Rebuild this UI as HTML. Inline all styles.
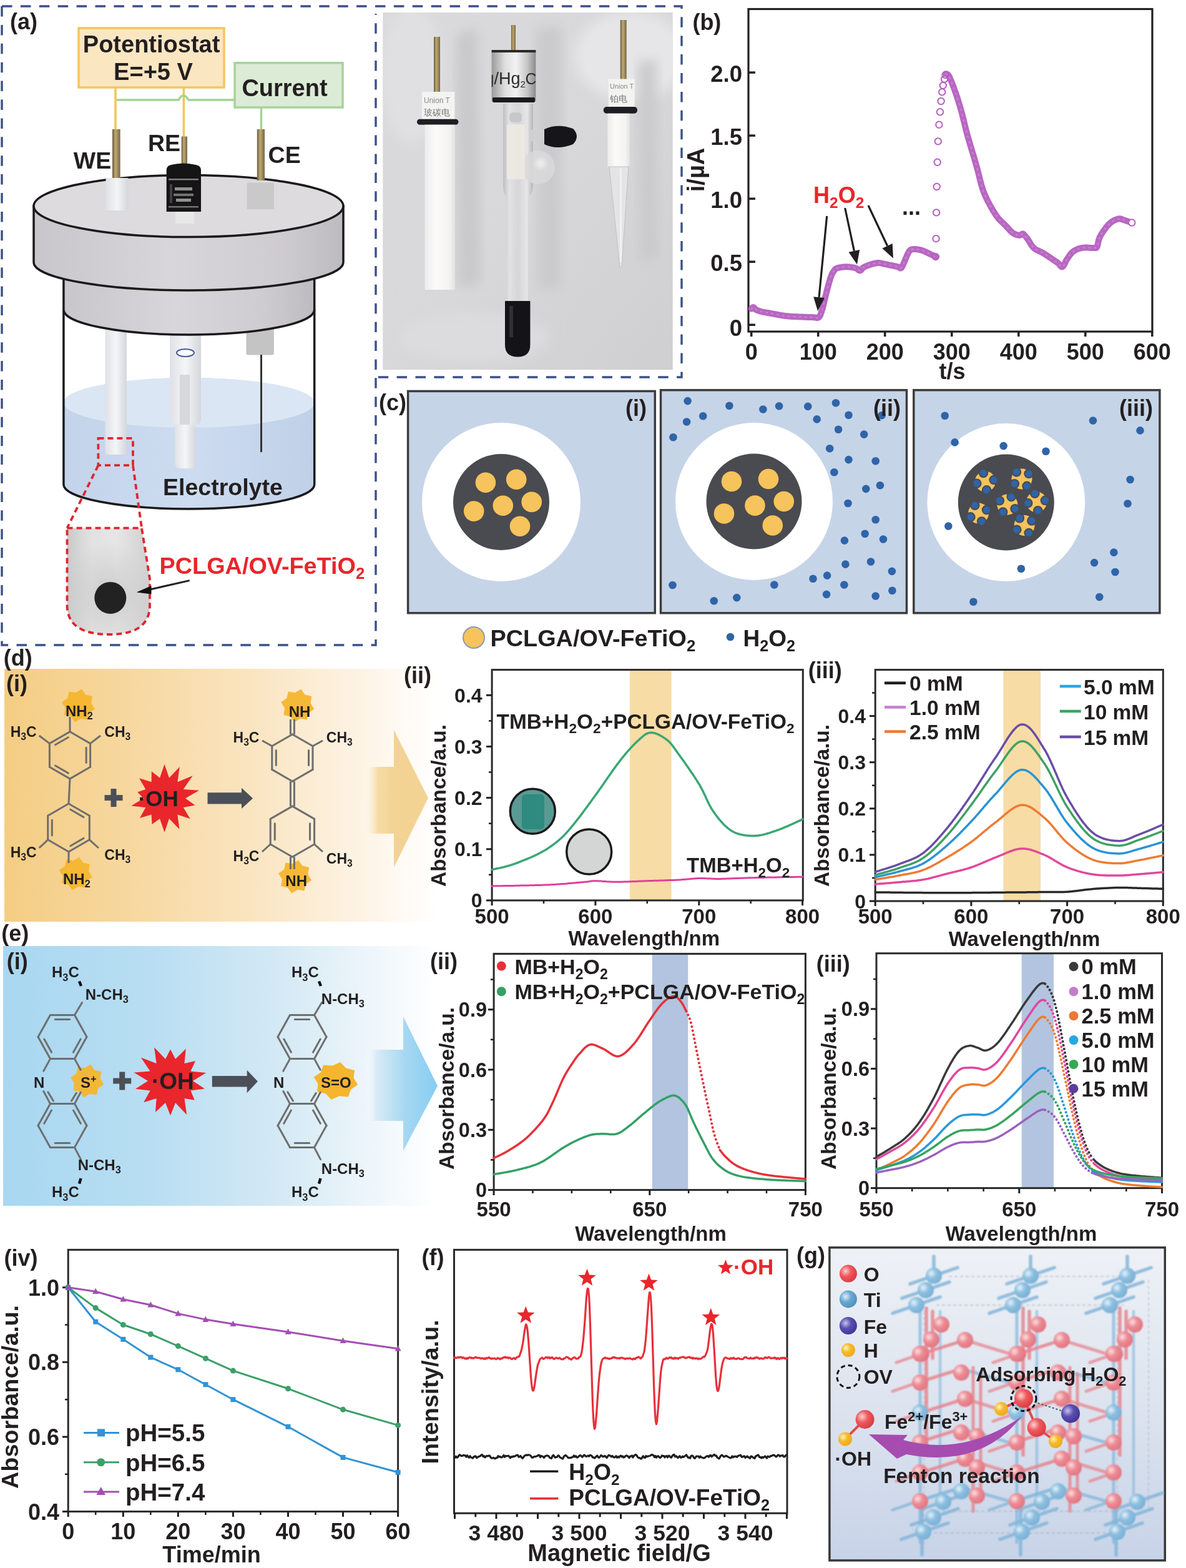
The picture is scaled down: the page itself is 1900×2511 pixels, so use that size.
<!DOCTYPE html>
<html><head><meta charset="utf-8"><title>Figure</title>
<style>html,body{margin:0;padding:0;background:#fff;} svg{display:block;} text{font-family:"Liberation Sans", Arial, sans-serif;}</style>
</head><body>
<svg width="1900" height="2511" viewBox="0 0 1900 2511">
<rect width="1900" height="2511" fill="#ffffff"/>
<path d="M3,10 H1092 V604 H602" stroke="#3b4f8a" stroke-width="3.4" stroke-dasharray="16.5 13.4" fill="none"/>
<path d="M3,10 V1033 H602 V22" stroke="#3b4f8a" stroke-width="3.4" stroke-dasharray="16.5 13.4" fill="none"/>
<rect x="126.0" y="45.0" width="233.0" height="95.0" fill="#fbe6c2" stroke="#f4c560" stroke-width="3.5" />
<text x="242.6" y="84.4" font-size="38" text-anchor="middle" fill="#231f20" font-weight="bold" >Potentiostat</text>
<text x="245.5" y="127.8" font-size="38" text-anchor="middle" fill="#231f20" font-weight="bold" >E=+5 V</text>
<rect x="376.0" y="100.7" width="173.0" height="71.3" fill="#dbebd5" stroke="#a6d399" stroke-width="3.5" />
<text x="456.0" y="153.7" font-size="38" text-anchor="middle" fill="#231f20" font-weight="bold" >Current</text>
<line x1="185.0" y1="140.0" x2="185.0" y2="210.0" stroke="#f2c653" stroke-width="3.5" />
<line x1="294.4" y1="140.0" x2="294.4" y2="220.0" stroke="#f2c653" stroke-width="3.5" />
<path d="M187,160 H286 Q294,146 302,160 H376" stroke="#a3d394" stroke-width="3.5" fill="none"/>
<line x1="418.5" y1="172.0" x2="418.5" y2="210.0" stroke="#a3d394" stroke-width="3.5" />
<defs>
<linearGradient id="gLid" x1="0" x2="1" y1="0" y2="0"><stop offset="0" stop-color="#c9c6cb"/><stop offset="0.45" stop-color="#d8d6da"/><stop offset="0.8" stop-color="#cfccd1"/><stop offset="1" stop-color="#bdbac0"/></linearGradient>
<linearGradient id="gLiq" x1="0" x2="1" y1="0" y2="0"><stop offset="0" stop-color="#c3d3ea"/><stop offset="0.5" stop-color="#cddcf0"/><stop offset="1" stop-color="#c0d0e8"/></linearGradient>
<linearGradient id="gRod" x1="0" x2="1"><stop offset="0" stop-color="#675a40"/><stop offset="0.4" stop-color="#c2aa6e"/><stop offset="1" stop-color="#756648"/></linearGradient>
<linearGradient id="gTube" x1="0" x2="1"><stop offset="0" stop-color="#dfe1e6"/><stop offset="0.5" stop-color="#f4f5f7"/><stop offset="1" stop-color="#d4d6dc"/></linearGradient>
<radialGradient id="gTip" cx="0.5" cy="0.45" r="0.6"><stop offset="0" stop-color="#c9c9c9"/><stop offset="0.6" stop-color="#dadada"/><stop offset="1" stop-color="#f0f0f0"/></radialGradient>
</defs>
<path d="M101.9,496 V776 A200.9,39 0 0 0 503.7,776 V496 Z" fill="#ffffff" stroke="none"/>
<path d="M101.9,645 V776 A200.9,39 0 0 0 503.7,776 V645 A200.9,40 0 0 0 101.9,645 Z" fill="url(#gLiq)"/>
<ellipse cx="302.8" cy="645" rx="200.9" ry="40" fill="#dbe6f4"/>
<rect x="168.5" y="480.0" width="34.5" height="248.0" fill="url(#gTube)" stroke="none" stroke-width="0" rx="3"/>
<rect x="272.0" y="480.0" width="50.0" height="200.0" fill="url(#gTube)" stroke="none" stroke-width="0" rx="8"/>
<rect x="280.0" y="680.0" width="34.0" height="70.0" fill="url(#gTube)" stroke="none" stroke-width="0" rx="8"/>
<ellipse cx="297" cy="565" rx="14" ry="6" fill="#ffffff" stroke="#4a5c9a" stroke-width="2"/>
<rect x="288.0" y="600.0" width="16.0" height="80.0" fill="#d0d2d6" stroke="none" stroke-width="0" opacity="0.8"/>
<rect x="394.4" y="520.0" width="44.5" height="48.5" fill="#c4c4c4" stroke="none" stroke-width="0" rx="3"/>
<line x1="418.5" y1="568.0" x2="418.5" y2="724.0" stroke="#333" stroke-width="3" />
<path d="M101.9,496 V776 A200.9,39 0 0 0 503.7,776 V496" fill="none" stroke="#1a1a1a" stroke-width="3.5"/>
<path d="M101.9,440 V496 A200.9,40 0 0 0 503.7,496 V440 Z" fill="url(#gLid)" stroke="#1a1a1a" stroke-width="3.5"/>
<path d="M54,330 V420 A248,45 0 0 0 550,420 V330 Z" fill="url(#gLid)" stroke="#1a1a1a" stroke-width="3.5"/>
<ellipse cx="302" cy="330" rx="248" ry="49.6" fill="#dddbde" stroke="#1a1a1a" stroke-width="3.5"/>
<rect x="169.6" y="285.0" width="36.0" height="52.0" fill="url(#gTube)" stroke="none" stroke-width="0" />
<rect x="180.0" y="207.0" width="12.6" height="78.0" fill="url(#gRod)" stroke="none" stroke-width="0" />
<rect x="290.7" y="218.5" width="9.3" height="48.0" fill="url(#gRod)" stroke="none" stroke-width="0" />
<rect x="281.0" y="336.0" width="30.0" height="22.0" fill="#e8e8e8" stroke="none" stroke-width="0" />
<path d="M266.7,339 V272 Q266.7,266 274,264 Q294,259 314,264 Q322,266 322,272 V339 Z" fill="#151515"/>
<rect x="270.0" y="286.0" width="48.0" height="2.5" fill="#9a9a9a" stroke="none" stroke-width="0" opacity="0.8"/>
<rect x="270.0" y="330.0" width="48.0" height="2.5" fill="#8a8a8a" stroke="none" stroke-width="0" opacity="0.8"/>
<rect x="280.0" y="300.0" width="28.0" height="5.0" fill="#bbbbbb" stroke="none" stroke-width="0" opacity="0.75"/>
<rect x="278.0" y="310.0" width="32.0" height="4.0" fill="#9a9a9a" stroke="none" stroke-width="0" opacity="0.7"/>
<rect x="282.0" y="318.0" width="24.0" height="5.0" fill="#bbbbbb" stroke="none" stroke-width="0" opacity="0.75"/>
<rect x="272.0" y="295.0" width="4.0" height="30.0" fill="#555" stroke="none" stroke-width="0" opacity="0.7"/>
<rect x="395.5" y="292.6" width="43.4" height="42.4" fill="#c9c9c9" stroke="none" stroke-width="0" />
<rect x="411.8" y="207.0" width="12.2" height="82.0" fill="url(#gRod)" stroke="none" stroke-width="0" />
<text x="117.8" y="269.6" font-size="37.5" text-anchor="start" fill="#231f20" font-weight="bold" >WE</text>
<text x="237.0" y="241.5" font-size="37.5" text-anchor="start" fill="#231f20" font-weight="bold" >RE</text>
<text x="429.6" y="261.0" font-size="37.5" text-anchor="start" fill="#231f20" font-weight="bold" >CE</text>
<text x="261.0" y="792.6" font-size="37.5" text-anchor="start" fill="#231f20" font-weight="bold" >Electrolyte</text>
<defs><linearGradient id="gCall" x1="0" x2="1"><stop offset="0" stop-color="#c9cacb"/><stop offset="0.3" stop-color="#e2e2e2"/><stop offset="0.6" stop-color="#e6e6e6"/><stop offset="1" stop-color="#cfcfd0"/></linearGradient><radialGradient id="gCall2" cx="0.5" cy="0.62" r="0.5"><stop offset="0" stop-color="#bdbdbd" stop-opacity="0.6"/><stop offset="1" stop-color="#bdbdbd" stop-opacity="0"/></radialGradient></defs>
<path d="M107.5,845.7 H227 L240,927 V969 Q240,1016 175.6,1016 Q107.5,1016 107.5,969 Z" fill="url(#gCall)"/>
<path d="M107.5,845.7 H227 L240,927 V969 Q240,1016 175.6,1016 Q107.5,1016 107.5,969 Z" fill="url(#gCall2)"/>
<circle cx="176.8" cy="957.4" r="25.5" fill="#222222" stroke="none" stroke-width="0" />
<path d="M107.5,845.7 H227 L240,927 V969 Q240,1016 175.6,1016 Q107.5,1016 107.5,969 Z" stroke="#e0262e" stroke-width="3.8" stroke-dasharray="9 6" fill="none"/>
<path d="M157.4,701.8 H213 V745.2 H157.4 Z" stroke="#e0262e" stroke-width="3.8" stroke-dasharray="9 6" fill="none"/>
<path d="M157.4,745.2 L107.5,845.7 M213,745.2 L227,845.7" stroke="#e0262e" stroke-width="3.8" stroke-dasharray="9 6" fill="none"/>
<line x1="303.7" y1="929.6" x2="238.0" y2="944.5" stroke="#231f20" stroke-width="3" />
<polygon points="218.6,948.4 242.5,938.0 242.5,951.4" fill="#111" stroke="none" stroke-width="0" />
<text x="255.6" y="918.5" font-size="37.8" text-anchor="start" fill="#e8262b" font-weight="bold" >PCLGA/OV-FeTiO<tspan dy="8.3" font-size="25.7">2</tspan></text>
<text x="16.0" y="47.0" font-size="36" text-anchor="start" fill="#231f20" font-weight="bold" >(a)</text>
<defs>
<linearGradient id="gPh" x1="0" x2="1" y1="0" y2="1"><stop offset="0" stop-color="#dadadc"/><stop offset="0.5" stop-color="#d8d8da"/><stop offset="1" stop-color="#cfcfd1"/></linearGradient>
<linearGradient id="gWhite" x1="0" x2="1"><stop offset="0" stop-color="#ececec"/><stop offset="0.35" stop-color="#fbfaf9"/><stop offset="0.8" stop-color="#f4f3f2"/><stop offset="1" stop-color="#e2e2e2"/></linearGradient>
<linearGradient id="gMetal" x1="0" x2="1"><stop offset="0" stop-color="#9a9a9a"/><stop offset="0.3" stop-color="#dedede"/><stop offset="0.55" stop-color="#f2f2f2"/><stop offset="0.8" stop-color="#c8c8c8"/><stop offset="1" stop-color="#8a8a8a"/></linearGradient>
<linearGradient id="gGlass" x1="0" x2="1"><stop offset="0" stop-color="#b9b9bb"/><stop offset="0.2" stop-color="#e4e4e6"/><stop offset="0.5" stop-color="#d6d6d8"/><stop offset="0.8" stop-color="#e8e8ea"/><stop offset="1" stop-color="#b0b0b3"/></linearGradient>
<filter id="fBl" x="-20%" y="-20%" width="140%" height="140%"><feGaussianBlur stdDeviation="9"/></filter>
<filter id="fBl2" x="-20%" y="-20%" width="140%" height="140%"><feGaussianBlur stdDeviation="3"/></filter>
<clipPath id="cPh"><rect x="613.3" y="20" width="464.4" height="572"/></clipPath>
<clipPath id="cCap"><rect x="787.6" y="81.7" width="70.8" height="80.6"/></clipPath>
</defs>
<rect x="613.3" y="20.0" width="464.4" height="572.0" fill="url(#gPh)" stroke="none" stroke-width="0" />
<g clip-path="url(#cPh)">
<ellipse cx="1010" cy="90" rx="90" ry="70" fill="#e6e6e8" filter="url(#fBl)"/>
<ellipse cx="660" cy="120" rx="50" ry="110" fill="#e0e0e2" filter="url(#fBl)"/>
<ellipse cx="760" cy="540" rx="120" ry="40" fill="#dcdcde" filter="url(#fBl)"/>
<path d="M732,55 L765,45 L770,455 L734,460 Z" fill="#c9c9cc" filter="url(#fBl)"/>
<path d="M858,45 L900,40 L900,460 L862,465 Z" fill="#cbcbce" filter="url(#fBl)"/>
<path d="M1022,100 L1052,95 L1055,415 L1024,420 Z" fill="#cbcbce" filter="url(#fBl)"/>
</g>
<rect x="695.0" y="59.0" width="10.0" height="90.0" fill="url(#gRod)" stroke="none" stroke-width="0" />
<rect x="676.0" y="147.0" width="52.4" height="44.0" fill="#f3f3f1" stroke="none" stroke-width="0" />
<text x="679.0" y="165.0" font-size="12" text-anchor="start" fill="#8a8a8a" font-weight="normal" >Union T</text>
<text x="679.0" y="185.0" font-size="14" text-anchor="start" fill="#777" font-weight="normal" >玻碳电</text>
<rect x="668" y="190.7" width="66.4" height="9" rx="4.5" fill="#1e1e22"/>
<rect x="680.6" y="199.7" width="48.4" height="264.3" fill="url(#gWhite)" stroke="none" stroke-width="0" />
<rect x="819.0" y="40.0" width="7.0" height="42.0" fill="url(#gRod)" stroke="none" stroke-width="0" />
<rect x="787.6" y="81.7" width="70.8" height="80.6" fill="url(#gMetal)" stroke="none" stroke-width="0" />
<rect x="787.6" y="80.0" width="70.8" height="4.0" fill="#2a2a2a" stroke="none" stroke-width="0" />
<rect x="789.0" y="156.0" width="68.0" height="8.0" fill="#1a1a1a" stroke="none" stroke-width="0" rx="2"/>
<g clip-path="url(#cCap)"><text x="776.5" y="135.0" font-size="27" text-anchor="start" fill="#2a2a2a" font-weight="normal" >g/Hg</text><text x="841.5" y="135.0" font-size="25" text-anchor="start" fill="#2a2a2a" font-weight="normal" >Cl</text><text x="833.5" y="140.0" font-size="15" text-anchor="start" fill="#2a2a2a" font-weight="normal" >2</text></g>
<path d="M806,166 H854 V292 Q854,312 846,316 V482 H812 V316 Q806,312 806,292 Z" fill="url(#gGlass)" opacity="0.85"/>
<circle cx="862" cy="268" r="27" fill="#d9d9db" opacity="0.85"/>
<circle cx="866" cy="262" r="8" fill="#f2f2f2" opacity="0.8" filter="url(#fBl2)"/>
<rect x="812.0" y="199.0" width="29.0" height="88.0" fill="#ece8e2" stroke="none" stroke-width="0" opacity="0.95"/>
<rect x="816.0" y="180.0" width="20.0" height="16.0" fill="#c8c8c8" stroke="none" stroke-width="0" rx="6"/>
<rect x="850.0" y="208.0" width="24.0" height="18.0" fill="#d0d0d2" stroke="none" stroke-width="0" />
<path d="M872,207 Q893,197 918,206 Q930,218 918,231 Q893,241 872,231 Z" fill="#16161a"/>
<path d="M809,482 H849.4 V552 Q849.4,571.5 829.2,571.5 Q809,571.5 809,552 Z" fill="#141418"/>
<rect x="816.0" y="490.0" width="6.0" height="50.0" fill="#3a3a40" stroke="none" stroke-width="0" opacity="0.7"/>
<rect x="993.7" y="32.0" width="10.0" height="95.0" fill="url(#gRod)" stroke="none" stroke-width="0" />
<rect x="974.8" y="126.5" width="41.9" height="46.3" fill="#f3f3f1" stroke="none" stroke-width="0" />
<text x="977.0" y="142.0" font-size="11" text-anchor="start" fill="#8a8a8a" font-weight="normal" >Union T</text>
<text x="977.0" y="163.0" font-size="14" text-anchor="start" fill="#777" font-weight="normal" >铂电</text>
<rect x="966.8" y="171" width="54.2" height="10.7" rx="5" fill="#1e1e22"/>
<rect x="973.4" y="181.7" width="35.6" height="85.2" fill="url(#gWhite)" stroke="none" stroke-width="0" />
<path d="M976,267 H1007 L996,428 H993 Z" fill="#e4e4e6" stroke="#c4c4c6" stroke-width="1.2"/>
<line x1="994.5" y1="270.0" x2="994.5" y2="420.0" stroke="#f6f6f6" stroke-width="2" />
<rect x="1199.0" y="14.5" width="647.0" height="516.5" fill="none" stroke="#231f20" stroke-width="3.2" />
<line x1="1199.0" y1="520.2" x2="1210.0" y2="520.2" stroke="#231f20" stroke-width="3.5" />
<line x1="1199.0" y1="419.2" x2="1210.0" y2="419.2" stroke="#231f20" stroke-width="3.5" />
<line x1="1199.0" y1="318.2" x2="1210.0" y2="318.2" stroke="#231f20" stroke-width="3.5" />
<line x1="1199.0" y1="217.1" x2="1210.0" y2="217.1" stroke="#231f20" stroke-width="3.5" />
<line x1="1199.0" y1="116.1" x2="1210.0" y2="116.1" stroke="#231f20" stroke-width="3.5" />
<text x="1189.0" y="538.2" font-size="36.5" text-anchor="end" fill="#231f20" font-weight="bold" >0</text>
<text x="1189.0" y="434.2" font-size="36.5" text-anchor="end" fill="#231f20" font-weight="bold" >0.5</text>
<text x="1189.0" y="333.2" font-size="36.5" text-anchor="end" fill="#231f20" font-weight="bold" >1.0</text>
<text x="1189.0" y="232.1" font-size="36.5" text-anchor="end" fill="#231f20" font-weight="bold" >1.5</text>
<text x="1189.0" y="131.1" font-size="36.5" text-anchor="end" fill="#231f20" font-weight="bold" >2.0</text>
<line x1="1203.7" y1="531.0" x2="1203.7" y2="539.0" stroke="#231f20" stroke-width="3.5" />
<text x="1203.7" y="575.8" font-size="36" text-anchor="middle" fill="#231f20" font-weight="bold" >0</text>
<line x1="1310.7" y1="531.0" x2="1310.7" y2="539.0" stroke="#231f20" stroke-width="3.5" />
<text x="1310.7" y="575.8" font-size="36" text-anchor="middle" fill="#231f20" font-weight="bold" >100</text>
<line x1="1417.7" y1="531.0" x2="1417.7" y2="539.0" stroke="#231f20" stroke-width="3.5" />
<text x="1417.7" y="575.8" font-size="36" text-anchor="middle" fill="#231f20" font-weight="bold" >200</text>
<line x1="1524.8" y1="531.0" x2="1524.8" y2="539.0" stroke="#231f20" stroke-width="3.5" />
<text x="1524.8" y="575.8" font-size="36" text-anchor="middle" fill="#231f20" font-weight="bold" >300</text>
<line x1="1631.8" y1="531.0" x2="1631.8" y2="539.0" stroke="#231f20" stroke-width="3.5" />
<text x="1631.8" y="575.8" font-size="36" text-anchor="middle" fill="#231f20" font-weight="bold" >400</text>
<line x1="1738.8" y1="531.0" x2="1738.8" y2="539.0" stroke="#231f20" stroke-width="3.5" />
<text x="1738.8" y="575.8" font-size="36" text-anchor="middle" fill="#231f20" font-weight="bold" >500</text>
<line x1="1845.8" y1="531.0" x2="1845.8" y2="539.0" stroke="#231f20" stroke-width="3.5" />
<text x="1845.8" y="575.8" font-size="36" text-anchor="middle" fill="#231f20" font-weight="bold" >600</text>
<text x="1525.5" y="607.0" font-size="36" text-anchor="middle" fill="#231f20" font-weight="bold" >t/s</text>
<text x="0" y="0" font-size="38" text-anchor="middle" fill="#231f20" font-weight="bold" transform="translate(1128.2,272.0) rotate(-90)" >i/µA</text>
<text x="1109.4" y="47.5" font-size="36" text-anchor="start" fill="#231f20" font-weight="bold" >(b)</text>
<polyline points="1203.7,494.5 1203.9,494.4 1204.1,494.1 1204.4,493.7 1204.7,493.4 1205.0,493.0 1205.4,492.6 1205.8,492.3 1206.1,492.1 1206.5,491.9 1206.9,491.9 1207.3,492.1 1207.6,492.3 1208.0,492.7 1208.3,493.1 1208.7,493.6 1209.1,494.1 1209.6,494.6 1210.0,495.1 1210.6,495.6 1211.2,496.0 1211.8,496.3 1212.5,496.6 1213.2,496.9 1213.9,497.2 1214.7,497.5 1215.6,497.8 1216.5,498.1 1217.5,498.4 1218.6,498.7 1219.8,499.0 1221.0,499.3 1222.4,499.6 1223.8,499.9 1225.3,500.1 1226.8,500.4 1228.5,500.7 1230.2,501.0 1232.0,501.3 1233.9,501.7 1235.8,502.0 1237.9,502.4 1240.0,502.8 1242.3,503.2 1244.6,503.7 1247.0,504.1 1249.5,504.6 1252.0,505.0 1254.5,505.4 1256.9,505.8 1259.3,506.1 1261.8,506.3 1264.3,506.5 1266.9,506.7 1269.4,506.9 1272.0,507.0 1274.5,507.1 1277.0,507.2 1279.4,507.3 1281.8,507.4 1284.0,507.5 1286.1,507.6 1288.1,507.7 1290.2,507.7 1292.1,507.8 1294.0,507.9 1295.8,507.9 1297.5,508.0 1299.2,508.0 1300.7,508.0 1302.2,508.1 1303.5,508.2 1304.7,508.3 1305.8,508.5 1306.8,508.7 1307.8,508.9 1308.7,509.0 1309.5,509.0 1310.3,508.9 1311.0,508.6 1311.8,508.1 1312.5,507.4 1313.1,506.6 1313.7,505.6 1314.3,504.5 1314.7,503.3 1315.2,502.0 1315.7,500.6 1316.2,499.1 1316.6,497.5 1317.1,496.0 1317.7,494.3 1318.2,492.4 1318.7,490.4 1319.2,488.4 1319.7,486.2 1320.2,484.1 1320.7,481.9 1321.2,479.8 1321.7,477.7 1322.2,475.7 1322.6,473.8 1323.1,472.0 1323.6,470.1 1324.0,468.2 1324.5,466.4 1324.9,464.6 1325.4,462.8 1325.8,461.0 1326.3,459.3 1326.8,457.6 1327.3,455.8 1327.8,454.1 1328.3,452.3 1328.8,450.6 1329.3,448.9 1329.8,447.2 1330.3,445.6 1330.8,444.1 1331.3,442.7 1331.8,441.4 1332.3,440.2 1332.7,439.2 1333.2,438.3 1333.6,437.4 1334.1,436.6 1334.5,435.9 1335.0,435.2 1335.5,434.5 1335.9,433.9 1336.4,433.3 1336.9,432.7 1337.2,432.2 1337.6,431.7 1338.0,431.3 1338.4,430.9 1338.8,430.6 1339.3,430.2 1339.9,429.9 1340.7,429.6 1341.5,429.3 1342.6,429.0 1343.8,428.7 1345.1,428.4 1346.5,428.1 1348.0,427.9 1349.5,427.7 1351.1,427.5 1352.6,427.4 1354.2,427.3 1355.7,427.3 1357.2,427.3 1358.7,427.4 1360.3,427.5 1362.0,427.7 1363.6,427.9 1365.2,428.1 1366.7,428.4 1368.1,428.7 1369.5,429.0 1370.6,429.3 1371.7,429.6 1372.6,430.1 1373.4,430.7 1374.1,431.2 1374.7,431.8 1375.3,432.3 1375.9,432.8 1376.5,433.1 1377.1,433.3 1377.8,433.3 1378.5,433.1 1379.1,432.8 1379.6,432.2 1380.1,431.6 1380.7,430.9 1381.3,430.2 1382.0,429.4 1382.9,428.6 1383.9,427.9 1385.1,427.3 1386.6,426.6 1388.3,425.9 1390.2,425.2 1392.2,424.4 1394.3,423.7 1396.5,423.0 1398.6,422.4 1400.7,421.9 1402.7,421.5 1404.5,421.2 1406.1,421.1 1407.6,421.1 1409.0,421.1 1410.3,421.3 1411.6,421.6 1413.0,421.9 1414.3,422.2 1415.7,422.6 1417.2,422.9 1418.8,423.2 1420.6,423.5 1422.6,423.9 1424.7,424.3 1426.8,424.8 1429.0,425.2 1431.1,425.7 1433.2,426.1 1435.0,426.5 1436.7,426.9 1438.1,427.3 1439.2,427.6 1440.0,428.0 1440.7,428.3 1441.2,428.7 1441.7,429.0 1442.0,429.3 1442.3,429.5 1442.6,429.6 1443.0,429.5 1443.4,429.3 1443.9,428.9 1444.4,428.4 1444.8,427.7 1445.3,427.0 1445.7,426.1 1446.2,425.2 1446.6,424.2 1447.1,423.2 1447.5,422.2 1448.0,421.2 1448.5,420.1 1449.0,419.0 1449.5,417.7 1450.0,416.4 1450.5,415.1 1451.0,413.8 1451.6,412.5 1452.1,411.3 1452.6,410.1 1453.0,409.1 1453.5,408.1 1454.0,407.1 1454.4,406.2 1454.8,405.3 1455.3,404.4 1455.7,403.6 1456.2,402.8 1456.7,402.2 1457.2,401.5 1457.8,401.0 1458.3,400.5 1458.9,400.1 1459.5,399.8 1460.2,399.6 1460.8,399.3 1461.5,399.2 1462.2,399.1 1463.0,399.0 1463.9,399.0 1464.8,399.0 1465.8,399.0 1467.0,399.1 1468.2,399.2 1469.4,399.3 1470.7,399.5 1472.0,399.8 1473.3,400.0 1474.7,400.3 1475.9,400.6 1477.1,401.0 1478.3,401.4 1479.5,401.8 1480.6,402.3 1481.7,402.8 1482.9,403.3 1484.0,403.9 1485.1,404.4 1486.2,405.0 1487.3,405.5 1488.4,406.0 1489.5,406.6 1490.7,407.1 1491.9,407.7 1493.1,408.3 1494.3,408.9 1495.4,409.4 1496.5,409.9 1497.4,410.4 1498.2,410.8 1498.9,411.1" fill="none" stroke="#b45fbf" stroke-width="10" stroke-linejoin="round" stroke-linecap="round" opacity="0.95"/>
<polyline points="1203.7,494.5 1203.9,494.4 1204.1,494.1 1204.4,493.7 1204.7,493.4 1205.0,493.0 1205.4,492.6 1205.8,492.3 1206.1,492.1 1206.5,491.9 1206.9,491.9 1207.3,492.1 1207.6,492.3 1208.0,492.7 1208.3,493.1 1208.7,493.6 1209.1,494.1 1209.6,494.6 1210.0,495.1 1210.6,495.6 1211.2,496.0 1211.8,496.3 1212.5,496.6 1213.2,496.9 1213.9,497.2 1214.7,497.5 1215.6,497.8 1216.5,498.1 1217.5,498.4 1218.6,498.7 1219.8,499.0 1221.0,499.3 1222.4,499.6 1223.8,499.9 1225.3,500.1 1226.8,500.4 1228.5,500.7 1230.2,501.0 1232.0,501.3 1233.9,501.7 1235.8,502.0 1237.9,502.4 1240.0,502.8 1242.3,503.2 1244.6,503.7 1247.0,504.1 1249.5,504.6 1252.0,505.0 1254.5,505.4 1256.9,505.8 1259.3,506.1 1261.8,506.3 1264.3,506.5 1266.9,506.7 1269.4,506.9 1272.0,507.0 1274.5,507.1 1277.0,507.2 1279.4,507.3 1281.8,507.4 1284.0,507.5 1286.1,507.6 1288.1,507.7 1290.2,507.7 1292.1,507.8 1294.0,507.9 1295.8,507.9 1297.5,508.0 1299.2,508.0 1300.7,508.0 1302.2,508.1 1303.5,508.2 1304.7,508.3 1305.8,508.5 1306.8,508.7 1307.8,508.9 1308.7,509.0 1309.5,509.0 1310.3,508.9 1311.0,508.6 1311.8,508.1 1312.5,507.4 1313.1,506.6 1313.7,505.6 1314.3,504.5 1314.7,503.3 1315.2,502.0 1315.7,500.6 1316.2,499.1 1316.6,497.5 1317.1,496.0 1317.7,494.3 1318.2,492.4 1318.7,490.4 1319.2,488.4 1319.7,486.2 1320.2,484.1 1320.7,481.9 1321.2,479.8 1321.7,477.7 1322.2,475.7 1322.6,473.8 1323.1,472.0 1323.6,470.1 1324.0,468.2 1324.5,466.4 1324.9,464.6 1325.4,462.8 1325.8,461.0 1326.3,459.3 1326.8,457.6 1327.3,455.8 1327.8,454.1 1328.3,452.3 1328.8,450.6 1329.3,448.9 1329.8,447.2 1330.3,445.6 1330.8,444.1 1331.3,442.7 1331.8,441.4 1332.3,440.2 1332.7,439.2 1333.2,438.3 1333.6,437.4 1334.1,436.6 1334.5,435.9 1335.0,435.2 1335.5,434.5 1335.9,433.9 1336.4,433.3 1336.9,432.7 1337.2,432.2 1337.6,431.7 1338.0,431.3 1338.4,430.9 1338.8,430.6 1339.3,430.2 1339.9,429.9 1340.7,429.6 1341.5,429.3 1342.6,429.0 1343.8,428.7 1345.1,428.4 1346.5,428.1 1348.0,427.9 1349.5,427.7 1351.1,427.5 1352.6,427.4 1354.2,427.3 1355.7,427.3 1357.2,427.3 1358.7,427.4 1360.3,427.5 1362.0,427.7 1363.6,427.9 1365.2,428.1 1366.7,428.4 1368.1,428.7 1369.5,429.0 1370.6,429.3 1371.7,429.6 1372.6,430.1 1373.4,430.7 1374.1,431.2 1374.7,431.8 1375.3,432.3 1375.9,432.8 1376.5,433.1 1377.1,433.3 1377.8,433.3 1378.5,433.1 1379.1,432.8 1379.6,432.2 1380.1,431.6 1380.7,430.9 1381.3,430.2 1382.0,429.4 1382.9,428.6 1383.9,427.9 1385.1,427.3 1386.6,426.6 1388.3,425.9 1390.2,425.2 1392.2,424.4 1394.3,423.7 1396.5,423.0 1398.6,422.4 1400.7,421.9 1402.7,421.5 1404.5,421.2 1406.1,421.1 1407.6,421.1 1409.0,421.1 1410.3,421.3 1411.6,421.6 1413.0,421.9 1414.3,422.2 1415.7,422.6 1417.2,422.9 1418.8,423.2 1420.6,423.5 1422.6,423.9 1424.7,424.3 1426.8,424.8 1429.0,425.2 1431.1,425.7 1433.2,426.1 1435.0,426.5 1436.7,426.9 1438.1,427.3 1439.2,427.6 1440.0,428.0 1440.7,428.3 1441.2,428.7 1441.7,429.0 1442.0,429.3 1442.3,429.5 1442.6,429.6 1443.0,429.5 1443.4,429.3 1443.9,428.9 1444.4,428.4 1444.8,427.7 1445.3,427.0 1445.7,426.1 1446.2,425.2 1446.6,424.2 1447.1,423.2 1447.5,422.2 1448.0,421.2 1448.5,420.1 1449.0,419.0 1449.5,417.7 1450.0,416.4 1450.5,415.1 1451.0,413.8 1451.6,412.5 1452.1,411.3 1452.6,410.1 1453.0,409.1 1453.5,408.1 1454.0,407.1 1454.4,406.2 1454.8,405.3 1455.3,404.4 1455.7,403.6 1456.2,402.8 1456.7,402.2 1457.2,401.5 1457.8,401.0 1458.3,400.5 1458.9,400.1 1459.5,399.8 1460.2,399.6 1460.8,399.3 1461.5,399.2 1462.2,399.1 1463.0,399.0 1463.9,399.0 1464.8,399.0 1465.8,399.0 1467.0,399.1 1468.2,399.2 1469.4,399.3 1470.7,399.5 1472.0,399.8 1473.3,400.0 1474.7,400.3 1475.9,400.6 1477.1,401.0 1478.3,401.4 1479.5,401.8 1480.6,402.3 1481.7,402.8 1482.9,403.3 1484.0,403.9 1485.1,404.4 1486.2,405.0 1487.3,405.5 1488.4,406.0 1489.5,406.6 1490.7,407.1 1491.9,407.7 1493.1,408.3 1494.3,408.9 1495.4,409.4 1496.5,409.9 1497.4,410.4 1498.2,410.8 1498.9,411.1" fill="none" stroke="#c98ad2" stroke-width="2.2" stroke-linejoin="round" stroke-linecap="round" stroke-dasharray="2 7" opacity="0.9"/>
<polyline points="1515.1,118.1 1515.4,118.3 1515.8,118.3 1516.2,118.4 1516.7,118.5 1517.2,118.6 1517.8,118.9 1518.4,119.3 1519.0,120.0 1519.7,120.9 1520.5,122.2 1521.3,123.7 1522.1,125.6 1523.0,127.8 1524.0,130.1 1525.0,132.6 1526.0,135.3 1527.1,138.1 1528.1,140.8 1529.1,143.6 1530.1,146.4 1531.1,149.1 1532.0,151.9 1533.0,154.7 1533.9,157.6 1534.9,160.6 1535.8,163.6 1536.8,166.7 1537.8,169.9 1538.7,173.2 1539.7,176.7 1540.7,180.3 1541.7,184.0 1542.6,187.8 1543.6,191.8 1544.6,195.8 1545.6,199.9 1546.6,204.1 1547.7,208.4 1548.8,212.7 1550.0,217.1 1551.3,221.7 1552.7,226.5 1554.2,231.5 1555.7,236.5 1557.2,241.6 1558.8,246.7 1560.3,251.7 1561.7,256.6 1563.1,261.2 1564.3,265.6 1565.5,269.8 1566.6,273.9 1567.5,277.8 1568.5,281.6 1569.4,285.3 1570.3,288.9 1571.2,292.3 1572.1,295.7 1573.0,298.9 1574.0,302.0 1575.0,304.9 1576.0,307.6 1577.0,310.2 1578.0,312.7 1579.1,315.0 1580.1,317.3 1581.2,319.5 1582.3,321.7 1583.5,324.0 1584.7,326.2 1585.9,328.6 1587.2,330.9 1588.6,333.2 1589.9,335.6 1591.3,337.9 1592.7,340.1 1594.1,342.3 1595.5,344.3 1596.9,346.3 1598.2,348.1 1599.4,349.7 1600.7,351.2 1601.9,352.5 1603.2,353.8 1604.4,354.9 1605.6,356.0 1606.8,357.1 1608.0,358.2 1609.2,359.4 1610.4,360.6 1611.6,361.8 1612.8,363.2 1614.0,364.5 1615.2,365.8 1616.4,367.2 1617.6,368.5 1618.8,369.7 1619.9,370.8 1621.0,371.8 1622.1,372.7 1623.2,373.5 1624.3,374.1 1625.4,374.7 1626.4,375.1 1627.4,375.5 1628.4,375.9 1629.3,376.2 1630.2,376.4 1631.0,376.6 1631.8,376.7 1632.4,376.8 1633.0,376.9 1633.5,376.8 1633.9,376.7 1634.3,376.6 1634.7,376.4 1635.0,376.2 1635.3,376.0 1635.7,375.9 1636.0,375.7 1636.4,375.6 1636.7,375.4 1637.0,375.1 1637.2,374.9 1637.5,374.7 1637.7,374.5 1638.0,374.4 1638.4,374.3 1638.8,374.5 1639.3,374.7 1639.8,375.1 1640.4,375.7 1641.0,376.3 1641.7,377.0 1642.4,377.8 1643.1,378.7 1643.9,379.6 1644.7,380.7 1645.5,381.7 1646.3,382.8 1647.2,384.0 1648.0,385.3 1648.9,386.8 1649.8,388.3 1650.7,389.9 1651.7,391.4 1652.7,393.0 1653.8,394.4 1654.9,395.8 1656.1,396.9 1657.3,398.0 1658.7,399.0 1660.1,399.8 1661.6,400.6 1663.2,401.4 1664.7,402.1 1666.2,402.8 1667.8,403.5 1669.2,404.3 1670.6,405.0 1672.0,405.8 1673.3,406.6 1674.5,407.5 1675.8,408.3 1677.1,409.1 1678.3,409.9 1679.5,410.7 1680.7,411.5 1681.9,412.3 1683.1,413.1 1684.4,413.9 1685.6,414.8 1686.8,415.6 1688.1,416.4 1689.3,417.3 1690.5,418.1 1691.6,418.9 1692.8,419.7 1693.8,420.5 1694.8,421.2 1695.7,422.0 1696.5,422.8 1697.3,423.7 1698.0,424.6 1698.7,425.5 1699.4,426.2 1700.0,426.8 1700.7,427.2 1701.4,427.4 1702.1,427.3 1702.8,426.8 1703.5,426.0 1704.2,425.0 1704.9,423.7 1705.6,422.3 1706.3,420.9 1707.0,419.3 1707.7,417.8 1708.5,416.4 1709.4,415.1 1710.2,413.9 1711.1,412.6 1711.9,411.3 1712.8,410.0 1713.7,408.7 1714.7,407.4 1715.7,406.2 1716.7,405.0 1717.8,404.0 1719.0,403.0 1720.2,402.1 1721.5,401.3 1722.8,400.6 1724.2,399.9 1725.6,399.2 1727.1,398.6 1728.6,398.1 1730.2,397.7 1731.8,397.3 1733.4,396.9 1735.2,396.7 1737.2,396.6 1739.3,396.6 1741.5,396.6 1743.7,396.7 1745.8,396.8 1747.8,396.9 1749.7,397.0 1751.3,397.0 1752.7,396.9 1753.8,396.9 1754.6,396.9 1755.2,396.9 1755.7,397.0 1756.1,396.9 1756.4,396.9 1756.6,396.6 1756.9,396.3 1757.2,395.7 1757.6,394.9 1758.1,393.9 1758.4,392.7 1758.7,391.2 1759.0,389.7 1759.4,388.0 1759.7,386.2 1760.2,384.4 1760.8,382.5 1761.5,380.6 1762.3,378.8 1763.4,376.9 1764.6,374.8 1766.0,372.6 1767.5,370.4 1769.0,368.2 1770.7,366.0 1772.3,363.9 1773.9,361.9 1775.5,360.1 1777.0,358.6 1778.5,357.2 1780.0,356.0 1781.5,354.9 1783.0,354.0 1784.5,353.1 1786.0,352.4 1787.5,351.8 1788.9,351.3 1790.2,350.8 1791.4,350.5 1792.6,350.3 1793.6,350.2 1794.5,350.3 1795.4,350.5 1796.3,350.7 1797.1,351.1 1798.0,351.4 1798.9,351.8 1799.8,352.2 1800.9,352.5 1802.0,352.8 1803.3,353.2 1804.7,353.7 1806.2,354.2 1807.6,354.6 1809.0,355.1 1810.3,355.6 1811.4,356.0 1812.4,356.3 1813.2,356.5" fill="none" stroke="#b45fbf" stroke-width="10" stroke-linejoin="round" stroke-linecap="round" opacity="0.95"/>
<polyline points="1515.1,118.1 1515.4,118.3 1515.8,118.3 1516.2,118.4 1516.7,118.5 1517.2,118.6 1517.8,118.9 1518.4,119.3 1519.0,120.0 1519.7,120.9 1520.5,122.2 1521.3,123.7 1522.1,125.6 1523.0,127.8 1524.0,130.1 1525.0,132.6 1526.0,135.3 1527.1,138.1 1528.1,140.8 1529.1,143.6 1530.1,146.4 1531.1,149.1 1532.0,151.9 1533.0,154.7 1533.9,157.6 1534.9,160.6 1535.8,163.6 1536.8,166.7 1537.8,169.9 1538.7,173.2 1539.7,176.7 1540.7,180.3 1541.7,184.0 1542.6,187.8 1543.6,191.8 1544.6,195.8 1545.6,199.9 1546.6,204.1 1547.7,208.4 1548.8,212.7 1550.0,217.1 1551.3,221.7 1552.7,226.5 1554.2,231.5 1555.7,236.5 1557.2,241.6 1558.8,246.7 1560.3,251.7 1561.7,256.6 1563.1,261.2 1564.3,265.6 1565.5,269.8 1566.6,273.9 1567.5,277.8 1568.5,281.6 1569.4,285.3 1570.3,288.9 1571.2,292.3 1572.1,295.7 1573.0,298.9 1574.0,302.0 1575.0,304.9 1576.0,307.6 1577.0,310.2 1578.0,312.7 1579.1,315.0 1580.1,317.3 1581.2,319.5 1582.3,321.7 1583.5,324.0 1584.7,326.2 1585.9,328.6 1587.2,330.9 1588.6,333.2 1589.9,335.6 1591.3,337.9 1592.7,340.1 1594.1,342.3 1595.5,344.3 1596.9,346.3 1598.2,348.1 1599.4,349.7 1600.7,351.2 1601.9,352.5 1603.2,353.8 1604.4,354.9 1605.6,356.0 1606.8,357.1 1608.0,358.2 1609.2,359.4 1610.4,360.6 1611.6,361.8 1612.8,363.2 1614.0,364.5 1615.2,365.8 1616.4,367.2 1617.6,368.5 1618.8,369.7 1619.9,370.8 1621.0,371.8 1622.1,372.7 1623.2,373.5 1624.3,374.1 1625.4,374.7 1626.4,375.1 1627.4,375.5 1628.4,375.9 1629.3,376.2 1630.2,376.4 1631.0,376.6 1631.8,376.7 1632.4,376.8 1633.0,376.9 1633.5,376.8 1633.9,376.7 1634.3,376.6 1634.7,376.4 1635.0,376.2 1635.3,376.0 1635.7,375.9 1636.0,375.7 1636.4,375.6 1636.7,375.4 1637.0,375.1 1637.2,374.9 1637.5,374.7 1637.7,374.5 1638.0,374.4 1638.4,374.3 1638.8,374.5 1639.3,374.7 1639.8,375.1 1640.4,375.7 1641.0,376.3 1641.7,377.0 1642.4,377.8 1643.1,378.7 1643.9,379.6 1644.7,380.7 1645.5,381.7 1646.3,382.8 1647.2,384.0 1648.0,385.3 1648.9,386.8 1649.8,388.3 1650.7,389.9 1651.7,391.4 1652.7,393.0 1653.8,394.4 1654.9,395.8 1656.1,396.9 1657.3,398.0 1658.7,399.0 1660.1,399.8 1661.6,400.6 1663.2,401.4 1664.7,402.1 1666.2,402.8 1667.8,403.5 1669.2,404.3 1670.6,405.0 1672.0,405.8 1673.3,406.6 1674.5,407.5 1675.8,408.3 1677.1,409.1 1678.3,409.9 1679.5,410.7 1680.7,411.5 1681.9,412.3 1683.1,413.1 1684.4,413.9 1685.6,414.8 1686.8,415.6 1688.1,416.4 1689.3,417.3 1690.5,418.1 1691.6,418.9 1692.8,419.7 1693.8,420.5 1694.8,421.2 1695.7,422.0 1696.5,422.8 1697.3,423.7 1698.0,424.6 1698.7,425.5 1699.4,426.2 1700.0,426.8 1700.7,427.2 1701.4,427.4 1702.1,427.3 1702.8,426.8 1703.5,426.0 1704.2,425.0 1704.9,423.7 1705.6,422.3 1706.3,420.9 1707.0,419.3 1707.7,417.8 1708.5,416.4 1709.4,415.1 1710.2,413.9 1711.1,412.6 1711.9,411.3 1712.8,410.0 1713.7,408.7 1714.7,407.4 1715.7,406.2 1716.7,405.0 1717.8,404.0 1719.0,403.0 1720.2,402.1 1721.5,401.3 1722.8,400.6 1724.2,399.9 1725.6,399.2 1727.1,398.6 1728.6,398.1 1730.2,397.7 1731.8,397.3 1733.4,396.9 1735.2,396.7 1737.2,396.6 1739.3,396.6 1741.5,396.6 1743.7,396.7 1745.8,396.8 1747.8,396.9 1749.7,397.0 1751.3,397.0 1752.7,396.9 1753.8,396.9 1754.6,396.9 1755.2,396.9 1755.7,397.0 1756.1,396.9 1756.4,396.9 1756.6,396.6 1756.9,396.3 1757.2,395.7 1757.6,394.9 1758.1,393.9 1758.4,392.7 1758.7,391.2 1759.0,389.7 1759.4,388.0 1759.7,386.2 1760.2,384.4 1760.8,382.5 1761.5,380.6 1762.3,378.8 1763.4,376.9 1764.6,374.8 1766.0,372.6 1767.5,370.4 1769.0,368.2 1770.7,366.0 1772.3,363.9 1773.9,361.9 1775.5,360.1 1777.0,358.6 1778.5,357.2 1780.0,356.0 1781.5,354.9 1783.0,354.0 1784.5,353.1 1786.0,352.4 1787.5,351.8 1788.9,351.3 1790.2,350.8 1791.4,350.5 1792.6,350.3 1793.6,350.2 1794.5,350.3 1795.4,350.5 1796.3,350.7 1797.1,351.1 1798.0,351.4 1798.9,351.8 1799.8,352.2 1800.9,352.5 1802.0,352.8 1803.3,353.2 1804.7,353.7 1806.2,354.2 1807.6,354.6 1809.0,355.1 1810.3,355.6 1811.4,356.0 1812.4,356.3 1813.2,356.5" fill="none" stroke="#c98ad2" stroke-width="2.2" stroke-linejoin="round" stroke-linecap="round" stroke-dasharray="2 7" opacity="0.9"/>
<circle cx="1498.9" cy="411.1" r="5.2" fill="none" stroke="#b45fbf" stroke-width="2" />
<circle cx="1499.6" cy="382.2" r="5.2" fill="none" stroke="#b45fbf" stroke-width="2" />
<circle cx="1500.1" cy="340.4" r="5.2" fill="none" stroke="#b45fbf" stroke-width="2" />
<circle cx="1500.7" cy="299.0" r="5.2" fill="none" stroke="#b45fbf" stroke-width="2" />
<circle cx="1501.7" cy="259.8" r="5.2" fill="none" stroke="#b45fbf" stroke-width="2" />
<circle cx="1502.8" cy="226.4" r="5.2" fill="none" stroke="#b45fbf" stroke-width="2" />
<circle cx="1504.4" cy="199.7" r="5.2" fill="none" stroke="#b45fbf" stroke-width="2" />
<circle cx="1506.0" cy="179.3" r="5.2" fill="none" stroke="#b45fbf" stroke-width="2" />
<circle cx="1507.6" cy="162.0" r="5.2" fill="none" stroke="#b45fbf" stroke-width="2" />
<circle cx="1509.2" cy="147.4" r="5.2" fill="none" stroke="#b45fbf" stroke-width="2" />
<circle cx="1510.8" cy="136.9" r="5.2" fill="none" stroke="#b45fbf" stroke-width="2" />
<circle cx="1513.0" cy="126.6" r="5.2" fill="none" stroke="#b45fbf" stroke-width="2" />
<circle cx="1514.6" cy="120.1" r="5.2" fill="none" stroke="#b45fbf" stroke-width="2" />
<circle cx="1813.2" cy="356.5" r="5.2" fill="#fff" stroke="#b45fbf" stroke-width="2" />
<text x="1303.0" y="325.0" font-size="36" text-anchor="start" fill="#e8262b" font-weight="bold" >H<tspan dy="7.9" font-size="24.5">2</tspan><tspan dy="-7.9">O</tspan><tspan dy="7.9" font-size="24.5">2</tspan></text>
<text x="1445.0" y="344.0" font-size="36" text-anchor="start" fill="#231f20" font-weight="bold" >...</text>
<line x1="1324.7" y1="346.0" x2="1312.1" y2="476.1" stroke="#231f20" stroke-width="3.2" /><polygon points="1310.0,498.0 1303.2,475.2 1321.1,477.0" fill="#231f20" stroke="none" stroke-width="0" />
<line x1="1353.7" y1="333.0" x2="1368.4" y2="401.9" stroke="#231f20" stroke-width="3.2" /><polygon points="1373.0,423.4 1359.6,403.8 1377.2,400.0" fill="#231f20" stroke="none" stroke-width="0" />
<line x1="1391.0" y1="329.0" x2="1421.6" y2="393.8" stroke="#231f20" stroke-width="3.2" /><polygon points="1431.0,413.7 1413.5,397.7 1429.7,390.0" fill="#231f20" stroke="none" stroke-width="0" />
<rect x="653.6" y="626.4" width="395.7" height="355.3" fill="#c6d4e8" stroke="#3c3c3c" stroke-width="3.5" />
<rect x="1058.5" y="624.7" width="394.0" height="357.0" fill="#c6d4e8" stroke="#3c3c3c" stroke-width="3.5" />
<rect x="1463.8" y="624.7" width="394.1" height="357.0" fill="#c6d4e8" stroke="#3c3c3c" stroke-width="3.5" />
<circle cx="803.0" cy="804.0" r="127.0" fill="#ffffff" stroke="none" stroke-width="0" />
<circle cx="803.0" cy="804.0" r="77.0" fill="#4a4b50" stroke="none" stroke-width="0" />
<circle cx="777.9" cy="772.8" r="16.3" fill="#f6c35c" stroke="none" stroke-width="0" />
<circle cx="827.2" cy="767.8" r="16.3" fill="#f6c35c" stroke="none" stroke-width="0" />
<circle cx="759.2" cy="818.6" r="16.3" fill="#f6c35c" stroke="none" stroke-width="0" />
<circle cx="805.8" cy="809.7" r="16.3" fill="#f6c35c" stroke="none" stroke-width="0" />
<circle cx="851.7" cy="803.9" r="16.3" fill="#f6c35c" stroke="none" stroke-width="0" />
<circle cx="833.0" cy="842.7" r="16.3" fill="#f6c35c" stroke="none" stroke-width="0" />
<text x="1036.0" y="666.0" font-size="36" text-anchor="end" fill="#231f20" font-weight="bold" >(i)</text>
<circle cx="1208.0" cy="803.0" r="126.0" fill="#ffffff" stroke="none" stroke-width="0" />
<circle cx="1208.0" cy="803.0" r="76.5" fill="#4a4b50" stroke="none" stroke-width="0" />
<circle cx="1172.0" cy="771.0" r="16.3" fill="#f6c35c" stroke="none" stroke-width="0" />
<circle cx="1231.0" cy="767.0" r="16.3" fill="#f6c35c" stroke="none" stroke-width="0" />
<circle cx="1160.0" cy="822.5" r="16.3" fill="#f6c35c" stroke="none" stroke-width="0" />
<circle cx="1209.5" cy="809.6" r="16.3" fill="#f6c35c" stroke="none" stroke-width="0" />
<circle cx="1255.8" cy="803.0" r="16.3" fill="#f6c35c" stroke="none" stroke-width="0" />
<circle cx="1237.8" cy="841.5" r="16.3" fill="#f6c35c" stroke="none" stroke-width="0" />
<circle cx="1101.6" cy="642.1" r="6.3" fill="#2f64a8" stroke="none" stroke-width="0" />
<circle cx="1168.4" cy="649.8" r="6.3" fill="#2f64a8" stroke="none" stroke-width="0" />
<circle cx="1222.4" cy="655.5" r="6.3" fill="#2f64a8" stroke="none" stroke-width="0" />
<circle cx="1248.1" cy="650.3" r="6.3" fill="#2f64a8" stroke="none" stroke-width="0" />
<circle cx="1294.3" cy="650.9" r="6.3" fill="#2f64a8" stroke="none" stroke-width="0" />
<circle cx="1339.0" cy="645.2" r="6.3" fill="#2f64a8" stroke="none" stroke-width="0" />
<circle cx="1100.1" cy="675.5" r="6.3" fill="#2f64a8" stroke="none" stroke-width="0" />
<circle cx="1126.3" cy="666.3" r="6.3" fill="#2f64a8" stroke="none" stroke-width="0" />
<circle cx="1308.7" cy="671.4" r="6.3" fill="#2f64a8" stroke="none" stroke-width="0" />
<circle cx="1359.5" cy="664.7" r="6.3" fill="#2f64a8" stroke="none" stroke-width="0" />
<circle cx="1412.5" cy="665.2" r="6.3" fill="#2f64a8" stroke="none" stroke-width="0" />
<circle cx="1078.5" cy="700.2" r="6.3" fill="#2f64a8" stroke="none" stroke-width="0" />
<circle cx="1343.1" cy="687.8" r="6.3" fill="#2f64a8" stroke="none" stroke-width="0" />
<circle cx="1384.2" cy="695.6" r="6.3" fill="#2f64a8" stroke="none" stroke-width="0" />
<circle cx="1329.2" cy="718.2" r="6.3" fill="#2f64a8" stroke="none" stroke-width="0" />
<circle cx="1359.5" cy="736.1" r="6.3" fill="#2f64a8" stroke="none" stroke-width="0" />
<circle cx="1402.7" cy="738.2" r="6.3" fill="#2f64a8" stroke="none" stroke-width="0" />
<circle cx="1336.4" cy="756.2" r="6.3" fill="#2f64a8" stroke="none" stroke-width="0" />
<circle cx="1387.3" cy="782.9" r="6.3" fill="#2f64a8" stroke="none" stroke-width="0" />
<circle cx="1409.9" cy="777.2" r="6.3" fill="#2f64a8" stroke="none" stroke-width="0" />
<circle cx="1358.5" cy="806.0" r="6.3" fill="#2f64a8" stroke="none" stroke-width="0" />
<circle cx="1402.7" cy="832.2" r="6.3" fill="#2f64a8" stroke="none" stroke-width="0" />
<circle cx="1385.7" cy="854.8" r="6.3" fill="#2f64a8" stroke="none" stroke-width="0" />
<circle cx="1415.0" cy="863.5" r="6.3" fill="#2f64a8" stroke="none" stroke-width="0" />
<circle cx="1352.9" cy="865.6" r="6.3" fill="#2f64a8" stroke="none" stroke-width="0" />
<circle cx="1354.4" cy="903.6" r="6.3" fill="#2f64a8" stroke="none" stroke-width="0" />
<circle cx="1395.0" cy="899.5" r="6.3" fill="#2f64a8" stroke="none" stroke-width="0" />
<circle cx="1428.9" cy="914.9" r="6.3" fill="#2f64a8" stroke="none" stroke-width="0" />
<circle cx="1302.5" cy="926.7" r="6.3" fill="#2f64a8" stroke="none" stroke-width="0" />
<circle cx="1325.1" cy="921.6" r="6.3" fill="#2f64a8" stroke="none" stroke-width="0" />
<circle cx="1352.4" cy="936.5" r="6.3" fill="#2f64a8" stroke="none" stroke-width="0" />
<circle cx="1077.5" cy="937.0" r="6.3" fill="#2f64a8" stroke="none" stroke-width="0" />
<circle cx="1240.4" cy="936.5" r="6.3" fill="#2f64a8" stroke="none" stroke-width="0" />
<circle cx="1143.8" cy="962.2" r="6.3" fill="#2f64a8" stroke="none" stroke-width="0" />
<circle cx="1180.3" cy="957.1" r="6.3" fill="#2f64a8" stroke="none" stroke-width="0" />
<circle cx="1324.1" cy="951.9" r="6.3" fill="#2f64a8" stroke="none" stroke-width="0" />
<circle cx="1402.7" cy="954.5" r="6.3" fill="#2f64a8" stroke="none" stroke-width="0" />
<circle cx="1429.4" cy="945.7" r="6.3" fill="#2f64a8" stroke="none" stroke-width="0" />
<text x="1443.0" y="666.0" font-size="36" text-anchor="end" fill="#231f20" font-weight="bold" >(ii)</text>
<circle cx="1611.8" cy="804.5" r="126.4" fill="#ffffff" stroke="none" stroke-width="0" />
<circle cx="1611.8" cy="804.5" r="77.0" fill="#4a4b50" stroke="none" stroke-width="0" />
<circle cx="1578.4" cy="771.1" r="16.5" fill="#f6c35c" stroke="none" stroke-width="0" />
<circle cx="1575.4" cy="757.4" r="7.8" fill="#4a4b50" stroke="none" stroke-width="0" />
<circle cx="1592.2" cy="768.5" r="7.8" fill="#4a4b50" stroke="none" stroke-width="0" />
<circle cx="1580.6" cy="784.9" r="7.8" fill="#4a4b50" stroke="none" stroke-width="0" />
<circle cx="1564.8" cy="774.2" r="7.8" fill="#4a4b50" stroke="none" stroke-width="0" />
<circle cx="1575.4" cy="757.4" r="5.6" fill="#2f64a8" stroke="none" stroke-width="0" />
<circle cx="1592.2" cy="768.5" r="5.6" fill="#2f64a8" stroke="none" stroke-width="0" />
<circle cx="1580.6" cy="784.9" r="5.6" fill="#2f64a8" stroke="none" stroke-width="0" />
<circle cx="1564.8" cy="774.2" r="5.6" fill="#2f64a8" stroke="none" stroke-width="0" />
<circle cx="1637.0" cy="767.0" r="16.5" fill="#f6c35c" stroke="none" stroke-width="0" />
<circle cx="1648.1" cy="758.5" r="7.8" fill="#4a4b50" stroke="none" stroke-width="0" />
<circle cx="1645.1" cy="778.4" r="7.8" fill="#4a4b50" stroke="none" stroke-width="0" />
<circle cx="1625.3" cy="774.7" r="7.8" fill="#4a4b50" stroke="none" stroke-width="0" />
<circle cx="1628.4" cy="755.9" r="7.8" fill="#4a4b50" stroke="none" stroke-width="0" />
<circle cx="1648.1" cy="758.5" r="5.6" fill="#2f64a8" stroke="none" stroke-width="0" />
<circle cx="1645.1" cy="778.4" r="5.6" fill="#2f64a8" stroke="none" stroke-width="0" />
<circle cx="1625.3" cy="774.7" r="5.6" fill="#2f64a8" stroke="none" stroke-width="0" />
<circle cx="1628.4" cy="755.9" r="5.6" fill="#2f64a8" stroke="none" stroke-width="0" />
<circle cx="1567.6" cy="821.9" r="16.5" fill="#f6c35c" stroke="none" stroke-width="0" />
<circle cx="1561.8" cy="809.2" r="7.8" fill="#4a4b50" stroke="none" stroke-width="0" />
<circle cx="1580.5" cy="816.5" r="7.8" fill="#4a4b50" stroke="none" stroke-width="0" />
<circle cx="1572.6" cy="835.0" r="7.8" fill="#4a4b50" stroke="none" stroke-width="0" />
<circle cx="1554.9" cy="827.9" r="7.8" fill="#4a4b50" stroke="none" stroke-width="0" />
<circle cx="1561.8" cy="809.2" r="5.6" fill="#2f64a8" stroke="none" stroke-width="0" />
<circle cx="1580.5" cy="816.5" r="5.6" fill="#2f64a8" stroke="none" stroke-width="0" />
<circle cx="1572.6" cy="835.0" r="5.6" fill="#2f64a8" stroke="none" stroke-width="0" />
<circle cx="1554.9" cy="827.9" r="5.6" fill="#2f64a8" stroke="none" stroke-width="0" />
<circle cx="1613.9" cy="808.1" r="16.5" fill="#f6c35c" stroke="none" stroke-width="0" />
<circle cx="1620.2" cy="795.6" r="7.8" fill="#4a4b50" stroke="none" stroke-width="0" />
<circle cx="1626.1" cy="814.8" r="7.8" fill="#4a4b50" stroke="none" stroke-width="0" />
<circle cx="1606.7" cy="820.1" r="7.8" fill="#4a4b50" stroke="none" stroke-width="0" />
<circle cx="1601.3" cy="801.8" r="7.8" fill="#4a4b50" stroke="none" stroke-width="0" />
<circle cx="1620.2" cy="795.6" r="5.6" fill="#2f64a8" stroke="none" stroke-width="0" />
<circle cx="1626.1" cy="814.8" r="5.6" fill="#2f64a8" stroke="none" stroke-width="0" />
<circle cx="1606.7" cy="820.1" r="5.6" fill="#2f64a8" stroke="none" stroke-width="0" />
<circle cx="1601.3" cy="801.8" r="5.6" fill="#2f64a8" stroke="none" stroke-width="0" />
<circle cx="1660.6" cy="804.0" r="16.5" fill="#f6c35c" stroke="none" stroke-width="0" />
<circle cx="1674.4" cy="801.4" r="7.8" fill="#4a4b50" stroke="none" stroke-width="0" />
<circle cx="1662.8" cy="817.8" r="7.8" fill="#4a4b50" stroke="none" stroke-width="0" />
<circle cx="1646.7" cy="805.7" r="7.8" fill="#4a4b50" stroke="none" stroke-width="0" />
<circle cx="1657.8" cy="790.2" r="7.8" fill="#4a4b50" stroke="none" stroke-width="0" />
<circle cx="1674.4" cy="801.4" r="5.6" fill="#2f64a8" stroke="none" stroke-width="0" />
<circle cx="1662.8" cy="817.8" r="5.6" fill="#2f64a8" stroke="none" stroke-width="0" />
<circle cx="1646.7" cy="805.7" r="5.6" fill="#2f64a8" stroke="none" stroke-width="0" />
<circle cx="1657.8" cy="790.2" r="5.6" fill="#2f64a8" stroke="none" stroke-width="0" />
<circle cx="1641.1" cy="841.5" r="16.5" fill="#f6c35c" stroke="none" stroke-width="0" />
<circle cx="1652.9" cy="833.9" r="7.8" fill="#4a4b50" stroke="none" stroke-width="0" />
<circle cx="1648.2" cy="853.5" r="7.8" fill="#4a4b50" stroke="none" stroke-width="0" />
<circle cx="1628.8" cy="848.3" r="7.8" fill="#4a4b50" stroke="none" stroke-width="0" />
<circle cx="1633.4" cy="829.7" r="7.8" fill="#4a4b50" stroke="none" stroke-width="0" />
<circle cx="1652.9" cy="833.9" r="5.6" fill="#2f64a8" stroke="none" stroke-width="0" />
<circle cx="1648.2" cy="853.5" r="5.6" fill="#2f64a8" stroke="none" stroke-width="0" />
<circle cx="1628.8" cy="848.3" r="5.6" fill="#2f64a8" stroke="none" stroke-width="0" />
<circle cx="1633.4" cy="829.7" r="5.6" fill="#2f64a8" stroke="none" stroke-width="0" />
<circle cx="1513.7" cy="665.8" r="6.3" fill="#2f64a8" stroke="none" stroke-width="0" />
<circle cx="1751.0" cy="673.5" r="6.3" fill="#2f64a8" stroke="none" stroke-width="0" />
<circle cx="1826.5" cy="689.4" r="6.3" fill="#2f64a8" stroke="none" stroke-width="0" />
<circle cx="1529.6" cy="708.4" r="6.3" fill="#2f64a8" stroke="none" stroke-width="0" />
<circle cx="1607.7" cy="714.1" r="6.3" fill="#2f64a8" stroke="none" stroke-width="0" />
<circle cx="1675.5" cy="722.8" r="6.3" fill="#2f64a8" stroke="none" stroke-width="0" />
<circle cx="1810.6" cy="768.0" r="6.3" fill="#2f64a8" stroke="none" stroke-width="0" />
<circle cx="1806.5" cy="806.5" r="6.3" fill="#2f64a8" stroke="none" stroke-width="0" />
<circle cx="1519.3" cy="842.5" r="6.3" fill="#2f64a8" stroke="none" stroke-width="0" />
<circle cx="1635.9" cy="910.8" r="6.3" fill="#2f64a8" stroke="none" stroke-width="0" />
<circle cx="1753.1" cy="901.1" r="6.3" fill="#2f64a8" stroke="none" stroke-width="0" />
<circle cx="1784.4" cy="884.6" r="6.3" fill="#2f64a8" stroke="none" stroke-width="0" />
<circle cx="1786.5" cy="916.0" r="6.3" fill="#2f64a8" stroke="none" stroke-width="0" />
<circle cx="1761.3" cy="956.0" r="6.3" fill="#2f64a8" stroke="none" stroke-width="0" />
<circle cx="1559.4" cy="963.7" r="6.3" fill="#2f64a8" stroke="none" stroke-width="0" />
<text x="1847.0" y="666.0" font-size="36" text-anchor="end" fill="#231f20" font-weight="bold" >(iii)</text>
<text x="607.0" y="657.0" font-size="36" text-anchor="start" fill="#231f20" font-weight="bold" >(c)</text>
<circle cx="759.0" cy="1021.0" r="17.0" fill="#f6c35c" stroke="#8a9bb8" stroke-width="2" />
<text x="785.6" y="1035.0" font-size="37.8" text-anchor="start" fill="#231f20" font-weight="bold" >PCLGA/OV-FeTiO<tspan dy="8.3" font-size="25.7">2</tspan></text>
<circle cx="1170.0" cy="1020.0" r="6.3" fill="#2f64a8" stroke="none" stroke-width="0" />
<text x="1190.5" y="1035.0" font-size="37" text-anchor="start" fill="#231f20" font-weight="bold" >H<tspan dy="8.1" font-size="25.2">2</tspan><tspan dy="-8.1">O</tspan><tspan dy="8.1" font-size="25.2">2</tspan></text>
<defs>
<linearGradient id="gD" x1="0" x2="1"><stop offset="0" stop-color="#f4cd83"/><stop offset="0.3" stop-color="#f7d8a0"/><stop offset="0.6" stop-color="#fae6c4"/><stop offset="0.82" stop-color="#fdf3e4"/><stop offset="1" stop-color="#ffffff"/></linearGradient>
<linearGradient id="gDA" x1="0" x2="1"><stop offset="0" stop-color="#ffffff" stop-opacity="0"/><stop offset="0.5" stop-color="#f6dca4"/><stop offset="1" stop-color="#f3d394"/></linearGradient>
<linearGradient id="gE" x1="0" x2="1"><stop offset="0" stop-color="#a8d7f1"/><stop offset="0.35" stop-color="#b9def2"/><stop offset="0.65" stop-color="#d5eaf5"/><stop offset="0.85" stop-color="#eef6fb"/><stop offset="1" stop-color="#ffffff"/></linearGradient>
<linearGradient id="gEA" x1="0" x2="1"><stop offset="0" stop-color="#ffffff" stop-opacity="0"/><stop offset="0.3" stop-color="#d8ebf6"/><stop offset="1" stop-color="#a9d9f2"/></linearGradient>
<linearGradient id="gEA2" x1="0" x2="1"><stop offset="0" stop-color="#a8d8f2"/><stop offset="1" stop-color="#86cdf3"/></linearGradient>
</defs>
<rect x="7.0" y="1071.0" width="693.0" height="405.0" fill="url(#gD)" stroke="none" stroke-width="0" />
<rect x="580.0" y="1228.0" width="51.0" height="107.0" fill="url(#gDA)" stroke="none" stroke-width="0" />
<polygon points="631.0,1169.0 686.0,1278.0 631.0,1389.0" fill="#f3d394" stroke="none" stroke-width="0" />
<polygon points="130.9,1103.5 137.3,1112.5 148.0,1115.1 146.2,1126.0 152.0,1135.4 143.0,1141.8 140.4,1152.5 129.5,1150.7 120.1,1156.5 113.7,1147.5 103.0,1144.9 104.8,1134.0 99.0,1124.6 108.0,1118.2 110.6,1107.5 121.5,1109.3" fill="#f5b52e" stroke="none" stroke-width="0" stroke-linejoin="round" opacity="0.95"/>
<polygon points="126.7,1372.5 133.1,1381.5 143.8,1384.1 142.0,1395.0 147.8,1404.4 138.8,1410.8 136.2,1421.5 125.3,1419.7 115.9,1425.5 109.5,1416.5 98.8,1413.9 100.6,1403.0 94.8,1393.6 103.8,1387.2 106.4,1376.5 117.3,1378.3" fill="#f5b52e" stroke="none" stroke-width="0" stroke-linejoin="round" opacity="0.95"/>
<line x1="112.0" y1="1171.7" x2="144.6" y2="1190.6" stroke="#6e6e6e" stroke-width="3" stroke-linecap="round"/><line x1="144.6" y1="1190.6" x2="144.6" y2="1228.2" stroke="#6e6e6e" stroke-width="3" stroke-linecap="round"/><line x1="138.1" y1="1197.3" x2="138.1" y2="1221.5" stroke="#6e6e6e" stroke-width="3" stroke-linecap="round"/><line x1="144.6" y1="1228.2" x2="112.0" y2="1247.1" stroke="#6e6e6e" stroke-width="3" stroke-linecap="round"/><line x1="112.0" y1="1247.1" x2="79.4" y2="1228.2" stroke="#6e6e6e" stroke-width="3" stroke-linecap="round"/><line x1="109.4" y1="1238.1" x2="88.5" y2="1226.0" stroke="#6e6e6e" stroke-width="3" stroke-linecap="round"/><line x1="79.4" y1="1228.2" x2="79.4" y2="1190.6" stroke="#6e6e6e" stroke-width="3" stroke-linecap="round"/><line x1="79.4" y1="1190.6" x2="112.0" y2="1171.7" stroke="#6e6e6e" stroke-width="3" stroke-linecap="round"/><line x1="88.5" y1="1192.8" x2="109.4" y2="1180.7" stroke="#6e6e6e" stroke-width="3" stroke-linecap="round"/>
<line x1="110.0" y1="1287.0" x2="143.3" y2="1306.2" stroke="#6e6e6e" stroke-width="3" stroke-linecap="round"/><line x1="112.7" y1="1296.2" x2="134.0" y2="1308.6" stroke="#6e6e6e" stroke-width="3" stroke-linecap="round"/><line x1="143.3" y1="1306.2" x2="143.3" y2="1344.8" stroke="#6e6e6e" stroke-width="3" stroke-linecap="round"/><line x1="143.3" y1="1344.8" x2="110.0" y2="1364.0" stroke="#6e6e6e" stroke-width="3" stroke-linecap="round"/><line x1="134.0" y1="1342.4" x2="112.7" y2="1354.8" stroke="#6e6e6e" stroke-width="3" stroke-linecap="round"/><line x1="110.0" y1="1364.0" x2="76.7" y2="1344.8" stroke="#6e6e6e" stroke-width="3" stroke-linecap="round"/><line x1="76.7" y1="1344.8" x2="76.7" y2="1306.2" stroke="#6e6e6e" stroke-width="3" stroke-linecap="round"/><line x1="83.3" y1="1337.8" x2="83.3" y2="1313.2" stroke="#6e6e6e" stroke-width="3" stroke-linecap="round"/><line x1="76.7" y1="1306.2" x2="110.0" y2="1287.0" stroke="#6e6e6e" stroke-width="3" stroke-linecap="round"/>
<line x1="112.0" y1="1247.1" x2="110.0" y2="1287.0" stroke="#6e6e6e" stroke-width="3" />
<line x1="112.0" y1="1171.7" x2="112.0" y2="1148.0" stroke="#6e6e6e" stroke-width="3" />
<line x1="110.0" y1="1364.0" x2="110.0" y2="1382.0" stroke="#6e6e6e" stroke-width="3" />
<line x1="79.4" y1="1190.6" x2="62.7" y2="1178.0" stroke="#6e6e6e" stroke-width="3" />
<line x1="144.6" y1="1190.6" x2="161.0" y2="1178.0" stroke="#6e6e6e" stroke-width="3" />
<line x1="76.7" y1="1344.8" x2="62.7" y2="1358.0" stroke="#6e6e6e" stroke-width="3" />
<line x1="143.3" y1="1344.8" x2="158.0" y2="1358.0" stroke="#6e6e6e" stroke-width="3" />
<text x="105.0" y="1147.0" font-size="24" text-anchor="start" fill="#231f20" font-weight="bold" >NH<tspan dy="5.3" font-size="16.3">2</tspan></text>
<text x="16.7" y="1180.0" font-size="23" text-anchor="start" fill="#231f20" font-weight="bold" >H<tspan dy="5.1" font-size="15.6">3</tspan><tspan dy="-5.1">C</tspan></text>
<text x="167.3" y="1180.0" font-size="23" text-anchor="start" fill="#231f20" font-weight="bold" >CH<tspan dy="5.1" font-size="15.6">3</tspan></text>
<text x="16.7" y="1372.5" font-size="23" text-anchor="start" fill="#231f20" font-weight="bold" >H<tspan dy="5.1" font-size="15.6">3</tspan><tspan dy="-5.1">C</tspan></text>
<text x="167.3" y="1376.7" font-size="23" text-anchor="start" fill="#231f20" font-weight="bold" >CH<tspan dy="5.1" font-size="15.6">3</tspan></text>
<text x="101.0" y="1416.0" font-size="24" text-anchor="start" fill="#231f20" font-weight="bold" >NH<tspan dy="5.3" font-size="16.3">2</tspan></text>
<rect x="167.5" y="1273.1" width="29.0" height="9.0" fill="#4b5058" stroke="none" stroke-width="0" /><rect x="177.5" y="1263.1" width="9.0" height="29.0" fill="#4b5058" stroke="none" stroke-width="0" />
<polygon points="263.5,1223.7 271.0,1245.8 287.8,1228.0 284.4,1252.2 308.7,1242.3 293.7,1263.9 319.0,1265.7 297.0,1278.4 312.5,1289.6 293.7,1292.9 304.7,1311.3 284.4,1304.6 287.4,1328.1 271.0,1311.0 263.5,1332.9 256.0,1311.0 243.5,1320.0 242.6,1304.6 224.0,1309.9 233.3,1292.9 210.2,1290.6 230.0,1278.4 220.3,1268.5 233.3,1263.9 223.1,1246.2 242.6,1252.2 242.8,1235.3 256.0,1245.8" fill="#e8262b" stroke="none" stroke-width="0" />
<text x="221.7" y="1291.0" font-size="35" text-anchor="start" fill="#231f20" font-weight="bold" >·OH</text>
<polygon points="332.5,1269.2 387.0,1269.2 387.0,1261.7 405.0,1278.4 387.0,1295.0 387.0,1287.6 332.5,1287.6" fill="#4b5058" stroke="none" stroke-width="0" />
<polygon points="482.2,1103.5 488.6,1112.5 499.3,1115.1 497.5,1126.0 503.3,1135.4 494.3,1141.8 491.7,1152.5 480.8,1150.7 471.4,1156.5 465.0,1147.5 454.3,1144.9 456.1,1134.0 450.3,1124.6 459.3,1118.2 461.9,1107.5 472.8,1109.3" fill="#f5b52e" stroke="none" stroke-width="0" stroke-linejoin="round" opacity="0.95"/>
<polygon points="478.0,1377.5 484.4,1386.5 495.1,1389.1 493.3,1400.0 499.1,1409.4 490.1,1415.8 487.5,1426.5 476.6,1424.7 467.2,1430.5 460.8,1421.5 450.1,1418.9 451.9,1408.0 446.1,1398.6 455.1,1392.2 457.7,1381.5 468.6,1383.3" fill="#f5b52e" stroke="none" stroke-width="0" stroke-linejoin="round" opacity="0.95"/>
<line x1="468.4" y1="1176.0" x2="501.0" y2="1194.8" stroke="#6e6e6e" stroke-width="3" stroke-linecap="round"/><line x1="501.0" y1="1194.8" x2="501.0" y2="1232.4" stroke="#6e6e6e" stroke-width="3" stroke-linecap="round"/><line x1="494.5" y1="1201.6" x2="494.5" y2="1225.6" stroke="#6e6e6e" stroke-width="3" stroke-linecap="round"/><line x1="501.0" y1="1232.4" x2="468.4" y2="1251.2" stroke="#6e6e6e" stroke-width="3" stroke-linecap="round"/><line x1="468.4" y1="1251.2" x2="435.8" y2="1232.4" stroke="#6e6e6e" stroke-width="3" stroke-linecap="round"/><line x1="435.8" y1="1232.4" x2="435.8" y2="1194.8" stroke="#6e6e6e" stroke-width="3" stroke-linecap="round"/><line x1="442.3" y1="1225.6" x2="442.3" y2="1201.6" stroke="#6e6e6e" stroke-width="3" stroke-linecap="round"/><line x1="435.8" y1="1194.8" x2="468.4" y2="1176.0" stroke="#6e6e6e" stroke-width="3" stroke-linecap="round"/>
<line x1="468.4" y1="1291.1" x2="503.6" y2="1311.4" stroke="#6e6e6e" stroke-width="3" stroke-linecap="round"/><line x1="503.6" y1="1311.4" x2="503.6" y2="1352.0" stroke="#6e6e6e" stroke-width="3" stroke-linecap="round"/><line x1="496.5" y1="1318.7" x2="496.5" y2="1344.7" stroke="#6e6e6e" stroke-width="3" stroke-linecap="round"/><line x1="503.6" y1="1352.0" x2="468.4" y2="1372.3" stroke="#6e6e6e" stroke-width="3" stroke-linecap="round"/><line x1="468.4" y1="1372.3" x2="433.2" y2="1352.0" stroke="#6e6e6e" stroke-width="3" stroke-linecap="round"/><line x1="433.2" y1="1352.0" x2="433.2" y2="1311.4" stroke="#6e6e6e" stroke-width="3" stroke-linecap="round"/><line x1="440.3" y1="1344.7" x2="440.3" y2="1318.7" stroke="#6e6e6e" stroke-width="3" stroke-linecap="round"/><line x1="433.2" y1="1311.4" x2="468.4" y2="1291.1" stroke="#6e6e6e" stroke-width="3" stroke-linecap="round"/>
<line x1="465.4" y1="1251.2" x2="465.4" y2="1291.1" stroke="#6e6e6e" stroke-width="3" />
<line x1="471.4" y1="1251.2" x2="471.4" y2="1291.1" stroke="#6e6e6e" stroke-width="3" />
<line x1="465.4" y1="1176.0" x2="465.4" y2="1152.0" stroke="#6e6e6e" stroke-width="3" />
<line x1="471.4" y1="1176.0" x2="471.4" y2="1152.0" stroke="#6e6e6e" stroke-width="3" />
<line x1="465.4" y1="1372.3" x2="465.4" y2="1392.0" stroke="#6e6e6e" stroke-width="3" />
<line x1="471.4" y1="1372.3" x2="471.4" y2="1392.0" stroke="#6e6e6e" stroke-width="3" />
<line x1="435.8" y1="1194.8" x2="420.0" y2="1186.0" stroke="#6e6e6e" stroke-width="3" />
<line x1="501.0" y1="1194.8" x2="517.0" y2="1186.0" stroke="#6e6e6e" stroke-width="3" />
<line x1="433.2" y1="1352.0" x2="420.0" y2="1364.0" stroke="#6e6e6e" stroke-width="3" />
<line x1="503.6" y1="1352.0" x2="517.0" y2="1364.0" stroke="#6e6e6e" stroke-width="3" />
<text x="480.0" y="1148.0" font-size="24" text-anchor="middle" fill="#231f20" font-weight="bold" >NH</text>
<text x="373.5" y="1188.5" font-size="23" text-anchor="start" fill="#231f20" font-weight="bold" >H<tspan dy="5.1" font-size="15.6">3</tspan><tspan dy="-5.1">C</tspan></text>
<text x="522.8" y="1188.5" font-size="23" text-anchor="start" fill="#231f20" font-weight="bold" >CH<tspan dy="5.1" font-size="15.6">3</tspan></text>
<text x="373.5" y="1378.8" font-size="23" text-anchor="start" fill="#231f20" font-weight="bold" >H<tspan dy="5.1" font-size="15.6">3</tspan><tspan dy="-5.1">C</tspan></text>
<text x="522.8" y="1383.0" font-size="23" text-anchor="start" fill="#231f20" font-weight="bold" >CH<tspan dy="5.1" font-size="15.6">3</tspan></text>
<text x="474.7" y="1418.5" font-size="24" text-anchor="middle" fill="#231f20" font-weight="bold" >NH</text>
<text x="5.7" y="1066.0" font-size="36" text-anchor="start" fill="#231f20" font-weight="bold" >(d)</text>
<text x="10.0" y="1107.0" font-size="36" text-anchor="start" fill="#231f20" font-weight="bold" >(i)</text>
<rect x="1008.9" y="1072.6" width="66.7" height="369.3" fill="#f7dca5" stroke="none" stroke-width="0" />
<rect x="788.1" y="1072.6" width="498.2" height="369.3" fill="none" stroke="#2a2a2a" stroke-width="3" />
<line x1="779.0" y1="1441.9" x2="788.0" y2="1441.9" stroke="#231f20" stroke-width="3" />
<text x="772.6" y="1453.4" font-size="32" text-anchor="end" fill="#231f20" font-weight="bold" >0</text>
<line x1="779.0" y1="1359.8" x2="788.0" y2="1359.8" stroke="#231f20" stroke-width="3" />
<text x="772.6" y="1371.2" font-size="32" text-anchor="end" fill="#231f20" font-weight="bold" >0.1</text>
<line x1="779.0" y1="1277.6" x2="788.0" y2="1277.6" stroke="#231f20" stroke-width="3" />
<text x="772.6" y="1289.1" font-size="32" text-anchor="end" fill="#231f20" font-weight="bold" >0.2</text>
<line x1="779.0" y1="1195.5" x2="788.0" y2="1195.5" stroke="#231f20" stroke-width="3" />
<text x="772.6" y="1207.0" font-size="32" text-anchor="end" fill="#231f20" font-weight="bold" >0.3</text>
<line x1="779.0" y1="1113.3" x2="788.0" y2="1113.3" stroke="#231f20" stroke-width="3" />
<text x="772.6" y="1124.8" font-size="32" text-anchor="end" fill="#231f20" font-weight="bold" >0.4</text>
<line x1="783.0" y1="1400.8" x2="788.0" y2="1400.8" stroke="#231f20" stroke-width="2.5" />
<line x1="783.0" y1="1318.7" x2="788.0" y2="1318.7" stroke="#231f20" stroke-width="2.5" />
<line x1="783.0" y1="1236.5" x2="788.0" y2="1236.5" stroke="#231f20" stroke-width="2.5" />
<line x1="783.0" y1="1154.4" x2="788.0" y2="1154.4" stroke="#231f20" stroke-width="2.5" />
<line x1="788.1" y1="1441.9" x2="788.1" y2="1450.0" stroke="#231f20" stroke-width="3" />
<text x="788.1" y="1479.0" font-size="33" text-anchor="middle" fill="#231f20" font-weight="bold" >500</text>
<line x1="953.9" y1="1441.9" x2="953.9" y2="1450.0" stroke="#231f20" stroke-width="3" />
<text x="953.9" y="1479.0" font-size="33" text-anchor="middle" fill="#231f20" font-weight="bold" >600</text>
<line x1="1119.8" y1="1441.9" x2="1119.8" y2="1450.0" stroke="#231f20" stroke-width="3" />
<text x="1119.8" y="1479.0" font-size="33" text-anchor="middle" fill="#231f20" font-weight="bold" >700</text>
<line x1="1285.6" y1="1441.9" x2="1285.6" y2="1450.0" stroke="#231f20" stroke-width="3" />
<text x="1285.6" y="1479.0" font-size="33" text-anchor="middle" fill="#231f20" font-weight="bold" >800</text>
<line x1="871.0" y1="1441.9" x2="871.0" y2="1447.0" stroke="#231f20" stroke-width="2.5" />
<line x1="1036.8" y1="1441.9" x2="1036.8" y2="1447.0" stroke="#231f20" stroke-width="2.5" />
<line x1="1202.7" y1="1441.9" x2="1202.7" y2="1447.0" stroke="#231f20" stroke-width="2.5" />
<polyline points="788.1,1392.6 789.1,1392.4 790.3,1392.1 791.6,1391.8 793.0,1391.5 794.6,1391.2 796.3,1390.8 798.1,1390.5 800.0,1390.1 802.0,1389.6 804.0,1389.2 806.1,1388.7 808.2,1388.2 810.4,1387.6 812.6,1387.0 814.8,1386.4 817.0,1385.8 819.1,1385.1 821.3,1384.4 823.4,1383.6 825.7,1382.8 828.0,1382.0 830.4,1381.1 832.8,1380.2 835.3,1379.2 837.8,1378.2 840.4,1377.2 842.9,1376.2 845.5,1375.1 848.0,1374.0 850.5,1373.0 853.0,1371.9 855.4,1370.7 857.8,1369.6 860.0,1368.5 862.3,1367.4 864.4,1366.3 866.4,1365.2 868.4,1364.1 870.4,1363.0 872.3,1361.9 874.2,1360.8 876.0,1359.7 877.8,1358.5 879.5,1357.4 881.3,1356.2 883.0,1355.0 884.7,1353.8 886.3,1352.6 887.9,1351.4 889.6,1350.2 891.2,1348.9 892.7,1347.6 894.3,1346.3 895.9,1345.0 897.4,1343.6 898.9,1342.3 900.3,1341.0 901.7,1339.7 903.1,1338.3 904.4,1337.0 905.7,1335.6 906.9,1334.3 908.2,1332.8 909.5,1331.4 910.8,1329.9 912.1,1328.4 913.4,1326.8 914.8,1325.1 916.2,1323.4 917.7,1321.7 919.2,1319.8 920.8,1317.9 922.4,1315.8 924.1,1313.7 925.7,1311.6 927.5,1309.4 929.2,1307.1 931.0,1304.8 932.8,1302.4 934.6,1300.0 936.4,1297.5 938.3,1294.9 940.2,1292.4 942.1,1289.8 944.0,1287.1 946.0,1284.5 947.9,1281.8 949.9,1279.0 951.9,1276.3 953.9,1273.5 956.0,1270.6 958.1,1267.7 960.3,1264.6 962.5,1261.4 964.8,1258.2 967.1,1254.9 969.4,1251.5 971.7,1248.2 974.0,1244.8 976.4,1241.5 978.7,1238.2 981.0,1235.0 983.2,1231.8 985.4,1228.7 987.6,1225.7 989.7,1222.9 991.8,1220.2 993.7,1217.6 995.7,1215.2 997.5,1212.9 999.4,1210.6 1001.2,1208.4 1003.0,1206.2 1004.8,1204.2 1006.5,1202.2 1008.2,1200.3 1009.9,1198.4 1011.5,1196.6 1013.2,1194.9 1014.7,1193.3 1016.3,1191.7 1017.8,1190.2 1019.3,1188.7 1020.8,1187.4 1022.2,1186.0 1023.6,1184.8 1024.9,1183.6 1026.2,1182.4 1027.4,1181.4 1028.6,1180.3 1029.7,1179.4 1030.8,1178.5 1031.8,1177.7 1032.8,1176.9 1033.8,1176.2 1034.8,1175.6 1035.8,1175.1 1036.8,1174.6 1037.9,1174.2 1038.9,1173.9 1040.0,1173.6 1041.1,1173.4 1042.3,1173.3 1043.5,1173.3 1044.8,1173.3 1046.1,1173.5 1047.4,1173.7 1048.8,1174.1 1050.2,1174.5 1051.7,1175.0 1053.1,1175.6 1054.6,1176.2 1056.0,1176.9 1057.5,1177.7 1058.9,1178.5 1060.4,1179.3 1061.8,1180.2 1063.2,1181.1 1064.5,1182.0 1065.9,1182.9 1067.1,1183.8 1068.4,1184.8 1069.5,1185.7 1070.6,1186.6 1071.6,1187.5 1072.6,1188.5 1073.5,1189.4 1074.4,1190.4 1075.2,1191.4 1076.1,1192.5 1077.0,1193.6 1077.8,1194.7 1078.7,1195.9 1079.7,1197.2 1080.6,1198.6 1081.7,1200.0 1082.8,1201.6 1084.0,1203.3 1085.2,1205.1 1086.6,1207.0 1088.1,1209.0 1089.7,1211.2 1091.4,1213.6 1093.2,1216.0 1095.0,1218.6 1096.9,1221.3 1098.9,1224.1 1100.9,1226.9 1102.9,1229.8 1104.9,1232.7 1106.9,1235.7 1108.9,1238.6 1110.9,1241.5 1112.8,1244.4 1114.6,1247.3 1116.4,1250.1 1118.1,1252.8 1119.8,1255.4 1121.3,1258.0 1122.7,1260.6 1124.1,1263.2 1125.5,1265.8 1126.8,1268.4 1128.0,1271.0 1129.2,1273.6 1130.4,1276.1 1131.6,1278.7 1132.8,1281.2 1133.9,1283.7 1135.1,1286.1 1136.3,1288.5 1137.6,1290.9 1138.8,1293.2 1140.2,1295.5 1141.5,1297.6 1143.0,1299.8 1144.5,1301.9 1146.0,1304.0 1147.5,1306.0 1149.0,1308.1 1150.6,1310.1 1152.2,1312.0 1153.8,1314.0 1155.4,1315.9 1157.1,1317.7 1158.7,1319.5 1160.4,1321.2 1162.1,1322.8 1163.9,1324.4 1165.6,1325.9 1167.4,1327.3 1169.2,1328.6 1171.0,1329.9 1172.8,1331.0 1174.7,1332.0 1176.6,1333.0 1178.5,1333.8 1180.5,1334.6 1182.5,1335.2 1184.5,1335.8 1186.5,1336.4 1188.6,1336.8 1190.7,1337.2 1192.7,1337.5 1194.8,1337.8 1196.9,1338.0 1199.0,1338.2 1201.1,1338.3 1203.2,1338.4 1205.2,1338.4 1207.3,1338.4 1209.3,1338.4 1211.3,1338.3 1213.4,1338.2 1215.4,1337.9 1217.4,1337.6 1219.4,1337.3 1221.4,1336.9 1223.4,1336.4 1225.3,1336.0 1227.4,1335.4 1229.4,1334.8 1231.4,1334.2 1233.4,1333.6 1235.4,1332.9 1237.5,1332.2 1239.5,1331.5 1241.6,1330.8 1243.7,1330.1 1245.8,1329.4 1248.0,1328.6 1250.3,1327.7 1252.7,1326.8 1255.2,1325.7 1257.7,1324.7 1260.3,1323.6 1262.9,1322.4 1265.4,1321.3 1268.0,1320.2 1270.5,1319.0 1272.9,1317.9 1275.2,1316.9 1277.3,1315.9 1279.4,1314.9 1281.2,1314.1 1282.9,1313.3 1284.4,1312.6 1285.6,1312.1" fill="none" stroke="#3aa774" stroke-width="3.5" stroke-linejoin="round" stroke-linecap="round" />
<polyline points="788.1,1418.9 789.6,1418.9 791.4,1418.8 793.5,1418.8 795.8,1418.8 798.3,1418.8 801.0,1418.7 803.8,1418.7 806.8,1418.6 809.9,1418.6 813.0,1418.5 816.2,1418.5 819.4,1418.4 822.6,1418.4 825.8,1418.3 829.0,1418.3 832.0,1418.2 835.0,1418.1 837.9,1418.1 840.6,1418.0 843.4,1417.9 846.1,1417.9 848.9,1417.8 851.7,1417.7 854.4,1417.7 857.2,1417.6 860.0,1417.5 862.7,1417.5 865.5,1417.4 868.3,1417.3 871.0,1417.2 873.8,1417.1 876.5,1417.0 879.3,1416.9 882.1,1416.7 884.8,1416.6 887.6,1416.4 890.4,1416.3 893.3,1416.1 896.3,1415.9 899.3,1415.6 902.3,1415.4 905.4,1415.2 908.5,1414.9 911.5,1414.6 914.5,1414.4 917.5,1414.1 920.4,1413.9 923.2,1413.6 925.9,1413.4 928.5,1413.1 931.0,1412.9 933.3,1412.7 935.4,1412.5 937.4,1412.3 939.1,1412.2 940.6,1412.0 941.8,1411.9 942.9,1411.7 943.9,1411.6 944.7,1411.5 945.4,1411.4 946.1,1411.2 946.7,1411.1 947.2,1411.1 947.8,1411.0 948.4,1410.9 949.0,1410.8 949.8,1410.8 950.6,1410.7 951.5,1410.7 952.6,1410.7 953.9,1410.7 955.3,1410.7 956.8,1410.7 958.3,1410.8 959.9,1410.9 961.5,1411.0 963.1,1411.1 964.9,1411.2 966.6,1411.4 968.4,1411.5 970.3,1411.6 972.2,1411.8 974.2,1411.9 976.2,1412.0 978.3,1412.1 980.4,1412.2 982.6,1412.3 984.8,1412.3 987.1,1412.3 989.5,1412.3 991.9,1412.3 994.4,1412.2 997.0,1412.2 999.7,1412.1 1002.5,1412.0 1005.2,1411.9 1008.1,1411.8 1010.9,1411.7 1013.8,1411.6 1016.7,1411.5 1019.7,1411.4 1022.6,1411.2 1025.5,1411.1 1028.4,1411.0 1031.2,1410.9 1034.1,1410.8 1036.8,1410.7 1039.6,1410.6 1042.5,1410.5 1045.3,1410.4 1048.2,1410.3 1051.1,1410.2 1054.0,1410.2 1057.0,1410.1 1059.9,1410.0 1062.8,1409.9 1065.6,1409.8 1068.5,1409.7 1071.2,1409.6 1074.0,1409.6 1076.7,1409.5 1079.3,1409.4 1081.8,1409.3 1084.2,1409.2 1086.6,1409.0 1088.9,1408.9 1091.0,1408.8 1093.1,1408.6 1095.1,1408.5 1097.0,1408.3 1098.9,1408.2 1100.7,1408.0 1102.5,1407.8 1104.2,1407.7 1105.9,1407.5 1107.6,1407.3 1109.3,1407.2 1111.0,1407.0 1112.7,1406.9 1114.4,1406.8 1116.2,1406.7 1117.9,1406.6 1119.8,1406.6 1121.6,1406.5 1123.4,1406.5 1125.1,1406.6 1126.8,1406.6 1128.5,1406.6 1130.2,1406.7 1131.9,1406.8 1133.6,1406.9 1135.3,1406.9 1137.1,1407.0 1138.8,1407.1 1140.6,1407.2 1142.5,1407.3 1144.4,1407.3 1146.4,1407.4 1148.5,1407.4 1150.7,1407.4 1152.9,1407.4 1155.2,1407.4 1157.6,1407.3 1159.9,1407.3 1162.2,1407.2 1164.6,1407.1 1167.1,1407.0 1169.5,1406.9 1172.1,1406.8 1174.7,1406.7 1177.4,1406.6 1180.2,1406.5 1183.0,1406.4 1186.0,1406.3 1189.1,1406.2 1192.3,1406.1 1195.6,1406.0 1199.1,1405.8 1202.7,1405.8 1206.6,1405.7 1210.9,1405.6 1215.5,1405.5 1220.5,1405.4 1225.6,1405.3 1230.9,1405.1 1236.4,1405.0 1241.8,1404.9 1247.3,1404.8 1252.6,1404.7 1257.8,1404.6 1262.9,1404.5 1267.7,1404.4 1272.1,1404.4 1276.2,1404.3 1279.8,1404.2 1283.0,1404.2 1285.6,1404.1" fill="none" stroke="#e0409a" stroke-width="3" stroke-linejoin="round" stroke-linecap="round" />
<circle cx="853.3" cy="1299.3" r="36.0" fill="#5a9a94" stroke="#1a1a1a" stroke-width="3.5" />
<rect x="836.0" y="1272.0" width="36.0" height="56.0" fill="#2f8a80" stroke="none" stroke-width="0" rx="6"/>
<circle cx="943.7" cy="1364.0" r="36.0" fill="#d4d6d6" stroke="#1a1a1a" stroke-width="3.5" />
<text x="795.5" y="1167.0" font-size="33" text-anchor="start" fill="#231f20" font-weight="bold" textLength="477" lengthAdjust="spacingAndGlyphs">TMB+H<tspan dy="7.3" font-size="22.4">2</tspan><tspan dy="-7.3">O</tspan><tspan dy="7.3" font-size="22.4">2</tspan><tspan dy="-7.3">+PCLGA/OV-FeTiO</tspan><tspan dy="7.3" font-size="22.4">2</tspan></text>
<text x="1100.0" y="1397.4" font-size="33" text-anchor="start" fill="#231f20" font-weight="bold" >TMB+H<tspan dy="7.3" font-size="22.4">2</tspan><tspan dy="-7.3">O</tspan><tspan dy="7.3" font-size="22.4">2</tspan></text>
<text x="0" y="0" font-size="33" text-anchor="middle" fill="#231f20" font-weight="bold" transform="translate(713.9,1290.0) rotate(-90)" textLength="260" lengthAdjust="spacingAndGlyphs">Absorbance/a.u.</text>
<text x="1031.8" y="1514.0" font-size="33" text-anchor="middle" fill="#231f20" font-weight="bold" >Wavelength/nm</text>
<text x="647.0" y="1094.0" font-size="36" text-anchor="start" fill="#231f20" font-weight="bold" >(ii)</text>
<rect x="1607.4" y="1072.6" width="59.6" height="370.4" fill="#f7dca5" stroke="none" stroke-width="0" />
<rect x="1402.2" y="1072.6" width="461.1" height="370.4" fill="none" stroke="#2a2a2a" stroke-width="3" />
<line x1="1393.0" y1="1443.0" x2="1402.0" y2="1443.0" stroke="#231f20" stroke-width="3" />
<text x="1387.0" y="1454.5" font-size="32" text-anchor="end" fill="#231f20" font-weight="bold" >0</text>
<line x1="1393.0" y1="1368.9" x2="1402.0" y2="1368.9" stroke="#231f20" stroke-width="3" />
<text x="1387.0" y="1380.4" font-size="32" text-anchor="end" fill="#231f20" font-weight="bold" >0.1</text>
<line x1="1393.0" y1="1294.8" x2="1402.0" y2="1294.8" stroke="#231f20" stroke-width="3" />
<text x="1387.0" y="1306.3" font-size="32" text-anchor="end" fill="#231f20" font-weight="bold" >0.2</text>
<line x1="1393.0" y1="1220.7" x2="1402.0" y2="1220.7" stroke="#231f20" stroke-width="3" />
<text x="1387.0" y="1232.2" font-size="32" text-anchor="end" fill="#231f20" font-weight="bold" >0.3</text>
<line x1="1393.0" y1="1146.6" x2="1402.0" y2="1146.6" stroke="#231f20" stroke-width="3" />
<text x="1387.0" y="1158.1" font-size="32" text-anchor="end" fill="#231f20" font-weight="bold" >0.4</text>
<line x1="1397.0" y1="1406.0" x2="1402.0" y2="1406.0" stroke="#231f20" stroke-width="2.5" />
<line x1="1397.0" y1="1331.8" x2="1402.0" y2="1331.8" stroke="#231f20" stroke-width="2.5" />
<line x1="1397.0" y1="1257.8" x2="1402.0" y2="1257.8" stroke="#231f20" stroke-width="2.5" />
<line x1="1397.0" y1="1183.7" x2="1402.0" y2="1183.7" stroke="#231f20" stroke-width="2.5" />
<line x1="1397.0" y1="1109.5" x2="1402.0" y2="1109.5" stroke="#231f20" stroke-width="2.5" />
<line x1="1402.2" y1="1443.0" x2="1402.2" y2="1451.0" stroke="#231f20" stroke-width="3" />
<text x="1402.2" y="1479.0" font-size="33" text-anchor="middle" fill="#231f20" font-weight="bold" >500</text>
<line x1="1555.9" y1="1443.0" x2="1555.9" y2="1451.0" stroke="#231f20" stroke-width="3" />
<text x="1555.9" y="1479.0" font-size="33" text-anchor="middle" fill="#231f20" font-weight="bold" >600</text>
<line x1="1709.6" y1="1443.0" x2="1709.6" y2="1451.0" stroke="#231f20" stroke-width="3" />
<text x="1709.6" y="1479.0" font-size="33" text-anchor="middle" fill="#231f20" font-weight="bold" >700</text>
<line x1="1863.3" y1="1443.0" x2="1863.3" y2="1451.0" stroke="#231f20" stroke-width="3" />
<text x="1863.3" y="1479.0" font-size="33" text-anchor="middle" fill="#231f20" font-weight="bold" >800</text>
<line x1="1479.0" y1="1443.0" x2="1479.0" y2="1448.0" stroke="#231f20" stroke-width="2.5" />
<line x1="1632.8" y1="1443.0" x2="1632.8" y2="1448.0" stroke="#231f20" stroke-width="2.5" />
<line x1="1786.5" y1="1443.0" x2="1786.5" y2="1448.0" stroke="#231f20" stroke-width="2.5" />
<polyline points="1402.2,1396.3 1403.0,1396.0 1404.0,1395.8 1405.0,1395.4 1406.2,1395.1 1407.4,1394.7 1408.8,1394.3 1410.2,1393.9 1411.7,1393.4 1413.2,1392.9 1414.8,1392.4 1416.5,1391.9 1418.2,1391.4 1419.9,1390.9 1421.6,1390.3 1423.4,1389.7 1425.2,1389.2 1427.0,1388.6 1428.8,1388.0 1430.6,1387.4 1432.3,1386.8 1434.1,1386.2 1435.8,1385.6 1437.4,1384.9 1439.1,1384.3 1440.6,1383.7 1442.2,1383.1 1443.7,1382.5 1445.2,1382.0 1446.8,1381.4 1448.3,1380.9 1449.8,1380.3 1451.4,1379.7 1452.9,1379.2 1454.5,1378.6 1456.0,1378.0 1457.5,1377.5 1459.1,1376.9 1460.6,1376.2 1462.1,1375.6 1463.7,1374.9 1465.2,1374.2 1466.8,1373.5 1468.3,1372.7 1469.8,1371.9 1471.4,1371.0 1472.9,1370.1 1474.4,1369.1 1476.0,1368.1 1477.5,1367.1 1479.0,1365.9 1480.6,1364.8 1482.1,1363.5 1483.7,1362.2 1485.2,1360.9 1486.7,1359.6 1488.3,1358.1 1489.8,1356.7 1491.3,1355.2 1492.9,1353.7 1494.4,1352.1 1496.0,1350.5 1497.5,1348.9 1499.0,1347.3 1500.6,1345.6 1502.1,1343.9 1503.6,1342.2 1505.2,1340.4 1506.7,1338.7 1508.3,1336.9 1509.8,1335.1 1511.3,1333.3 1512.9,1331.4 1514.4,1329.6 1515.9,1327.8 1517.5,1325.9 1519.0,1324.1 1520.5,1322.2 1522.1,1320.2 1523.6,1318.3 1525.2,1316.3 1526.7,1314.3 1528.2,1312.3 1529.8,1310.3 1531.3,1308.2 1532.8,1306.1 1534.4,1304.0 1535.9,1301.9 1537.5,1299.8 1539.0,1297.6 1540.5,1295.4 1542.1,1293.3 1543.6,1291.1 1545.1,1288.9 1546.7,1286.7 1548.2,1284.5 1549.8,1282.2 1551.3,1280.0 1552.8,1277.8 1554.4,1275.5 1555.9,1273.3 1557.4,1271.1 1559.0,1268.8 1560.5,1266.5 1562.0,1264.1 1563.5,1261.8 1565.1,1259.4 1566.6,1257.0 1568.1,1254.6 1569.6,1252.2 1571.1,1249.8 1572.6,1247.4 1574.2,1245.0 1575.7,1242.5 1577.2,1240.1 1578.7,1237.7 1580.3,1235.2 1581.8,1232.8 1583.3,1230.4 1584.9,1228.0 1586.4,1225.6 1588.0,1223.3 1589.6,1220.9 1591.1,1218.6 1592.7,1216.3 1594.3,1214.0 1595.9,1211.7 1597.6,1209.3 1599.2,1206.7 1600.8,1204.1 1602.5,1201.4 1604.2,1198.7 1605.9,1196.0 1607.5,1193.2 1609.2,1190.4 1610.9,1187.7 1612.6,1185.0 1614.3,1182.3 1616.0,1179.8 1617.7,1177.3 1619.4,1174.9 1621.1,1172.6 1622.8,1170.5 1624.5,1168.5 1626.1,1166.7 1627.8,1165.0 1629.4,1163.6 1631.0,1162.4 1632.7,1161.5 1634.2,1160.7 1635.8,1160.3 1637.4,1160.1 1638.9,1160.2 1640.5,1160.4 1642.0,1160.9 1643.5,1161.5 1645.0,1162.4 1646.5,1163.4 1648.0,1164.6 1649.4,1165.9 1650.9,1167.3 1652.4,1168.9 1653.8,1170.6 1655.3,1172.5 1656.7,1174.4 1658.2,1176.4 1659.6,1178.5 1661.1,1180.7 1662.5,1182.9 1664.0,1185.2 1665.4,1187.5 1666.9,1189.8 1668.3,1192.1 1669.8,1194.5 1671.2,1196.9 1672.7,1199.2 1674.2,1201.6 1675.7,1204.2 1677.1,1206.9 1678.6,1209.7 1680.0,1212.6 1681.5,1215.7 1683.0,1218.8 1684.4,1222.0 1685.9,1225.3 1687.3,1228.6 1688.8,1232.0 1690.2,1235.4 1691.7,1238.8 1693.2,1242.2 1694.6,1245.6 1696.1,1249.0 1697.6,1252.4 1699.0,1255.7 1700.5,1259.0 1702.0,1262.3 1703.5,1265.4 1705.0,1268.5 1706.5,1271.4 1708.1,1274.3 1709.6,1277.0 1711.1,1279.7 1712.7,1282.3 1714.2,1285.0 1715.8,1287.6 1717.4,1290.2 1718.9,1292.8 1720.5,1295.4 1722.1,1297.9 1723.7,1300.4 1725.3,1302.8 1726.9,1305.3 1728.5,1307.6 1730.1,1309.9 1731.7,1312.2 1733.3,1314.4 1734.9,1316.6 1736.6,1318.7 1738.2,1320.7 1739.8,1322.6 1741.4,1324.5 1743.0,1326.3 1744.7,1328.0 1746.3,1329.6 1747.9,1331.1 1749.6,1332.6 1751.2,1333.9 1752.9,1335.2 1754.5,1336.4 1756.2,1337.4 1757.9,1338.5 1759.6,1339.4 1761.3,1340.2 1763.0,1341.0 1764.7,1341.7 1766.4,1342.4 1768.1,1343.0 1769.8,1343.5 1771.5,1344.0 1773.2,1344.4 1774.9,1344.8 1776.6,1345.1 1778.3,1345.4 1780.0,1345.7 1781.6,1345.9 1783.2,1346.1 1784.8,1346.2 1786.4,1346.4 1788.0,1346.5 1789.5,1346.6 1791.1,1346.7 1792.6,1346.7 1794.0,1346.7 1795.4,1346.6 1796.9,1346.5 1798.2,1346.2 1799.6,1346.0 1801.0,1345.7 1802.3,1345.4 1803.6,1345.0 1804.9,1344.5 1806.2,1344.1 1807.5,1343.6 1808.8,1343.1 1810.1,1342.6 1811.4,1342.0 1812.7,1341.5 1814.0,1340.9 1815.3,1340.3 1816.6,1339.7 1817.9,1339.1 1819.3,1338.5 1820.7,1338.0 1822.0,1337.4 1823.4,1336.8 1824.9,1336.3 1826.4,1335.7 1827.9,1335.2 1829.5,1334.5 1831.2,1333.9 1832.9,1333.2 1834.6,1332.5 1836.4,1331.8 1838.2,1331.1 1840.0,1330.3 1841.8,1329.6 1843.5,1328.8 1845.3,1328.1 1847.1,1327.3 1848.8,1326.6 1850.5,1325.9 1852.1,1325.2 1853.7,1324.5 1855.2,1323.8 1856.6,1323.2 1858.0,1322.6 1859.3,1322.1 1860.4,1321.6 1861.5,1321.1 1862.5,1320.7 1863.3,1320.4" fill="none" stroke="#6a4ea6" stroke-width="3.5" stroke-linejoin="round" stroke-linecap="round" />
<polyline points="1402.2,1401.2 1403.0,1401.0 1404.0,1400.7 1405.0,1400.4 1406.2,1400.1 1407.4,1399.8 1408.8,1399.4 1410.2,1399.0 1411.7,1398.6 1413.2,1398.2 1414.8,1397.8 1416.5,1397.3 1418.2,1396.8 1419.9,1396.4 1421.6,1395.9 1423.4,1395.4 1425.2,1394.8 1427.0,1394.3 1428.8,1393.8 1430.6,1393.3 1432.3,1392.7 1434.1,1392.2 1435.8,1391.6 1437.4,1391.1 1439.1,1390.5 1440.6,1390.0 1442.2,1389.4 1443.7,1388.9 1445.2,1388.4 1446.8,1387.9 1448.3,1387.4 1449.8,1386.9 1451.4,1386.4 1452.9,1385.9 1454.5,1385.4 1456.0,1384.9 1457.5,1384.3 1459.1,1383.8 1460.6,1383.2 1462.1,1382.6 1463.7,1382.0 1465.2,1381.4 1466.8,1380.7 1468.3,1380.0 1469.8,1379.3 1471.4,1378.5 1472.9,1377.7 1474.4,1376.8 1476.0,1375.9 1477.5,1374.9 1479.0,1373.9 1480.6,1372.8 1482.1,1371.7 1483.7,1370.6 1485.2,1369.4 1486.7,1368.1 1488.3,1366.9 1489.8,1365.6 1491.3,1364.2 1492.9,1362.8 1494.4,1361.4 1496.0,1360.0 1497.5,1358.5 1499.0,1357.0 1500.6,1355.5 1502.1,1354.0 1503.6,1352.4 1505.2,1350.8 1506.7,1349.2 1508.3,1347.6 1509.8,1346.0 1511.3,1344.3 1512.9,1342.7 1514.4,1341.0 1515.9,1339.3 1517.5,1337.6 1519.0,1335.9 1520.5,1334.1 1522.1,1332.4 1523.6,1330.6 1525.2,1328.7 1526.7,1326.9 1528.2,1325.0 1529.8,1323.1 1531.3,1321.2 1532.8,1319.3 1534.4,1317.3 1535.9,1315.3 1537.5,1313.3 1539.0,1311.3 1540.5,1309.3 1542.1,1307.3 1543.6,1305.3 1545.1,1303.3 1546.7,1301.2 1548.2,1299.2 1549.8,1297.1 1551.3,1295.1 1552.8,1293.0 1554.4,1291.0 1555.9,1288.9 1557.4,1286.9 1559.0,1284.8 1560.5,1282.7 1562.0,1280.6 1563.5,1278.5 1565.1,1276.4 1566.6,1274.2 1568.1,1272.0 1569.6,1269.9 1571.1,1267.7 1572.6,1265.5 1574.2,1263.3 1575.7,1261.1 1577.2,1259.0 1578.7,1256.8 1580.3,1254.6 1581.8,1252.4 1583.3,1250.3 1584.9,1248.1 1586.4,1246.0 1588.0,1243.9 1589.6,1241.8 1591.1,1239.7 1592.7,1237.6 1594.3,1235.6 1595.9,1233.5 1597.6,1231.3 1599.2,1229.0 1600.8,1226.6 1602.5,1224.2 1604.2,1221.8 1605.9,1219.3 1607.5,1216.8 1609.2,1214.3 1610.9,1211.8 1612.6,1209.4 1614.3,1207.0 1616.0,1204.7 1617.7,1202.4 1619.4,1200.3 1621.1,1198.2 1622.8,1196.3 1624.5,1194.5 1626.1,1192.9 1627.8,1191.4 1629.4,1190.2 1631.0,1189.1 1632.7,1188.2 1634.2,1187.6 1635.8,1187.2 1637.4,1187.0 1638.9,1187.0 1640.5,1187.3 1642.0,1187.7 1643.5,1188.3 1645.0,1189.0 1646.5,1189.9 1648.0,1191.0 1649.4,1192.2 1650.9,1193.5 1652.4,1194.9 1653.8,1196.5 1655.3,1198.1 1656.7,1199.8 1658.2,1201.6 1659.6,1203.5 1661.1,1205.5 1662.5,1207.5 1664.0,1209.5 1665.4,1211.6 1666.9,1213.7 1668.3,1215.8 1669.8,1217.9 1671.2,1220.0 1672.7,1222.1 1674.2,1224.3 1675.7,1226.6 1677.1,1229.0 1678.6,1231.6 1680.0,1234.2 1681.5,1237.0 1683.0,1239.8 1684.4,1242.7 1685.9,1245.6 1687.3,1248.6 1688.8,1251.6 1690.2,1254.7 1691.7,1257.8 1693.2,1260.8 1694.6,1263.9 1696.1,1267.0 1697.6,1270.0 1699.0,1273.0 1700.5,1276.0 1702.0,1278.9 1703.5,1281.7 1705.0,1284.5 1706.5,1287.1 1708.1,1289.7 1709.6,1292.1 1711.1,1294.5 1712.7,1296.9 1714.2,1299.3 1715.8,1301.6 1717.4,1303.9 1718.9,1306.3 1720.5,1308.5 1722.1,1310.8 1723.7,1313.0 1725.3,1315.2 1726.9,1317.4 1728.5,1319.5 1730.1,1321.5 1731.7,1323.6 1733.3,1325.5 1734.9,1327.4 1736.6,1329.3 1738.2,1331.1 1739.8,1332.8 1741.4,1334.5 1743.0,1336.1 1744.7,1337.6 1746.3,1339.1 1747.9,1340.4 1749.6,1341.7 1751.2,1342.9 1752.9,1344.0 1754.5,1345.1 1756.2,1346.0 1757.9,1346.9 1759.6,1347.7 1761.3,1348.5 1763.0,1349.2 1764.7,1349.8 1766.4,1350.4 1768.1,1350.9 1769.8,1351.4 1771.5,1351.8 1773.2,1352.2 1774.9,1352.5 1776.6,1352.8 1778.3,1353.1 1780.0,1353.3 1781.6,1353.5 1783.2,1353.6 1784.8,1353.8 1786.4,1353.9 1788.0,1354.0 1789.5,1354.1 1791.1,1354.2 1792.6,1354.2 1794.0,1354.2 1795.4,1354.1 1796.9,1354.0 1798.2,1353.8 1799.6,1353.5 1801.0,1353.3 1802.3,1353.0 1803.6,1352.6 1804.9,1352.3 1806.2,1351.8 1807.5,1351.4 1808.8,1351.0 1810.1,1350.5 1811.4,1350.0 1812.7,1349.5 1814.0,1349.0 1815.3,1348.5 1816.6,1347.9 1817.9,1347.4 1819.3,1346.9 1820.7,1346.4 1822.0,1345.9 1823.4,1345.4 1824.9,1344.9 1826.4,1344.4 1827.9,1343.9 1829.5,1343.3 1831.2,1342.7 1832.9,1342.1 1834.6,1341.5 1836.4,1340.9 1838.2,1340.2 1840.0,1339.5 1841.8,1338.9 1843.5,1338.2 1845.3,1337.5 1847.1,1336.9 1848.8,1336.2 1850.5,1335.6 1852.1,1334.9 1853.7,1334.3 1855.2,1333.8 1856.6,1333.2 1858.0,1332.7 1859.3,1332.2 1860.4,1331.7 1861.5,1331.3 1862.5,1331.0 1863.3,1330.7" fill="none" stroke="#3fa263" stroke-width="3.5" stroke-linejoin="round" stroke-linecap="round" />
<polyline points="1402.2,1404.7 1403.0,1404.5 1404.0,1404.3 1405.0,1404.0 1406.2,1403.8 1407.4,1403.5 1408.8,1403.2 1410.2,1402.9 1411.7,1402.6 1413.2,1402.2 1414.8,1401.9 1416.5,1401.5 1418.2,1401.1 1419.9,1400.7 1421.6,1400.3 1423.4,1399.9 1425.2,1399.5 1427.0,1399.1 1428.8,1398.6 1430.6,1398.2 1432.3,1397.8 1434.1,1397.3 1435.8,1396.9 1437.4,1396.4 1439.1,1396.0 1440.6,1395.5 1442.2,1395.1 1443.7,1394.7 1445.2,1394.3 1446.8,1393.9 1448.3,1393.5 1449.8,1393.1 1451.4,1392.7 1452.9,1392.3 1454.5,1391.9 1456.0,1391.5 1457.5,1391.0 1459.1,1390.6 1460.6,1390.1 1462.1,1389.7 1463.7,1389.2 1465.2,1388.7 1466.8,1388.1 1468.3,1387.6 1469.8,1387.0 1471.4,1386.4 1472.9,1385.7 1474.4,1385.0 1476.0,1384.3 1477.5,1383.5 1479.0,1382.7 1480.6,1381.8 1482.1,1380.9 1483.7,1380.0 1485.2,1379.1 1486.7,1378.1 1488.3,1377.0 1489.8,1376.0 1491.3,1374.9 1492.9,1373.8 1494.4,1372.6 1496.0,1371.5 1497.5,1370.3 1499.0,1369.1 1500.6,1367.9 1502.1,1366.6 1503.6,1365.4 1505.2,1364.1 1506.7,1362.8 1508.3,1361.5 1509.8,1360.2 1511.3,1358.9 1512.9,1357.6 1514.4,1356.2 1515.9,1354.9 1517.5,1353.6 1519.0,1352.2 1520.5,1350.8 1522.1,1349.5 1523.6,1348.0 1525.2,1346.6 1526.7,1345.2 1528.2,1343.7 1529.8,1342.2 1531.3,1340.8 1532.8,1339.2 1534.4,1337.7 1535.9,1336.2 1537.5,1334.7 1539.0,1333.1 1540.5,1331.6 1542.1,1330.0 1543.6,1328.4 1545.1,1326.8 1546.7,1325.2 1548.2,1323.6 1549.8,1322.0 1551.3,1320.4 1552.8,1318.8 1554.4,1317.2 1555.9,1315.5 1557.4,1313.9 1559.0,1312.2 1560.5,1310.5 1562.0,1308.8 1563.5,1307.1 1565.1,1305.4 1566.6,1303.7 1568.1,1301.9 1569.6,1300.1 1571.1,1298.4 1572.6,1296.6 1574.2,1294.8 1575.7,1293.0 1577.2,1291.2 1578.7,1289.5 1580.3,1287.7 1581.8,1285.9 1583.3,1284.2 1584.9,1282.4 1586.4,1280.7 1588.0,1278.9 1589.6,1277.2 1591.1,1275.5 1592.7,1273.8 1594.3,1272.2 1595.9,1270.5 1597.6,1268.7 1599.2,1266.8 1600.8,1264.9 1602.5,1262.9 1604.2,1261.0 1605.9,1258.9 1607.5,1256.9 1609.2,1254.9 1610.9,1252.9 1612.6,1250.9 1614.3,1249.0 1616.0,1247.1 1617.7,1245.2 1619.4,1243.5 1621.1,1241.8 1622.8,1240.3 1624.5,1238.8 1626.1,1237.5 1627.8,1236.3 1629.4,1235.3 1631.0,1234.4 1632.7,1233.7 1634.2,1233.2 1635.8,1232.8 1637.4,1232.7 1638.9,1232.7 1640.5,1232.9 1642.0,1233.2 1643.5,1233.7 1645.0,1234.3 1646.5,1235.0 1648.0,1235.9 1649.4,1236.9 1650.9,1237.9 1652.4,1239.1 1653.8,1240.3 1655.3,1241.7 1656.7,1243.1 1658.2,1244.5 1659.6,1246.0 1661.1,1247.6 1662.5,1249.2 1664.0,1250.9 1665.4,1252.6 1666.9,1254.3 1668.3,1256.0 1669.8,1257.7 1671.2,1259.4 1672.7,1261.1 1674.2,1262.9 1675.7,1264.8 1677.1,1266.7 1678.6,1268.8 1680.0,1270.9 1681.5,1273.2 1683.0,1275.4 1684.4,1277.8 1685.9,1280.2 1687.3,1282.6 1688.8,1285.1 1690.2,1287.5 1691.7,1290.0 1693.2,1292.5 1694.6,1295.0 1696.1,1297.5 1697.6,1300.0 1699.0,1302.4 1700.5,1304.8 1702.0,1307.1 1703.5,1309.4 1705.0,1311.7 1706.5,1313.8 1708.1,1315.9 1709.6,1317.8 1711.1,1319.7 1712.7,1321.7 1714.2,1323.5 1715.8,1325.4 1717.4,1327.3 1718.9,1329.1 1720.5,1330.9 1722.1,1332.7 1723.7,1334.5 1725.3,1336.3 1726.9,1338.0 1728.5,1339.6 1730.1,1341.3 1731.7,1342.9 1733.3,1344.4 1734.9,1345.9 1736.6,1347.4 1738.2,1348.8 1739.8,1350.2 1741.4,1351.5 1743.0,1352.8 1744.7,1354.0 1746.3,1355.1 1747.9,1356.2 1749.6,1357.2 1751.2,1358.1 1752.9,1359.0 1754.5,1359.8 1756.2,1360.6 1757.9,1361.3 1759.6,1362.0 1761.3,1362.5 1763.0,1363.1 1764.7,1363.6 1766.4,1364.0 1768.1,1364.4 1769.8,1364.8 1771.5,1365.1 1773.2,1365.4 1774.9,1365.7 1776.6,1365.9 1778.3,1366.1 1780.0,1366.2 1781.6,1366.4 1783.2,1366.5 1784.8,1366.6 1786.4,1366.7 1788.0,1366.8 1789.5,1366.8 1791.1,1366.9 1792.6,1366.9 1794.0,1366.9 1795.4,1366.8 1796.9,1366.7 1798.2,1366.6 1799.6,1366.4 1801.0,1366.2 1802.3,1365.9 1803.6,1365.6 1804.9,1365.3 1806.2,1365.0 1807.5,1364.7 1808.8,1364.3 1810.1,1363.9 1811.4,1363.6 1812.7,1363.2 1814.0,1362.7 1815.3,1362.3 1816.6,1361.9 1817.9,1361.5 1819.3,1361.1 1820.7,1360.7 1822.0,1360.3 1823.4,1359.9 1824.9,1359.5 1826.4,1359.1 1827.9,1358.7 1829.5,1358.3 1831.2,1357.8 1832.9,1357.3 1834.6,1356.8 1836.4,1356.3 1838.2,1355.8 1840.0,1355.2 1841.8,1354.7 1843.5,1354.2 1845.3,1353.6 1847.1,1353.1 1848.8,1352.6 1850.5,1352.1 1852.1,1351.6 1853.7,1351.1 1855.2,1350.6 1856.6,1350.2 1858.0,1349.8 1859.3,1349.4 1860.4,1349.0 1861.5,1348.7 1862.5,1348.4 1863.3,1348.2" fill="none" stroke="#2a93d5" stroke-width="3.5" stroke-linejoin="round" stroke-linecap="round" />
<polyline points="1402.2,1408.5 1403.0,1408.4 1404.0,1408.2 1405.0,1408.1 1406.2,1407.9 1407.4,1407.7 1408.8,1407.5 1410.2,1407.3 1411.7,1407.0 1413.2,1406.8 1414.8,1406.5 1416.5,1406.2 1418.2,1406.0 1419.9,1405.7 1421.6,1405.4 1423.4,1405.1 1425.2,1404.8 1427.0,1404.5 1428.8,1404.2 1430.6,1403.9 1432.3,1403.6 1434.1,1403.3 1435.8,1402.9 1437.4,1402.6 1439.1,1402.3 1440.6,1402.0 1442.2,1401.7 1443.7,1401.4 1445.2,1401.1 1446.8,1400.8 1448.3,1400.6 1449.8,1400.3 1451.4,1400.0 1452.9,1399.7 1454.5,1399.5 1456.0,1399.2 1457.5,1398.9 1459.1,1398.6 1460.6,1398.3 1462.1,1398.0 1463.7,1397.6 1465.2,1397.3 1466.8,1396.9 1468.3,1396.5 1469.8,1396.1 1471.4,1395.7 1472.9,1395.3 1474.4,1394.8 1476.0,1394.3 1477.5,1393.7 1479.0,1393.2 1480.6,1392.6 1482.1,1392.0 1483.7,1391.3 1485.2,1390.6 1486.7,1389.9 1488.3,1389.2 1489.8,1388.5 1491.3,1387.7 1492.9,1386.9 1494.4,1386.1 1496.0,1385.3 1497.5,1384.5 1499.0,1383.7 1500.6,1382.8 1502.1,1381.9 1503.6,1381.1 1505.2,1380.2 1506.7,1379.3 1508.3,1378.4 1509.8,1377.5 1511.3,1376.6 1512.9,1375.7 1514.4,1374.8 1515.9,1373.9 1517.5,1373.0 1519.0,1372.1 1520.5,1371.2 1522.1,1370.3 1523.6,1369.4 1525.2,1368.5 1526.7,1367.5 1528.2,1366.6 1529.8,1365.7 1531.3,1364.7 1532.8,1363.8 1534.4,1362.8 1535.9,1361.8 1537.5,1360.9 1539.0,1359.9 1540.5,1358.9 1542.1,1357.9 1543.6,1356.9 1545.1,1355.8 1546.7,1354.8 1548.2,1353.8 1549.8,1352.7 1551.3,1351.6 1552.8,1350.6 1554.4,1349.5 1555.9,1348.4 1557.4,1347.2 1559.0,1346.1 1560.5,1344.9 1562.0,1343.7 1563.5,1342.5 1565.1,1341.3 1566.6,1340.1 1568.1,1338.8 1569.6,1337.5 1571.1,1336.3 1572.6,1335.0 1574.2,1333.7 1575.7,1332.4 1577.2,1331.1 1578.7,1329.9 1580.3,1328.6 1581.8,1327.3 1583.3,1326.0 1584.9,1324.7 1586.4,1323.5 1588.0,1322.2 1589.6,1321.0 1591.1,1319.8 1592.7,1318.5 1594.3,1317.4 1595.9,1316.1 1597.6,1314.9 1599.2,1313.5 1600.8,1312.2 1602.5,1310.8 1604.2,1309.4 1605.9,1307.9 1607.5,1306.5 1609.2,1305.0 1610.9,1303.6 1612.6,1302.2 1614.3,1300.8 1616.0,1299.4 1617.7,1298.1 1619.4,1296.9 1621.1,1295.7 1622.8,1294.6 1624.5,1293.5 1626.1,1292.6 1627.8,1291.7 1629.4,1291.0 1631.0,1290.4 1632.7,1289.9 1634.2,1289.5 1635.8,1289.2 1637.4,1289.1 1638.9,1289.2 1640.5,1289.3 1642.0,1289.5 1643.5,1289.8 1645.0,1290.3 1646.5,1290.8 1648.0,1291.4 1649.4,1292.1 1650.9,1292.8 1652.4,1293.6 1653.8,1294.5 1655.3,1295.5 1656.7,1296.5 1658.2,1297.5 1659.6,1298.6 1661.1,1299.7 1662.5,1300.9 1664.0,1302.0 1665.4,1303.2 1666.9,1304.4 1668.3,1305.6 1669.8,1306.9 1671.2,1308.1 1672.7,1309.3 1674.2,1310.5 1675.7,1311.9 1677.1,1313.3 1678.6,1314.7 1680.0,1316.3 1681.5,1317.9 1683.0,1319.5 1684.4,1321.2 1685.9,1322.9 1687.3,1324.6 1688.8,1326.4 1690.2,1328.1 1691.7,1329.9 1693.2,1331.7 1694.6,1333.5 1696.1,1335.2 1697.6,1337.0 1699.0,1338.7 1700.5,1340.4 1702.0,1342.1 1703.5,1343.7 1705.0,1345.2 1706.5,1346.8 1708.1,1348.2 1709.6,1349.6 1711.1,1350.9 1712.7,1352.2 1714.2,1353.5 1715.8,1354.8 1717.4,1356.1 1718.9,1357.4 1720.5,1358.6 1722.1,1359.9 1723.7,1361.1 1725.3,1362.2 1726.9,1363.4 1728.5,1364.5 1730.1,1365.6 1731.7,1366.7 1733.3,1367.8 1734.9,1368.8 1736.6,1369.8 1738.2,1370.7 1739.8,1371.6 1741.4,1372.5 1743.0,1373.4 1744.7,1374.2 1746.3,1374.9 1747.9,1375.7 1749.6,1376.3 1751.2,1377.0 1752.9,1377.6 1754.5,1378.1 1756.2,1378.6 1757.9,1379.1 1759.6,1379.5 1761.3,1379.9 1763.0,1380.3 1764.7,1380.6 1766.4,1380.9 1768.1,1381.1 1769.8,1381.3 1771.5,1381.6 1773.2,1381.7 1774.9,1381.9 1776.6,1382.0 1778.3,1382.1 1780.0,1382.2 1781.6,1382.3 1783.2,1382.4 1784.8,1382.5 1786.4,1382.5 1788.0,1382.5 1789.5,1382.6 1791.1,1382.6 1792.6,1382.6 1794.0,1382.6 1795.4,1382.5 1796.9,1382.5 1798.2,1382.4 1799.6,1382.2 1801.0,1382.1 1802.3,1381.9 1803.6,1381.7 1804.9,1381.5 1806.2,1381.3 1807.5,1381.1 1808.8,1380.8 1810.1,1380.6 1811.4,1380.3 1812.7,1380.0 1814.0,1379.8 1815.3,1379.5 1816.6,1379.2 1817.9,1378.9 1819.3,1378.6 1820.7,1378.4 1822.0,1378.1 1823.4,1377.8 1824.9,1377.6 1826.4,1377.3 1827.9,1377.0 1829.5,1376.7 1831.2,1376.4 1832.9,1376.1 1834.6,1375.7 1836.4,1375.4 1838.2,1375.0 1840.0,1374.6 1841.8,1374.3 1843.5,1373.9 1845.3,1373.5 1847.1,1373.2 1848.8,1372.8 1850.5,1372.5 1852.1,1372.1 1853.7,1371.8 1855.2,1371.5 1856.6,1371.2 1858.0,1370.9 1859.3,1370.6 1860.4,1370.4 1861.5,1370.2 1862.5,1370.0 1863.3,1369.8" fill="none" stroke="#ee7a34" stroke-width="3.5" stroke-linejoin="round" stroke-linecap="round" />
<polyline points="1402.2,1415.9 1403.0,1415.8 1404.0,1415.7 1405.0,1415.6 1406.2,1415.6 1407.4,1415.5 1408.8,1415.3 1410.2,1415.2 1411.7,1415.1 1413.2,1415.0 1414.8,1414.9 1416.5,1414.7 1418.2,1414.6 1419.9,1414.4 1421.6,1414.3 1423.4,1414.2 1425.2,1414.0 1427.0,1413.9 1428.8,1413.7 1430.6,1413.6 1432.3,1413.4 1434.1,1413.3 1435.8,1413.1 1437.4,1413.0 1439.1,1412.8 1440.6,1412.7 1442.2,1412.5 1443.7,1412.4 1445.2,1412.2 1446.8,1412.1 1448.3,1412.0 1449.8,1411.9 1451.4,1411.7 1452.9,1411.6 1454.5,1411.5 1456.0,1411.4 1457.5,1411.2 1459.1,1411.1 1460.6,1411.0 1462.1,1410.8 1463.7,1410.7 1465.2,1410.5 1466.8,1410.4 1468.3,1410.2 1469.8,1410.0 1471.4,1409.8 1472.9,1409.6 1474.4,1409.4 1476.0,1409.1 1477.5,1408.9 1479.0,1408.6 1480.6,1408.4 1482.1,1408.1 1483.7,1407.7 1485.2,1407.4 1486.7,1407.1 1488.3,1406.7 1489.8,1406.4 1491.3,1406.0 1492.9,1405.6 1494.4,1405.2 1496.0,1404.8 1497.5,1404.4 1499.0,1404.0 1500.6,1403.6 1502.1,1403.2 1503.6,1402.8 1505.2,1402.4 1506.7,1401.9 1508.3,1401.5 1509.8,1401.1 1511.3,1400.7 1512.9,1400.3 1514.4,1399.9 1515.9,1399.5 1517.5,1399.1 1519.0,1398.7 1520.5,1398.3 1522.1,1397.9 1523.6,1397.5 1525.2,1397.2 1526.7,1396.8 1528.2,1396.4 1529.8,1396.1 1531.3,1395.7 1532.8,1395.3 1534.4,1395.0 1535.9,1394.6 1537.5,1394.2 1539.0,1393.8 1540.5,1393.5 1542.1,1393.1 1543.6,1392.7 1545.1,1392.2 1546.7,1391.8 1548.2,1391.4 1549.8,1390.9 1551.3,1390.5 1552.8,1390.0 1554.4,1389.5 1555.9,1389.0 1557.4,1388.5 1559.0,1387.9 1560.5,1387.4 1562.0,1386.8 1563.5,1386.2 1565.1,1385.6 1566.6,1385.0 1568.1,1384.4 1569.6,1383.7 1571.1,1383.1 1572.6,1382.4 1574.2,1381.8 1575.7,1381.1 1577.2,1380.4 1578.7,1379.8 1580.3,1379.1 1581.8,1378.4 1583.3,1377.8 1584.9,1377.1 1586.4,1376.5 1588.0,1375.8 1589.6,1375.2 1591.1,1374.5 1592.7,1373.9 1594.3,1373.3 1595.9,1372.7 1597.6,1372.1 1599.2,1371.4 1600.8,1370.7 1602.5,1370.0 1604.2,1369.3 1605.9,1368.6 1607.5,1367.8 1609.2,1367.1 1610.9,1366.4 1612.6,1365.7 1614.3,1365.0 1616.0,1364.3 1617.7,1363.6 1619.4,1363.0 1621.1,1362.4 1622.8,1361.8 1624.5,1361.3 1626.1,1360.8 1627.8,1360.4 1629.4,1360.0 1631.0,1359.7 1632.7,1359.4 1634.2,1359.2 1635.8,1359.1 1637.4,1359.0 1638.9,1359.0 1640.5,1359.1 1642.0,1359.2 1643.5,1359.3 1645.0,1359.6 1646.5,1359.8 1648.0,1360.1 1649.4,1360.4 1650.9,1360.8 1652.4,1361.2 1653.8,1361.6 1655.3,1362.1 1656.7,1362.6 1658.2,1363.1 1659.6,1363.6 1661.1,1364.2 1662.5,1364.8 1664.0,1365.3 1665.4,1365.9 1666.9,1366.5 1668.3,1367.1 1669.8,1367.7 1671.2,1368.3 1672.7,1368.9 1674.2,1369.5 1675.7,1370.2 1677.1,1370.9 1678.6,1371.6 1680.0,1372.4 1681.5,1373.2 1683.0,1374.0 1684.4,1374.9 1685.9,1375.7 1687.3,1376.6 1688.8,1377.5 1690.2,1378.4 1691.7,1379.3 1693.2,1380.2 1694.6,1381.0 1696.1,1381.9 1697.6,1382.8 1699.0,1383.6 1700.5,1384.5 1702.0,1385.3 1703.5,1386.1 1705.0,1386.8 1706.5,1387.5 1708.1,1388.2 1709.6,1388.9 1711.1,1389.5 1712.7,1390.1 1714.2,1390.7 1715.8,1391.3 1717.4,1391.8 1718.9,1392.4 1720.5,1392.9 1722.1,1393.4 1723.7,1393.9 1725.3,1394.4 1726.9,1394.9 1728.5,1395.4 1730.1,1395.8 1731.7,1396.2 1733.3,1396.7 1734.9,1397.1 1736.6,1397.4 1738.2,1397.8 1739.8,1398.2 1741.4,1398.5 1743.0,1398.9 1744.7,1399.2 1746.3,1399.5 1747.9,1399.8 1749.6,1400.0 1751.2,1400.3 1752.9,1400.5 1754.5,1400.7 1756.2,1400.9 1757.9,1401.1 1759.6,1401.2 1761.3,1401.4 1763.0,1401.5 1764.7,1401.6 1766.4,1401.7 1768.1,1401.8 1769.8,1401.8 1771.5,1401.9 1773.2,1401.9 1774.9,1402.0 1776.6,1402.0 1778.3,1402.0 1780.0,1402.0 1781.6,1402.1 1783.2,1402.1 1784.8,1402.1 1786.4,1402.1 1788.0,1402.1 1789.5,1402.1 1791.1,1402.1 1792.6,1402.0 1794.0,1402.0 1795.4,1402.0 1796.9,1402.0 1798.2,1401.9 1799.6,1401.9 1801.0,1401.8 1802.3,1401.7 1803.6,1401.6 1804.9,1401.5 1806.2,1401.5 1807.5,1401.4 1808.8,1401.3 1810.1,1401.2 1811.4,1401.0 1812.7,1400.9 1814.0,1400.8 1815.3,1400.7 1816.6,1400.6 1817.9,1400.5 1819.3,1400.4 1820.7,1400.2 1822.0,1400.1 1823.4,1400.0 1824.9,1399.9 1826.4,1399.8 1827.9,1399.7 1829.5,1399.5 1831.2,1399.4 1832.9,1399.3 1834.6,1399.1 1836.4,1399.0 1838.2,1398.8 1840.0,1398.7 1841.8,1398.5 1843.5,1398.3 1845.3,1398.2 1847.1,1398.0 1848.8,1397.9 1850.5,1397.7 1852.1,1397.6 1853.7,1397.4 1855.2,1397.3 1856.6,1397.2 1858.0,1397.1 1859.3,1396.9 1860.4,1396.8 1861.5,1396.7 1862.5,1396.7 1863.3,1396.6" fill="none" stroke="#e2489b" stroke-width="3.5" stroke-linejoin="round" stroke-linecap="round" />
<polyline points="1402.2,1428.9 1403.5,1428.9 1405.2,1428.9 1407.0,1429.0 1409.1,1429.0 1411.4,1429.0 1413.8,1429.0 1416.4,1429.1 1419.0,1429.1 1421.7,1429.1 1424.5,1429.1 1427.3,1429.2 1430.1,1429.2 1432.9,1429.2 1435.6,1429.2 1438.2,1429.3 1440.6,1429.3 1443.0,1429.3 1445.4,1429.3 1447.8,1429.4 1450.2,1429.4 1452.6,1429.4 1455.0,1429.4 1457.4,1429.5 1459.8,1429.5 1462.2,1429.5 1464.6,1429.6 1467.0,1429.6 1469.4,1429.6 1471.8,1429.6 1474.2,1429.6 1476.6,1429.6 1479.0,1429.7 1481.5,1429.7 1483.9,1429.7 1486.3,1429.7 1488.7,1429.7 1491.1,1429.7 1493.5,1429.7 1495.9,1429.7 1498.3,1429.7 1500.7,1429.7 1503.1,1429.7 1505.5,1429.7 1507.9,1429.7 1510.3,1429.7 1512.7,1429.7 1515.1,1429.7 1517.5,1429.7 1519.9,1429.7 1522.3,1429.7 1524.7,1429.7 1527.1,1429.7 1529.5,1429.7 1531.9,1429.7 1534.3,1429.7 1536.7,1429.7 1539.1,1429.7 1541.5,1429.7 1543.9,1429.7 1546.3,1429.7 1548.7,1429.7 1551.1,1429.7 1553.5,1429.7 1555.9,1429.7 1558.3,1429.6 1560.7,1429.6 1563.1,1429.6 1565.4,1429.6 1567.8,1429.6 1570.2,1429.6 1572.5,1429.5 1574.9,1429.5 1577.3,1429.5 1579.7,1429.4 1582.1,1429.4 1584.5,1429.4 1586.9,1429.4 1589.4,1429.3 1591.8,1429.3 1594.3,1429.3 1596.8,1429.3 1599.4,1429.2 1602.0,1429.2 1604.6,1429.2 1607.2,1429.2 1609.9,1429.2 1612.5,1429.1 1615.2,1429.1 1617.8,1429.1 1620.5,1429.1 1623.1,1429.0 1625.7,1429.0 1628.3,1429.0 1630.8,1429.0 1633.4,1428.9 1635.8,1428.9 1638.3,1428.9 1640.7,1428.9 1643.0,1428.9 1645.4,1428.8 1647.7,1428.8 1650.0,1428.8 1652.3,1428.8 1654.6,1428.7 1656.8,1428.7 1659.1,1428.7 1661.3,1428.7 1663.6,1428.6 1665.9,1428.6 1668.1,1428.6 1670.4,1428.6 1672.7,1428.6 1675.0,1428.5 1677.3,1428.5 1679.6,1428.5 1681.9,1428.6 1684.1,1428.6 1686.4,1428.6 1688.7,1428.6 1691.0,1428.6 1693.2,1428.6 1695.5,1428.6 1697.8,1428.6 1700.2,1428.6 1702.5,1428.5 1704.8,1428.4 1707.2,1428.3 1709.6,1428.2 1712.0,1428.0 1714.4,1427.8 1716.9,1427.6 1719.3,1427.3 1721.8,1427.0 1724.3,1426.7 1726.8,1426.4 1729.3,1426.1 1731.8,1425.7 1734.3,1425.4 1736.9,1425.1 1739.4,1424.8 1741.9,1424.5 1744.5,1424.2 1747.0,1424.0 1749.6,1423.7 1752.1,1423.5 1754.7,1423.3 1757.4,1423.1 1760.0,1423.0 1762.7,1422.8 1765.3,1422.6 1768.0,1422.4 1770.7,1422.3 1773.4,1422.2 1776.0,1422.0 1778.6,1421.9 1781.2,1421.8 1783.7,1421.7 1786.2,1421.6 1788.7,1421.6 1791.1,1421.5 1793.4,1421.5 1795.6,1421.5 1797.8,1421.5 1799.9,1421.5 1802.0,1421.5 1804.1,1421.6 1806.1,1421.6 1808.2,1421.7 1810.2,1421.7 1812.2,1421.8 1814.2,1421.9 1816.3,1422.0 1818.4,1422.0 1820.5,1422.1 1822.6,1422.2 1824.9,1422.3 1827.2,1422.3 1829.7,1422.4 1832.3,1422.5 1835.1,1422.5 1837.8,1422.6 1840.6,1422.7 1843.4,1422.8 1846.2,1422.9 1848.9,1422.9 1851.5,1423.0 1854.0,1423.1 1856.3,1423.2 1858.4,1423.2 1860.3,1423.3 1861.9,1423.3 1863.3,1423.4" fill="none" stroke="#2a2a2a" stroke-width="3.5" stroke-linejoin="round" stroke-linecap="round" />
<line x1="1417.0" y1="1093.7" x2="1451.0" y2="1093.7" stroke="#1e1e1e" stroke-width="4.5" />
<text x="1457.0" y="1106.2" font-size="33.5" text-anchor="start" fill="#231f20" font-weight="bold" >0 mM</text>
<line x1="1417.0" y1="1132.6" x2="1451.0" y2="1132.6" stroke="#c57fd0" stroke-width="4.5" />
<text x="1457.0" y="1145.1" font-size="33.5" text-anchor="start" fill="#231f20" font-weight="bold" >1.0 mM</text>
<line x1="1417.0" y1="1171.5" x2="1451.0" y2="1171.5" stroke="#ee7a34" stroke-width="4.5" />
<text x="1457.0" y="1184.0" font-size="33.5" text-anchor="start" fill="#231f20" font-weight="bold" >2.5 mM</text>
<line x1="1697.8" y1="1099.0" x2="1731.8" y2="1099.0" stroke="#2aa6dc" stroke-width="4.5" />
<text x="1736.0" y="1111.5" font-size="33.5" text-anchor="start" fill="#231f20" font-weight="bold" >5.0 mM</text>
<line x1="1697.8" y1="1139.0" x2="1731.8" y2="1139.0" stroke="#3fa263" stroke-width="4.5" />
<text x="1736.0" y="1151.5" font-size="33.5" text-anchor="start" fill="#231f20" font-weight="bold" >10 mM</text>
<line x1="1697.8" y1="1180.0" x2="1731.8" y2="1180.0" stroke="#6a4ea6" stroke-width="4.5" />
<text x="1736.0" y="1192.5" font-size="33.5" text-anchor="start" fill="#231f20" font-weight="bold" >15 mM</text>
<text x="0" y="0" font-size="33" text-anchor="middle" fill="#231f20" font-weight="bold" transform="translate(1327.9,1290.0) rotate(-90)" textLength="260" lengthAdjust="spacingAndGlyphs">Absorbance/a.u.</text>
<text x="1641.0" y="1514.8" font-size="33" text-anchor="middle" fill="#231f20" font-weight="bold" >Wavelength/nm</text>
<text x="1294.8" y="1086.0" font-size="36" text-anchor="start" fill="#231f20" font-weight="bold" >(iii)</text>
<rect x="5.0" y="1515.0" width="695.0" height="416.0" fill="url(#gE)" stroke="none" stroke-width="0" />
<rect x="585.0" y="1681.0" width="61.0" height="114.0" fill="url(#gEA)" stroke="none" stroke-width="0" />
<polygon points="646.0,1628.0 701.0,1739.0 646.0,1843.0" fill="url(#gEA2)" stroke="none" stroke-width="0" />
<polygon points="145.2,1704.5 151.6,1713.5 162.3,1716.1 160.5,1727.0 166.3,1736.4 157.3,1742.8 154.7,1753.5 143.8,1751.7 134.4,1757.5 128.0,1748.5 117.3,1745.9 119.1,1735.0 113.3,1725.6 122.3,1719.2 124.9,1708.5 135.8,1710.3" fill="#f5b52e" stroke="none" stroke-width="0" stroke-linejoin="round" opacity="0.95"/>
<line x1="139.0" y1="1660.6" x2="119.5" y2="1695.6" stroke="#6e6e6e" stroke-width="3" stroke-linecap="round"/>
<line x1="139.0" y1="1802.6" x2="119.5" y2="1837.6" stroke="#6e6e6e" stroke-width="3" stroke-linecap="round"/>
<line x1="119.5" y1="1695.6" x2="80.5" y2="1695.6" stroke="#6e6e6e" stroke-width="3" stroke-linecap="round"/>
<line x1="119.5" y1="1837.6" x2="80.5" y2="1837.6" stroke="#6e6e6e" stroke-width="3" stroke-linecap="round"/>
<line x1="80.5" y1="1695.6" x2="61.0" y2="1660.6" stroke="#6e6e6e" stroke-width="3" stroke-linecap="round"/>
<line x1="80.5" y1="1837.6" x2="61.0" y2="1802.6" stroke="#6e6e6e" stroke-width="3" stroke-linecap="round"/>
<line x1="61.0" y1="1660.6" x2="80.5" y2="1625.6" stroke="#6e6e6e" stroke-width="3" stroke-linecap="round"/>
<line x1="61.0" y1="1802.6" x2="80.5" y2="1767.6" stroke="#6e6e6e" stroke-width="3" stroke-linecap="round"/>
<line x1="80.5" y1="1625.6" x2="119.5" y2="1625.6" stroke="#6e6e6e" stroke-width="3" stroke-linecap="round"/>
<line x1="80.5" y1="1767.6" x2="119.5" y2="1767.6" stroke="#6e6e6e" stroke-width="3" stroke-linecap="round"/>
<line x1="119.5" y1="1625.6" x2="139.0" y2="1660.6" stroke="#6e6e6e" stroke-width="3" stroke-linecap="round"/>
<line x1="119.5" y1="1767.6" x2="139.0" y2="1802.6" stroke="#6e6e6e" stroke-width="3" stroke-linecap="round"/>
<line x1="88.3" y1="1632.6" x2="111.7" y2="1632.6" stroke="#6e6e6e" stroke-width="3" stroke-linecap="round"/>
<line x1="129.2" y1="1664.1" x2="117.5" y2="1685.1" stroke="#6e6e6e" stroke-width="3" stroke-linecap="round"/>
<line x1="82.5" y1="1685.1" x2="70.8" y2="1664.1" stroke="#6e6e6e" stroke-width="3" stroke-linecap="round"/>
<line x1="117.5" y1="1778.1" x2="129.2" y2="1799.1" stroke="#6e6e6e" stroke-width="3" stroke-linecap="round"/>
<line x1="111.7" y1="1830.6" x2="88.3" y2="1830.6" stroke="#6e6e6e" stroke-width="3" stroke-linecap="round"/>
<line x1="70.8" y1="1799.1" x2="82.5" y2="1778.1" stroke="#6e6e6e" stroke-width="3" stroke-linecap="round"/>
<line x1="80.5" y1="1695.6" x2="69.8" y2="1715.1" stroke="#6e6e6e" stroke-width="3" stroke-linecap="round"/>
<line x1="69.8" y1="1747.5" x2="80.5" y2="1767.6" stroke="#6e6e6e" stroke-width="3" stroke-linecap="round"/>
<line x1="119.5" y1="1695.6" x2="129.2" y2="1713.3" stroke="#6e6e6e" stroke-width="3" stroke-linecap="round"/>
<line x1="129.2" y1="1749.3" x2="119.5" y2="1767.6" stroke="#6e6e6e" stroke-width="3" stroke-linecap="round"/>
<line x1="76.8" y1="1748.8" x2="85.5" y2="1763.0" stroke="#6e6e6e" stroke-width="3" stroke-linecap="round"/>
<line x1="122.3" y1="1750.4" x2="114.5" y2="1763.0" stroke="#6e6e6e" stroke-width="3" stroke-linecap="round"/>
<line x1="119.5" y1="1625.6" x2="131.5" y2="1605.6" stroke="#6e6e6e" stroke-width="3" stroke-linecap="round"/>
<line x1="119.5" y1="1837.6" x2="129.5" y2="1856.6" stroke="#6e6e6e" stroke-width="3" stroke-linecap="round"/>
<line x1="127.0" y1="1571.5" x2="130.0" y2="1579.0" stroke="#111" stroke-width="4.5" />
<line x1="129.5" y1="1887.0" x2="127.0" y2="1895.7" stroke="#111" stroke-width="4.5" />
<text x="83.0" y="1565.4" font-size="24" text-anchor="start" fill="#231f20" font-weight="bold" >H<tspan dy="5.3" font-size="16.3">3</tspan><tspan dy="-5.3">C</tspan></text>
<text x="136.8" y="1601.0" font-size="24" text-anchor="start" fill="#231f20" font-weight="bold" >N-CH<tspan dy="5.3" font-size="16.3">3</tspan></text>
<text x="124.7" y="1874.0" font-size="24" text-anchor="start" fill="#231f20" font-weight="bold" >N-CH<tspan dy="5.3" font-size="16.3">3</tspan></text>
<text x="83.0" y="1917.2" font-size="24" text-anchor="start" fill="#231f20" font-weight="bold" >H<tspan dy="5.3" font-size="16.3">3</tspan><tspan dy="-5.3">C</tspan></text>
<text x="54.0" y="1741.7" font-size="24" text-anchor="start" fill="#231f20" font-weight="bold" >N</text>
<text x="129.0" y="1741.7" font-size="24" text-anchor="start" fill="#231f20" font-weight="bold" >S<tspan dy="-9.1" font-size="16.3">+</tspan></text>
<polygon points="545.2,1695.7 554.2,1706.9 568.0,1711.1 566.5,1725.4 573.3,1738.2 562.1,1747.2 557.9,1761.0 543.6,1759.5 530.8,1766.3 521.8,1755.1 508.0,1750.9 509.5,1736.6 502.7,1723.8 513.9,1714.8 518.1,1701.0 532.4,1702.5" fill="#f5b52e" stroke="none" stroke-width="0" transform="translate(538,1731) scale(1,0.85) translate(-538,-1731)"/>
<line x1="523.0" y1="1660.6" x2="503.5" y2="1695.6" stroke="#6e6e6e" stroke-width="3" stroke-linecap="round"/>
<line x1="523.0" y1="1802.6" x2="503.5" y2="1837.6" stroke="#6e6e6e" stroke-width="3" stroke-linecap="round"/>
<line x1="503.5" y1="1695.6" x2="464.5" y2="1695.6" stroke="#6e6e6e" stroke-width="3" stroke-linecap="round"/>
<line x1="503.5" y1="1837.6" x2="464.5" y2="1837.6" stroke="#6e6e6e" stroke-width="3" stroke-linecap="round"/>
<line x1="464.5" y1="1695.6" x2="445.0" y2="1660.6" stroke="#6e6e6e" stroke-width="3" stroke-linecap="round"/>
<line x1="464.5" y1="1837.6" x2="445.0" y2="1802.6" stroke="#6e6e6e" stroke-width="3" stroke-linecap="round"/>
<line x1="445.0" y1="1660.6" x2="464.5" y2="1625.6" stroke="#6e6e6e" stroke-width="3" stroke-linecap="round"/>
<line x1="445.0" y1="1802.6" x2="464.5" y2="1767.6" stroke="#6e6e6e" stroke-width="3" stroke-linecap="round"/>
<line x1="464.5" y1="1625.6" x2="503.5" y2="1625.6" stroke="#6e6e6e" stroke-width="3" stroke-linecap="round"/>
<line x1="464.5" y1="1767.6" x2="503.5" y2="1767.6" stroke="#6e6e6e" stroke-width="3" stroke-linecap="round"/>
<line x1="503.5" y1="1625.6" x2="523.0" y2="1660.6" stroke="#6e6e6e" stroke-width="3" stroke-linecap="round"/>
<line x1="503.5" y1="1767.6" x2="523.0" y2="1802.6" stroke="#6e6e6e" stroke-width="3" stroke-linecap="round"/>
<line x1="472.3" y1="1632.6" x2="495.7" y2="1632.6" stroke="#6e6e6e" stroke-width="3" stroke-linecap="round"/>
<line x1="513.2" y1="1664.1" x2="501.6" y2="1685.1" stroke="#6e6e6e" stroke-width="3" stroke-linecap="round"/>
<line x1="466.4" y1="1685.1" x2="454.8" y2="1664.1" stroke="#6e6e6e" stroke-width="3" stroke-linecap="round"/>
<line x1="501.6" y1="1778.1" x2="513.2" y2="1799.1" stroke="#6e6e6e" stroke-width="3" stroke-linecap="round"/>
<line x1="495.7" y1="1830.6" x2="472.3" y2="1830.6" stroke="#6e6e6e" stroke-width="3" stroke-linecap="round"/>
<line x1="454.8" y1="1799.1" x2="466.4" y2="1778.1" stroke="#6e6e6e" stroke-width="3" stroke-linecap="round"/>
<line x1="464.5" y1="1695.6" x2="453.8" y2="1715.1" stroke="#6e6e6e" stroke-width="3" stroke-linecap="round"/>
<line x1="453.8" y1="1747.5" x2="464.5" y2="1767.6" stroke="#6e6e6e" stroke-width="3" stroke-linecap="round"/>
<line x1="503.5" y1="1695.6" x2="513.2" y2="1713.3" stroke="#6e6e6e" stroke-width="3" stroke-linecap="round"/>
<line x1="513.2" y1="1749.3" x2="503.5" y2="1767.6" stroke="#6e6e6e" stroke-width="3" stroke-linecap="round"/>
<line x1="460.8" y1="1748.8" x2="469.5" y2="1763.0" stroke="#6e6e6e" stroke-width="3" stroke-linecap="round"/>
<line x1="506.3" y1="1750.4" x2="498.5" y2="1763.0" stroke="#6e6e6e" stroke-width="3" stroke-linecap="round"/>
<line x1="503.5" y1="1625.6" x2="515.5" y2="1605.6" stroke="#6e6e6e" stroke-width="3" stroke-linecap="round"/>
<line x1="503.5" y1="1837.6" x2="513.5" y2="1856.6" stroke="#6e6e6e" stroke-width="3" stroke-linecap="round"/>
<line x1="511.0" y1="1571.5" x2="514.0" y2="1579.0" stroke="#111" stroke-width="4.5" />
<line x1="513.5" y1="1887.0" x2="511.0" y2="1895.7" stroke="#111" stroke-width="4.5" />
<text x="467.0" y="1565.4" font-size="24" text-anchor="start" fill="#231f20" font-weight="bold" >H<tspan dy="5.3" font-size="16.3">3</tspan><tspan dy="-5.3">C</tspan></text>
<text x="514.8" y="1608.0" font-size="24" text-anchor="start" fill="#231f20" font-weight="bold" >N-CH<tspan dy="5.3" font-size="16.3">3</tspan></text>
<text x="514.8" y="1880.0" font-size="24" text-anchor="start" fill="#231f20" font-weight="bold" >N-CH<tspan dy="5.3" font-size="16.3">3</tspan></text>
<text x="467.0" y="1917.2" font-size="24" text-anchor="start" fill="#231f20" font-weight="bold" >H<tspan dy="5.3" font-size="16.3">3</tspan><tspan dy="-5.3">C</tspan></text>
<text x="438.0" y="1741.7" font-size="24" text-anchor="start" fill="#231f20" font-weight="bold" >N</text>
<text x="514.0" y="1741.7" font-size="24" text-anchor="start" fill="#231f20" font-weight="bold" >S=O</text>
<rect x="181.2" y="1726.5" width="29.0" height="9.0" fill="#4b5058" stroke="none" stroke-width="0" /><rect x="191.2" y="1716.5" width="9.0" height="29.0" fill="#4b5058" stroke="none" stroke-width="0" />
<polygon points="273.0,1680.5 281.0,1695.9 297.8,1679.5 295.4,1702.9 313.0,1699.1 305.4,1715.4 330.1,1718.0 309.0,1731.0 327.9,1743.5 305.4,1746.6 311.7,1761.8 295.4,1759.1 299.2,1785.3 281.0,1766.1 273.0,1786.3 265.0,1766.1 249.0,1780.9 250.6,1759.1 230.2,1765.2 240.6,1746.6 217.0,1743.8 237.0,1731.0 214.5,1717.6 240.6,1715.4 225.8,1693.4 250.6,1702.9 247.1,1677.3 265.0,1695.9" fill="#e8262b" stroke="none" stroke-width="0" />
<text x="243.0" y="1743.9" font-size="37" text-anchor="start" fill="#231f20" font-weight="bold" >·OH</text>
<polygon points="339.8,1723.0 395.7,1723.0 395.7,1713.8 412.9,1731.7 395.7,1750.3 395.7,1740.4 339.8,1740.4" fill="#4b5058" stroke="none" stroke-width="0" />
<text x="2.2" y="1507.0" font-size="36" text-anchor="start" fill="#231f20" font-weight="bold" >(e)</text>
<text x="10.8" y="1552.0" font-size="36" text-anchor="start" fill="#231f20" font-weight="bold" >(i)</text>
<rect x="1044.8" y="1527.4" width="57.4" height="378.2" fill="#b2c4df" stroke="none" stroke-width="0" />
<rect x="791.1" y="1527.4" width="499.3" height="378.2" fill="none" stroke="#2a2a2a" stroke-width="3" />
<line x1="782.0" y1="1905.6" x2="791.0" y2="1905.6" stroke="#231f20" stroke-width="3" />
<text x="780.0" y="1917.1" font-size="32.5" text-anchor="end" fill="#231f20" font-weight="bold" >0</text>
<line x1="782.0" y1="1809.3" x2="791.0" y2="1809.3" stroke="#231f20" stroke-width="3" />
<text x="780.0" y="1820.8" font-size="32.5" text-anchor="end" fill="#231f20" font-weight="bold" >0.3</text>
<line x1="782.0" y1="1713.0" x2="791.0" y2="1713.0" stroke="#231f20" stroke-width="3" />
<text x="780.0" y="1724.5" font-size="32.5" text-anchor="end" fill="#231f20" font-weight="bold" >0.6</text>
<line x1="782.0" y1="1616.7" x2="791.0" y2="1616.7" stroke="#231f20" stroke-width="3" />
<text x="780.0" y="1628.2" font-size="32.5" text-anchor="end" fill="#231f20" font-weight="bold" >0.9</text>
<line x1="786.0" y1="1857.4" x2="791.0" y2="1857.4" stroke="#231f20" stroke-width="2.5" />
<line x1="786.0" y1="1761.1" x2="791.0" y2="1761.1" stroke="#231f20" stroke-width="2.5" />
<line x1="786.0" y1="1664.8" x2="791.0" y2="1664.8" stroke="#231f20" stroke-width="2.5" />
<line x1="786.0" y1="1568.5" x2="791.0" y2="1568.5" stroke="#231f20" stroke-width="2.5" />
<line x1="791.1" y1="1905.6" x2="791.1" y2="1914.0" stroke="#231f20" stroke-width="3" />
<text x="791.1" y="1947.5" font-size="33" text-anchor="middle" fill="#231f20" font-weight="bold" >550</text>
<line x1="1040.8" y1="1905.6" x2="1040.8" y2="1914.0" stroke="#231f20" stroke-width="3" />
<text x="1040.8" y="1947.5" font-size="33" text-anchor="middle" fill="#231f20" font-weight="bold" >650</text>
<line x1="1290.4" y1="1905.6" x2="1290.4" y2="1914.0" stroke="#231f20" stroke-width="3" />
<text x="1290.4" y="1947.5" font-size="33" text-anchor="middle" fill="#231f20" font-weight="bold" >750</text>
<line x1="853.5" y1="1905.6" x2="853.5" y2="1911.0" stroke="#231f20" stroke-width="2.5" />
<line x1="915.9" y1="1905.6" x2="915.9" y2="1911.0" stroke="#231f20" stroke-width="2.5" />
<line x1="978.3" y1="1905.6" x2="978.3" y2="1911.0" stroke="#231f20" stroke-width="2.5" />
<line x1="1103.2" y1="1905.6" x2="1103.2" y2="1911.0" stroke="#231f20" stroke-width="2.5" />
<line x1="1165.6" y1="1905.6" x2="1165.6" y2="1911.0" stroke="#231f20" stroke-width="2.5" />
<line x1="1228.0" y1="1905.6" x2="1228.0" y2="1911.0" stroke="#231f20" stroke-width="2.5" />
<polyline points="791.1,1854.6 791.7,1854.2 792.5,1853.9 793.4,1853.5 794.3,1853.0 795.4,1852.5 796.5,1852.0 797.7,1851.5 798.9,1850.9 800.2,1850.3 801.5,1849.6 802.9,1849.0 804.2,1848.3 805.6,1847.6 807.0,1846.9 808.4,1846.1 809.7,1845.4 811.1,1844.6 812.4,1843.8 813.8,1843.0 815.2,1842.1 816.7,1841.3 818.2,1840.3 819.7,1839.4 821.3,1838.4 822.8,1837.5 824.3,1836.5 825.9,1835.5 827.4,1834.5 828.9,1833.5 830.4,1832.5 831.8,1831.5 833.2,1830.5 834.5,1829.5 835.8,1828.6 837.0,1827.6 838.2,1826.7 839.3,1825.8 840.4,1824.9 841.5,1824.0 842.5,1823.2 843.5,1822.3 844.5,1821.4 845.5,1820.5 846.5,1819.6 847.4,1818.7 848.4,1817.7 849.4,1816.8 850.4,1815.7 851.4,1814.7 852.4,1813.6 853.5,1812.5 854.6,1811.3 855.7,1810.2 856.9,1808.9 858.1,1807.7 859.2,1806.4 860.4,1805.1 861.6,1803.7 862.8,1802.4 864.0,1801.0 865.2,1799.6 866.3,1798.2 867.5,1796.8 868.6,1795.4 869.7,1794.0 870.7,1792.6 871.8,1791.1 872.7,1789.7 873.7,1788.3 874.5,1786.9 875.4,1785.6 876.2,1784.2 877.0,1782.8 877.7,1781.5 878.4,1780.1 879.2,1778.7 879.9,1777.2 880.6,1775.8 881.3,1774.3 882.0,1772.8 882.8,1771.2 883.5,1769.6 884.3,1767.9 885.1,1766.2 886.0,1764.4 886.9,1762.4 887.8,1760.4 888.7,1758.3 889.7,1756.0 890.7,1753.7 891.7,1751.4 892.7,1749.0 893.7,1746.6 894.7,1744.2 895.7,1741.8 896.7,1739.4 897.7,1737.1 898.7,1734.9 899.7,1732.7 900.6,1730.6 901.5,1728.6 902.4,1726.8 903.3,1725.1 904.2,1723.4 905.0,1721.9 905.8,1720.4 906.7,1718.9 907.5,1717.5 908.3,1716.2 909.0,1714.9 909.8,1713.7 910.6,1712.4 911.4,1711.3 912.1,1710.1 912.9,1708.9 913.6,1707.8 914.4,1706.6 915.2,1705.5 915.9,1704.3 916.7,1703.2 917.4,1702.1 918.1,1701.0 918.8,1699.9 919.5,1698.9 920.2,1697.8 920.9,1696.8 921.6,1695.8 922.3,1694.8 923.0,1693.9 923.7,1692.9 924.4,1692.0 925.2,1691.0 925.9,1690.1 926.7,1689.2 927.6,1688.2 928.4,1687.3 929.3,1686.4 930.2,1685.4 931.1,1684.3 932.0,1683.3 933.0,1682.2 933.9,1681.2 934.9,1680.1 935.9,1679.1 936.9,1678.1 937.9,1677.2 939.0,1676.3 940.0,1675.5 941.1,1674.8 942.1,1674.1 943.2,1673.6 944.3,1673.2 945.4,1672.9 946.5,1672.7 947.6,1672.6 948.7,1672.7 949.9,1672.8 951.0,1673.1 952.2,1673.4 953.3,1673.7 954.5,1674.2 955.7,1674.7 956.9,1675.2 958.2,1675.8 959.4,1676.3 960.7,1676.9 961.9,1677.5 963.2,1678.1 964.5,1678.7 965.9,1679.3 967.2,1679.9 968.6,1680.7 970.0,1681.5 971.4,1682.5 972.9,1683.4 974.3,1684.5 975.8,1685.5 977.3,1686.6 978.8,1687.6 980.3,1688.5 981.8,1689.4 983.3,1690.1 984.9,1690.7 986.4,1691.2 987.9,1691.5 989.3,1691.6 990.8,1691.5 992.3,1691.2 993.8,1690.7 995.2,1690.1 996.7,1689.3 998.2,1688.4 999.6,1687.4 1001.1,1686.3 1002.6,1685.1 1004.0,1683.8 1005.5,1682.4 1007.0,1681.0 1008.4,1679.5 1009.9,1677.9 1011.4,1676.3 1012.8,1674.6 1014.3,1673.0 1015.8,1671.3 1017.3,1669.5 1018.8,1667.6 1020.3,1665.6 1021.8,1663.5 1023.3,1661.3 1024.8,1659.0 1026.3,1656.6 1027.8,1654.3 1029.3,1651.9 1030.8,1649.5 1032.3,1647.1 1033.8,1644.8 1035.2,1642.4 1036.6,1640.2 1038.0,1638.0 1039.4,1636.0 1040.8,1634.0 1042.1,1632.2 1043.3,1630.3 1044.6,1628.5 1045.8,1626.7 1047.0,1624.9 1048.2,1623.2 1049.4,1621.4 1050.6,1619.8 1051.7,1618.2 1052.9,1616.6 1054.0,1615.1 1055.1,1613.6 1056.2,1612.2 1057.4,1610.8 1058.5,1609.5 1059.6,1608.2 1060.7,1607.1 1061.9,1605.9 1063.0,1604.9 1064.1,1603.8 1065.3,1602.8 1066.4,1601.8 1067.5,1600.9 1068.7,1600.1 1069.8,1599.3 1070.9,1598.5 1072.0,1597.9 1073.1,1597.3 1074.1,1596.7 1075.1,1596.3 1076.1,1595.9 1077.1,1595.6 1078.0,1595.3 1078.9,1595.2 1079.8,1595.2 1080.6,1595.2 1081.4,1595.4 1082.2,1595.7 1083.0,1596.0 1083.7,1596.5 1084.4,1597.0 1085.1,1597.5 1085.7,1598.1 1086.4,1598.8 1087.0,1599.5 1087.6,1600.2 1088.3,1600.9 1088.9,1601.7 1089.5,1602.4 1090.1,1603.1 1090.7,1603.9 1091.3,1604.6 1091.9,1605.5 1092.5,1606.4 1093.1,1607.3 1093.7,1608.4 1094.3,1609.4 1094.9,1610.5 1095.5,1611.6 1096.1,1612.6 1096.6,1613.7 1097.1,1614.7 1097.6,1615.7 1098.0,1616.6 1098.4,1617.4 1098.8,1618.1 1099.1,1618.8 1099.4,1619.3" fill="none" stroke="#e8303a" stroke-width="3.5" stroke-linejoin="round" stroke-linecap="round" />
<polyline points="1099.4,1619.3 1099.6,1619.7 1099.9,1620.3 1100.1,1620.8 1100.4,1621.4 1100.7,1622.0 1101.1,1622.7 1101.4,1623.4 1101.8,1624.2 1102.2,1625.0 1102.6,1625.9 1103.0,1626.8 1103.5,1627.8 1103.9,1628.8 1104.3,1629.9 1104.8,1631.1 1105.2,1632.3 1105.6,1633.6 1106.1,1635.0 1106.5,1636.4 1106.9,1637.9 1107.3,1639.5 1107.7,1641.2 1108.1,1643.0 1108.6,1644.8 1109.0,1646.8 1109.4,1648.8 1109.8,1650.9 1110.3,1653.0 1110.7,1655.2 1111.1,1657.5 1111.6,1659.7 1112.0,1662.1 1112.4,1664.4 1112.9,1666.8 1113.3,1669.1 1113.8,1671.5 1114.3,1673.9 1114.7,1676.2 1115.2,1678.6 1115.6,1680.9 1116.1,1683.2 1116.6,1685.6 1117.1,1688.0 1117.6,1690.4 1118.1,1692.9 1118.5,1695.3 1119.0,1697.8 1119.5,1700.3 1120.1,1702.9 1120.6,1705.4 1121.1,1707.9 1121.6,1710.4 1122.1,1713.0 1122.6,1715.5 1123.1,1718.0 1123.6,1720.5 1124.1,1723.0 1124.6,1725.5 1125.1,1727.9 1125.6,1730.3 1126.1,1732.7 1126.6,1735.2 1127.1,1737.6 1127.7,1740.0 1128.2,1742.4 1128.7,1744.8 1129.2,1747.3 1129.7,1749.7 1130.2,1752.1 1130.7,1754.4 1131.2,1756.8 1131.7,1759.2 1132.2,1761.5 1132.7,1763.8 1133.2,1766.1 1133.7,1768.4 1134.2,1770.6 1134.7,1772.9 1135.2,1775.0 1135.6,1777.2 1136.1,1779.3 1136.5,1781.4 1137.0,1783.6 1137.4,1785.6 1137.8,1787.7 1138.3,1789.8 1138.7,1791.8 1139.1,1793.8 1139.5,1795.8 1139.9,1797.8 1140.3,1799.7 1140.7,1801.6 1141.2,1803.5 1141.6,1805.4 1142.0,1807.2 1142.4,1809.0 1142.8,1810.7 1143.2,1812.4 1143.7,1814.1 1144.1,1815.7 1144.6,1817.3 1145.0,1818.9 1145.5,1820.5 1146.0,1822.1 1146.5,1823.6 1147.0,1825.2 1147.6,1826.7 1148.1,1828.1 1148.6,1829.6 1149.1,1831.0 1149.6,1832.3 1150.1,1833.6 1150.6,1834.8 1151.0,1836.0 1151.5,1837.1 1151.9,1838.1 1152.2,1839.1 1152.6,1839.9 1152.8,1840.7 1153.1,1841.4" fill="none" stroke="#e8303a" stroke-width="4" stroke-linejoin="round" stroke-linecap="round" stroke-dasharray="0.1 6.5"/>
<polyline points="1153.1,1841.4 1153.3,1841.7 1153.6,1842.1 1153.9,1842.5 1154.3,1842.9 1154.7,1843.4 1155.1,1843.9 1155.5,1844.4 1155.9,1845.0 1156.4,1845.6 1156.9,1846.2 1157.4,1846.8 1157.9,1847.5 1158.4,1848.1 1159.0,1848.8 1159.6,1849.5 1160.1,1850.1 1160.7,1850.8 1161.3,1851.4 1162.0,1852.0 1162.6,1852.6 1163.2,1853.2 1163.9,1853.9 1164.5,1854.5 1165.2,1855.2 1165.9,1855.8 1166.6,1856.5 1167.3,1857.2 1168.0,1857.8 1168.8,1858.5 1169.6,1859.2 1170.3,1859.8 1171.1,1860.5 1171.9,1861.2 1172.8,1861.8 1173.6,1862.5 1174.5,1863.1 1175.3,1863.7 1176.2,1864.3 1177.1,1864.9 1178.1,1865.5 1179.0,1866.0 1179.9,1866.6 1180.9,1867.1 1181.9,1867.6 1182.9,1868.1 1183.9,1868.6 1184.9,1869.1 1186.0,1869.6 1187.0,1870.0 1188.1,1870.5 1189.2,1871.0 1190.3,1871.4 1191.4,1871.9 1192.6,1872.3 1193.7,1872.7 1194.9,1873.1 1196.1,1873.6 1197.3,1874.0 1198.5,1874.4 1199.8,1874.8 1201.0,1875.2 1202.3,1875.6 1203.6,1876.0 1204.9,1876.3 1206.2,1876.7 1207.5,1877.1 1208.8,1877.4 1210.2,1877.8 1211.5,1878.1 1212.9,1878.5 1214.3,1878.8 1215.7,1879.1 1217.2,1879.5 1218.6,1879.8 1220.1,1880.1 1221.7,1880.4 1223.2,1880.7 1224.8,1881.0 1226.4,1881.2 1228.0,1881.5 1229.7,1881.8 1231.4,1882.1 1233.2,1882.3 1235.1,1882.6 1237.0,1882.8 1238.9,1883.0 1240.9,1883.3 1242.9,1883.5 1244.9,1883.7 1246.9,1883.9 1248.9,1884.1 1250.9,1884.3 1252.9,1884.5 1254.8,1884.7 1256.7,1884.9 1258.6,1885.0 1260.4,1885.2 1262.2,1885.4 1263.8,1885.5 1265.4,1885.7 1267.0,1885.9 1268.5,1886.0 1270.1,1886.2 1271.6,1886.3 1273.1,1886.4 1274.6,1886.6 1276.1,1886.7 1277.5,1886.8 1278.9,1887.0 1280.3,1887.1 1281.6,1887.2 1282.8,1887.3 1284.0,1887.4 1285.1,1887.5 1286.2,1887.6 1287.2,1887.7 1288.1,1887.7 1289.0,1887.8 1289.7,1887.9 1290.4,1887.9" fill="none" stroke="#e8303a" stroke-width="3.5" stroke-linejoin="round" stroke-linecap="round" />
<polyline points="791.1,1880.6 791.9,1880.4 792.8,1880.2 793.9,1880.1 795.0,1879.9 796.2,1879.7 797.5,1879.5 798.9,1879.2 800.3,1879.0 801.8,1878.7 803.4,1878.5 805.0,1878.2 806.7,1877.9 808.4,1877.6 810.1,1877.3 811.8,1877.0 813.6,1876.7 815.3,1876.3 817.0,1876.0 818.8,1875.7 820.5,1875.3 822.2,1875.0 823.8,1874.6 825.5,1874.2 827.0,1873.9 828.5,1873.5 830.0,1873.1 831.5,1872.8 833.0,1872.4 834.5,1872.0 836.0,1871.7 837.4,1871.3 838.9,1870.9 840.4,1870.6 841.9,1870.2 843.4,1869.8 844.8,1869.4 846.3,1869.0 847.8,1868.6 849.3,1868.1 850.7,1867.7 852.2,1867.2 853.7,1866.7 855.2,1866.2 856.6,1865.7 858.1,1865.1 859.6,1864.5 861.1,1863.9 862.5,1863.3 864.0,1862.6 865.5,1861.9 867.0,1861.2 868.5,1860.4 870.0,1859.6 871.6,1858.7 873.1,1857.7 874.7,1856.8 876.2,1855.8 877.8,1854.8 879.4,1853.7 880.9,1852.7 882.5,1851.6 884.0,1850.5 885.6,1849.4 887.1,1848.3 888.6,1847.3 890.1,1846.2 891.6,1845.2 893.1,1844.1 894.5,1843.1 895.9,1842.1 897.3,1841.2 898.6,1840.3 899.9,1839.4 901.2,1838.6 902.4,1837.9 903.6,1837.2 904.8,1836.5 905.9,1835.8 907.0,1835.2 908.0,1834.6 909.1,1834.0 910.1,1833.4 911.0,1832.9 912.0,1832.3 912.9,1831.8 913.8,1831.3 914.7,1830.8 915.6,1830.4 916.5,1829.9 917.3,1829.5 918.2,1829.0 919.0,1828.6 919.9,1828.2 920.7,1827.8 921.6,1827.4 922.4,1827.0 923.3,1826.6 924.1,1826.2 925.0,1825.8 925.9,1825.3 926.8,1824.9 927.7,1824.5 928.6,1824.1 929.5,1823.7 930.3,1823.4 931.2,1823.0 932.1,1822.6 933.0,1822.2 933.8,1821.9 934.7,1821.5 935.5,1821.2 936.4,1820.8 937.2,1820.5 938.1,1820.2 938.9,1819.9 939.8,1819.6 940.6,1819.3 941.4,1819.0 942.3,1818.7 943.1,1818.4 943.9,1818.2 944.7,1818.0 945.5,1817.7 946.3,1817.5 947.1,1817.3 947.9,1817.1 948.7,1817.0 949.5,1816.8 950.2,1816.7 951.0,1816.6 951.7,1816.5 952.5,1816.4 953.2,1816.3 953.9,1816.2 954.6,1816.1 955.4,1816.1 956.1,1816.0 956.8,1816.0 957.5,1816.0 958.2,1815.9 959.0,1815.9 959.7,1815.9 960.4,1815.9 961.2,1815.9 961.9,1815.8 962.7,1815.8 963.5,1815.8 964.2,1815.8 965.0,1815.7 965.9,1815.7 966.7,1815.7 967.5,1815.7 968.4,1815.7 969.2,1815.8 970.1,1815.8 971.0,1815.9 971.9,1816.0 972.8,1816.0 973.7,1816.1 974.6,1816.2 975.5,1816.3 976.4,1816.4 977.3,1816.5 978.2,1816.5 979.2,1816.6 980.1,1816.6 981.0,1816.6 981.9,1816.6 982.8,1816.6 983.7,1816.5 984.6,1816.4 985.5,1816.3 986.4,1816.1 987.2,1816.0 988.1,1815.7 988.9,1815.4 989.7,1815.2 990.6,1814.8 991.4,1814.5 992.2,1814.1 993.0,1813.7 993.8,1813.3 994.6,1812.8 995.3,1812.4 996.1,1811.9 996.9,1811.4 997.7,1810.9 998.4,1810.3 999.2,1809.8 1000.0,1809.2 1000.8,1808.6 1001.6,1808.0 1002.4,1807.4 1003.2,1806.8 1004.0,1806.1 1004.9,1805.5 1005.7,1804.9 1006.5,1804.2 1007.4,1803.5 1008.3,1802.9 1009.2,1802.2 1010.1,1801.5 1011.0,1800.8 1012.0,1800.0 1012.9,1799.2 1013.9,1798.4 1014.8,1797.6 1015.8,1796.8 1016.8,1795.9 1017.7,1795.1 1018.7,1794.2 1019.7,1793.4 1020.7,1792.5 1021.7,1791.6 1022.7,1790.7 1023.7,1789.9 1024.7,1789.0 1025.7,1788.1 1026.7,1787.3 1027.7,1786.4 1028.7,1785.6 1029.6,1784.7 1030.6,1783.9 1031.6,1783.1 1032.5,1782.3 1033.5,1781.6 1034.4,1780.8 1035.4,1780.0 1036.3,1779.2 1037.2,1778.4 1038.2,1777.7 1039.1,1776.9 1040.1,1776.1 1041.0,1775.3 1042.0,1774.6 1042.9,1773.8 1043.8,1773.1 1044.8,1772.3 1045.7,1771.6 1046.6,1770.8 1047.5,1770.1 1048.5,1769.4 1049.4,1768.7 1050.3,1768.1 1051.2,1767.4 1052.1,1766.8 1053.0,1766.1 1053.9,1765.5 1054.8,1764.9 1055.7,1764.4 1056.6,1763.8 1057.5,1763.3 1058.5,1762.7 1059.4,1762.2 1060.3,1761.6 1061.2,1761.1 1062.2,1760.6 1063.1,1760.1 1064.0,1759.6 1064.9,1759.2 1065.9,1758.7 1066.8,1758.3 1067.7,1757.8 1068.6,1757.4 1069.4,1757.0 1070.3,1756.7 1071.2,1756.3 1072.0,1756.0 1072.8,1755.7 1073.6,1755.4 1074.4,1755.2 1075.1,1754.9 1075.8,1754.7 1076.5,1754.6 1077.2,1754.4 1077.8,1754.3 1078.5,1754.2 1079.1,1754.2 1079.7,1754.3 1080.2,1754.3 1080.8,1754.4 1081.3,1754.5 1081.9,1754.7 1082.4,1754.8 1082.9,1755.0 1083.4,1755.2 1083.8,1755.4 1084.3,1755.7 1084.7,1755.9 1085.1,1756.1 1085.5,1756.4 1085.8,1756.6 1086.2,1756.8 1086.5,1757.0 1086.9,1757.2 1087.2,1757.4 1087.4,1757.6 1087.7,1757.7 1088.0,1757.9 1088.2,1757.9" fill="none" stroke="#33a066" stroke-width="3.5" stroke-linejoin="round" stroke-linecap="round" />
<polyline points="1088.2,1757.9 1088.6,1758.4 1089.0,1758.8 1089.5,1759.3 1090.1,1759.9 1090.7,1760.5 1091.3,1761.1 1092.0,1761.8 1092.7,1762.6 1093.5,1763.3 1094.2,1764.2 1095.0,1765.0 1095.8,1765.9 1096.5,1766.9 1097.3,1767.9 1098.0,1768.9 1098.7,1770.0 1099.4,1771.1 1100.1,1772.3 1100.7,1773.5 1101.4,1774.8 1102.0,1776.1 1102.6,1777.5 1103.2,1779.0 1103.9,1780.4 1104.5,1781.9 1105.1,1783.5 1105.8,1785.1 1106.4,1786.7 1107.1,1788.3 1107.8,1789.9 1108.4,1791.5 1109.2,1793.2 1109.9,1794.8 1110.7,1796.5 1111.4,1798.1 1112.2,1799.8 1113.1,1801.5 1113.9,1803.3 1114.8,1805.1 1115.7,1806.9 1116.6,1808.7 1117.5,1810.5 1118.4,1812.3 1119.3,1814.2 1120.2,1816.0 1121.1,1817.8 1122.0,1819.6 1122.9,1821.4 1123.8,1823.2 1124.7,1824.9 1125.6,1826.6 1126.5,1828.3 1127.4,1830.1 1128.3,1831.8 1129.2,1833.6 1130.1,1835.3 1130.9,1837.1 1131.8,1838.8 1132.7,1840.5 1133.6,1842.2 1134.5,1843.9 1135.4,1845.5 1136.2,1847.1 1137.1,1848.7 1138.0,1850.2 1138.9,1851.6 1139.7,1852.9 1140.6,1854.2 1141.5,1855.5 1142.3,1856.6 1143.2,1857.7 1144.0,1858.7 1144.8,1859.7 1145.6,1860.7 1146.4,1861.6 1147.3,1862.4 1148.1,1863.3 1148.9,1864.1 1149.7,1864.8 1150.6,1865.6 1151.5,1866.4 1152.3,1867.1 1153.2,1867.8 1154.1,1868.6 1155.1,1869.3 1156.0,1870.1 1157.0,1870.8 1157.9,1871.5 1158.9,1872.2 1159.9,1872.9 1160.8,1873.6 1161.8,1874.2 1162.8,1874.9 1163.8,1875.5 1164.9,1876.1 1165.9,1876.7 1167.0,1877.3 1168.2,1877.8 1169.3,1878.4 1170.5,1878.9 1171.8,1879.4 1173.1,1879.9 1174.4,1880.4 1175.7,1880.9 1177.1,1881.3 1178.5,1881.7 1179.9,1882.1 1181.3,1882.5 1182.7,1882.9 1184.2,1883.2 1185.8,1883.6 1187.3,1883.9 1189.0,1884.2 1190.6,1884.6 1192.3,1884.9 1194.1,1885.2 1195.9,1885.4 1197.8,1885.7 1199.8,1886.0 1201.8,1886.3 1203.9,1886.6 1206.0,1886.8 1208.2,1887.1 1210.4,1887.3 1212.7,1887.5 1215.1,1887.7 1217.5,1887.9 1219.9,1888.1 1222.4,1888.3 1224.9,1888.5 1227.4,1888.7 1230.0,1888.9 1232.6,1889.1 1235.2,1889.2 1237.8,1889.4 1240.5,1889.5 1243.2,1889.7 1246.2,1889.9 1249.4,1890.0 1252.6,1890.2 1256.0,1890.3 1259.4,1890.4 1262.9,1890.6 1266.3,1890.7 1269.7,1890.8 1272.9,1890.9 1276.1,1891.0 1279.1,1891.1 1281.9,1891.2 1284.5,1891.3 1286.8,1891.3 1288.7,1891.4 1290.4,1891.5" fill="none" stroke="#33a066" stroke-width="3.5" stroke-linejoin="round" stroke-linecap="round" />
<circle cx="803.3" cy="1547.0" r="7.5" fill="#e8303a" stroke="none" stroke-width="0" />
<text x="824.4" y="1560.0" font-size="34" text-anchor="start" fill="#231f20" font-weight="bold" >MB+H<tspan dy="7.5" font-size="23.1">2</tspan><tspan dy="-7.5">O</tspan><tspan dy="7.5" font-size="23.1">2</tspan></text>
<circle cx="803.3" cy="1587.8" r="7.5" fill="#33a066" stroke="none" stroke-width="0" />
<text x="824.4" y="1600.0" font-size="34" text-anchor="start" fill="#231f20" font-weight="bold" >MB+H<tspan dy="7.5" font-size="23.1">2</tspan><tspan dy="-7.5">O</tspan><tspan dy="7.5" font-size="23.1">2</tspan><tspan dy="-7.5">+PCLGA/OV-FeTiO</tspan><tspan dy="7.5" font-size="23.1">2</tspan></text>
<text x="0" y="0" font-size="33" text-anchor="middle" fill="#231f20" font-weight="bold" transform="translate(726.9,1743.0) rotate(-90)" textLength="260" lengthAdjust="spacingAndGlyphs">Absorbance/a.u.</text>
<text x="1042.5" y="1987.0" font-size="33" text-anchor="middle" fill="#231f20" font-weight="bold" >Wavelength/nm</text>
<text x="689.0" y="1552.0" font-size="36" text-anchor="start" fill="#231f20" font-weight="bold" >(ii)</text>
<rect x="1636.7" y="1526.7" width="51.3" height="375.9" fill="#b2c4df" stroke="none" stroke-width="0" />
<rect x="1404.0" y="1526.7" width="457.5" height="375.9" fill="none" stroke="#2a2a2a" stroke-width="3" />
<line x1="1395.0" y1="1902.6" x2="1404.0" y2="1902.6" stroke="#231f20" stroke-width="3" />
<text x="1393.0" y="1914.1" font-size="32.5" text-anchor="end" fill="#231f20" font-weight="bold" >0</text>
<line x1="1395.0" y1="1807.0" x2="1404.0" y2="1807.0" stroke="#231f20" stroke-width="3" />
<text x="1393.0" y="1818.5" font-size="32.5" text-anchor="end" fill="#231f20" font-weight="bold" >0.3</text>
<line x1="1395.0" y1="1711.4" x2="1404.0" y2="1711.4" stroke="#231f20" stroke-width="3" />
<text x="1393.0" y="1722.9" font-size="32.5" text-anchor="end" fill="#231f20" font-weight="bold" >0.6</text>
<line x1="1395.0" y1="1615.8" x2="1404.0" y2="1615.8" stroke="#231f20" stroke-width="3" />
<text x="1393.0" y="1627.3" font-size="32.5" text-anchor="end" fill="#231f20" font-weight="bold" >0.9</text>
<line x1="1399.0" y1="1854.8" x2="1404.0" y2="1854.8" stroke="#231f20" stroke-width="2.5" />
<line x1="1399.0" y1="1759.2" x2="1404.0" y2="1759.2" stroke="#231f20" stroke-width="2.5" />
<line x1="1399.0" y1="1663.6" x2="1404.0" y2="1663.6" stroke="#231f20" stroke-width="2.5" />
<line x1="1399.0" y1="1568.0" x2="1404.0" y2="1568.0" stroke="#231f20" stroke-width="2.5" />
<line x1="1404.0" y1="1902.6" x2="1404.0" y2="1911.0" stroke="#231f20" stroke-width="3" />
<text x="1404.0" y="1947.5" font-size="33" text-anchor="middle" fill="#231f20" font-weight="bold" >550</text>
<line x1="1632.8" y1="1902.6" x2="1632.8" y2="1911.0" stroke="#231f20" stroke-width="3" />
<text x="1632.8" y="1947.5" font-size="33" text-anchor="middle" fill="#231f20" font-weight="bold" >650</text>
<line x1="1861.5" y1="1902.6" x2="1861.5" y2="1911.0" stroke="#231f20" stroke-width="3" />
<text x="1861.5" y="1947.5" font-size="33" text-anchor="middle" fill="#231f20" font-weight="bold" >750</text>
<line x1="1461.2" y1="1902.6" x2="1461.2" y2="1908.0" stroke="#231f20" stroke-width="2.5" />
<line x1="1518.4" y1="1902.6" x2="1518.4" y2="1908.0" stroke="#231f20" stroke-width="2.5" />
<line x1="1575.6" y1="1902.6" x2="1575.6" y2="1908.0" stroke="#231f20" stroke-width="2.5" />
<line x1="1689.9" y1="1902.6" x2="1689.9" y2="1908.0" stroke="#231f20" stroke-width="2.5" />
<line x1="1747.1" y1="1902.6" x2="1747.1" y2="1908.0" stroke="#231f20" stroke-width="2.5" />
<line x1="1804.3" y1="1902.6" x2="1804.3" y2="1908.0" stroke="#231f20" stroke-width="2.5" />
<polyline points="1404.0,1852.6 1404.7,1852.1 1405.6,1851.6 1406.7,1851.0 1407.8,1850.3 1409.1,1849.6 1410.4,1848.8 1411.8,1848.0 1413.3,1847.2 1414.8,1846.3 1416.3,1845.4 1417.9,1844.4 1419.4,1843.5 1421.0,1842.5 1422.5,1841.6 1424.0,1840.7 1425.5,1839.8 1426.9,1838.9 1428.2,1838.0 1429.6,1837.2 1430.9,1836.3 1432.3,1835.5 1433.6,1834.6 1434.9,1833.8 1436.3,1832.9 1437.6,1832.1 1439.0,1831.2 1440.3,1830.3 1441.7,1829.4 1443.0,1828.4 1444.4,1827.4 1445.7,1826.3 1447.1,1825.3 1448.4,1824.1 1449.8,1822.9 1451.1,1821.7 1452.4,1820.4 1453.8,1819.2 1455.1,1817.9 1456.5,1816.5 1457.8,1815.2 1459.2,1813.8 1460.5,1812.3 1461.9,1810.8 1463.2,1809.3 1464.6,1807.8 1465.9,1806.2 1467.2,1804.5 1468.6,1802.8 1469.9,1801.1 1471.3,1799.3 1472.6,1797.4 1474.0,1795.5 1475.3,1793.6 1476.7,1791.6 1478.0,1789.5 1479.4,1787.4 1480.7,1785.3 1482.0,1783.1 1483.4,1780.8 1484.7,1778.6 1486.1,1776.3 1487.4,1773.9 1488.8,1771.5 1490.1,1769.1 1491.5,1766.7 1492.8,1764.2 1494.2,1761.7 1495.5,1759.2 1496.9,1756.6 1498.2,1753.9 1499.6,1751.1 1501.0,1748.2 1502.4,1745.3 1503.8,1742.3 1505.1,1739.2 1506.5,1736.2 1507.9,1733.2 1509.3,1730.2 1510.6,1727.2 1512.0,1724.3 1513.3,1721.5 1514.6,1718.8 1515.9,1716.2 1517.1,1713.7 1518.4,1711.4 1519.6,1709.2 1520.8,1707.0 1521.9,1704.9 1523.0,1702.9 1524.2,1700.9 1525.3,1699.0 1526.4,1697.2 1527.4,1695.4 1528.5,1693.7 1529.5,1692.1 1530.6,1690.5 1531.6,1689.1 1532.6,1687.6 1533.6,1686.3 1534.7,1685.0 1535.7,1683.8 1536.7,1682.7 1537.7,1681.7 1538.7,1680.8 1539.7,1679.9 1540.6,1679.2 1541.6,1678.5 1542.6,1677.9 1543.5,1677.4 1544.5,1677.0 1545.4,1676.6 1546.4,1676.2 1547.3,1675.9 1548.2,1675.6 1549.1,1675.4 1550.0,1675.2 1550.9,1675.1 1551.8,1674.9 1552.7,1674.8 1553.6,1674.6 1554.4,1674.6 1555.2,1674.6 1556.1,1674.7 1556.9,1674.8 1557.7,1675.0 1558.5,1675.2 1559.3,1675.5 1560.1,1675.7 1560.9,1676.0 1561.7,1676.3 1562.4,1676.6 1563.2,1676.9 1564.0,1677.2 1564.8,1677.5 1565.6,1677.7 1566.4,1677.9 1567.2,1678.2 1568.0,1678.5 1568.8,1678.8 1569.5,1679.2 1570.3,1679.6 1571.1,1680.0 1571.8,1680.4 1572.6,1680.8 1573.4,1681.1 1574.2,1681.5 1575.0,1681.8 1575.8,1682.0 1576.6,1682.2 1577.4,1682.3 1578.3,1682.3 1579.2,1682.3 1580.1,1682.1 1581.1,1681.8 1582.1,1681.5 1583.0,1681.2 1584.0,1680.8 1585.0,1680.3 1586.1,1679.8 1587.1,1679.2 1588.2,1678.6 1589.3,1677.9 1590.3,1677.2 1591.5,1676.4 1592.6,1675.5 1593.7,1674.5 1594.9,1673.5 1596.0,1672.4 1597.2,1671.2 1598.4,1670.0 1599.7,1668.6 1600.9,1667.1 1602.2,1665.6 1603.5,1663.9 1604.8,1662.1 1606.2,1660.3 1607.5,1658.4 1608.9,1656.5 1610.3,1654.5 1611.7,1652.4 1613.1,1650.4 1614.4,1648.3 1615.8,1646.2 1617.2,1644.2 1618.6,1642.1 1620.0,1640.1 1621.3,1638.1 1622.7,1636.1 1624.0,1634.1 1625.3,1632.0 1626.7,1629.9 1628.0,1627.8 1629.4,1625.7 1630.7,1623.5 1632.1,1621.4 1633.4,1619.3 1634.8,1617.1 1636.1,1615.0 1637.5,1612.9 1638.8,1610.9 1640.2,1608.8 1641.5,1606.9 1642.8,1604.9 1644.2,1603.1 1645.5,1601.2 1646.9,1599.2 1648.3,1597.3 1649.8,1595.3 1651.2,1593.3 1652.6,1591.3 1654.1,1589.3 1655.5,1587.4 1656.9,1585.6 1658.3,1583.8 1659.7,1582.1 1661.0,1580.6 1662.3,1579.2 1663.6,1578.0 1664.8,1576.9 1666.0,1576.0 1667.1,1575.3 1668.1,1574.9 1669.1,1574.5 1670.1,1574.4 1671.0,1574.4 1671.8,1574.5 1672.7,1574.7 1673.5,1575.1" fill="none" stroke="#3a3a3a" stroke-width="3.5" stroke-linejoin="round" stroke-linecap="round" />
<polyline points="1674.3,1575.6 1675.0,1576.2 1675.8,1576.9 1676.5,1577.7 1677.2,1578.6 1677.9,1579.5 1678.6,1580.6 1679.3,1581.6 1680.1,1582.8 1680.8,1583.9 1681.5,1585.1 1682.2,1586.4 1682.9,1587.7 1683.6,1589.0 1684.2,1590.4 1684.9,1591.9 1685.5,1593.5 1686.2,1595.2 1686.8,1596.9 1687.5,1598.8 1688.1,1600.8 1688.8,1602.9 1689.4,1605.2 1690.1,1607.6 1690.8,1610.2 1691.5,1612.9 1692.2,1615.8 1693.0,1618.9 1693.7,1622.3 1694.5,1625.8 1695.3,1629.6 1696.1,1633.5 1696.9,1637.6 1697.7,1641.8 1698.5,1646.1 1699.4,1650.5 1700.2,1654.9 1701.0,1659.4 1701.8,1663.9 1702.7,1668.4 1703.5,1672.9 1704.3,1677.3 1705.1,1681.6 1706.0,1685.9 1706.8,1690.2 1707.6,1694.5 1708.4,1698.9 1709.2,1703.3 1710.0,1707.7 1710.8,1712.2 1711.6,1716.7 1712.4,1721.1 1713.2,1725.6 1714.0,1730.0 1714.8,1734.4 1715.6,1738.7 1716.4,1743.0 1717.3,1747.2 1718.1,1751.3 1718.9,1755.3 1719.7,1759.2 1720.5,1763.0 1721.3,1766.8 1722.1,1770.6 1722.9,1774.3 1723.7,1778.0 1724.5,1781.6 1725.3,1785.1 1726.1,1788.6 1726.9,1792.1 1727.7,1795.4 1728.6,1798.7 1729.4,1801.9 1730.2,1805.0 1731.0,1808.1 1731.8,1811.0 1732.6,1813.8 1733.4,1816.6 1734.2,1819.2 1735.0,1821.7 1735.8,1824.1 1736.5,1826.4 1737.3,1828.6 1738.1,1830.8 1738.8,1832.8 1739.6,1834.8 1740.4,1836.7 1741.1,1838.6 1741.9,1840.4 1742.8,1842.1 1743.6,1843.7 1744.4,1845.4 1745.3,1847.0 1746.2,1848.5 1747.1,1850.0 1748.1,1851.5 1749.0,1852.9 1750.0,1854.1 1750.9,1855.4" fill="none" stroke="#3a3a3a" stroke-width="4" stroke-linejoin="round" stroke-linecap="round" stroke-dasharray="0.1 6"/>
<polyline points="1751.9,1856.5 1752.9,1857.6 1753.9,1858.7 1754.9,1859.7 1755.9,1860.7 1757.0,1861.6 1758.1,1862.5 1759.2,1863.3 1760.4,1864.2 1761.6,1865.0 1762.8,1865.9 1764.1,1866.7 1765.4,1867.5 1766.8,1868.4 1768.2,1869.2 1769.6,1870.0 1771.1,1870.7 1772.6,1871.5 1774.2,1872.2 1775.7,1872.9 1777.3,1873.6 1779.0,1874.2 1780.6,1874.9 1782.3,1875.5 1784.0,1876.1 1785.8,1876.6 1787.5,1877.2 1789.3,1877.7 1791.1,1878.2 1792.9,1878.7 1794.7,1879.2 1796.6,1879.6 1798.5,1880.0 1800.5,1880.3 1802.5,1880.6 1804.5,1880.9 1806.5,1881.2 1808.6,1881.5 1810.6,1881.8 1812.7,1882.0 1814.8,1882.2 1816.9,1882.4 1819.0,1882.6 1821.0,1882.9 1823.1,1883.1 1825.2,1883.3 1827.2,1883.5 1829.3,1883.7 1831.4,1883.9 1833.7,1884.1 1836.0,1884.3 1838.3,1884.5 1840.7,1884.6 1843.0,1884.8 1845.3,1885.0 1847.6,1885.1 1849.8,1885.3 1851.9,1885.4 1853.9,1885.5 1855.8,1885.7 1857.5,1885.8 1859.0,1885.9 1860.4,1885.9 1861.5,1886.0" fill="none" stroke="#3a3a3a" stroke-width="3.5" stroke-linejoin="round" stroke-linecap="round" />
<polyline points="1404.0,1856.4 1404.7,1856.0 1405.6,1855.5 1406.7,1854.9 1407.8,1854.3 1409.1,1853.7 1410.4,1852.9 1411.8,1852.2 1413.3,1851.4 1414.8,1850.5 1416.3,1849.7 1417.9,1848.8 1419.4,1848.0 1421.0,1847.1 1422.5,1846.2 1424.0,1845.4 1425.5,1844.6 1426.9,1843.8 1428.2,1843.0 1429.6,1842.2 1430.9,1841.5 1432.3,1840.7 1433.6,1840.0 1434.9,1839.2 1436.3,1838.5 1437.6,1837.7 1439.0,1836.9 1440.3,1836.1 1441.7,1835.3 1443.0,1834.4 1444.4,1833.5 1445.7,1832.6 1447.1,1831.7 1448.4,1830.7 1449.8,1829.6 1451.1,1828.5 1452.4,1827.4 1453.8,1826.3 1455.1,1825.2 1456.5,1824.0 1457.8,1822.8 1459.2,1821.5 1460.5,1820.3 1461.9,1819.0 1463.2,1817.6 1464.6,1816.3 1465.9,1814.9 1467.2,1813.4 1468.6,1812.0 1469.9,1810.5 1471.3,1808.9 1472.6,1807.3 1474.0,1805.7 1475.3,1804.0 1476.7,1802.2 1478.0,1800.5 1479.4,1798.6 1480.7,1796.8 1482.0,1794.9 1483.4,1793.0 1484.7,1791.0 1486.1,1789.0 1487.4,1787.0 1488.8,1785.0 1490.1,1782.9 1491.5,1780.9 1492.8,1778.8 1494.2,1776.7 1495.5,1774.6 1496.9,1772.4 1498.2,1770.1 1499.6,1767.8 1501.0,1765.4 1502.4,1762.9 1503.8,1760.4 1505.1,1757.9 1506.5,1755.4 1507.9,1752.9 1509.3,1750.4 1510.6,1748.0 1512.0,1745.6 1513.3,1743.3 1514.6,1741.1 1515.9,1739.0 1517.1,1737.0 1518.4,1735.1 1519.6,1733.3 1520.8,1731.6 1521.9,1730.0 1523.0,1728.4 1524.2,1726.8 1525.3,1725.4 1526.4,1724.0 1527.4,1722.6 1528.5,1721.3 1529.5,1720.1 1530.6,1719.0 1531.6,1717.9 1532.6,1716.8 1533.6,1715.9 1534.7,1715.0 1535.7,1714.1 1536.7,1713.4 1537.7,1712.7 1538.7,1712.1 1539.7,1711.6 1540.6,1711.2 1541.6,1710.8 1542.6,1710.6 1543.5,1710.4 1544.5,1710.2 1545.4,1710.1 1546.4,1710.0 1547.3,1710.0 1548.2,1710.0 1549.1,1710.0 1550.0,1709.9 1550.9,1709.9 1551.8,1709.9 1552.7,1709.8 1553.6,1709.7 1554.4,1709.7 1555.2,1709.7 1556.1,1709.7 1556.9,1709.7 1557.7,1709.8 1558.5,1709.8 1559.3,1709.9 1560.1,1710.0 1560.9,1710.0 1561.7,1710.1 1562.4,1710.2 1563.2,1710.3 1564.0,1710.4 1564.8,1710.5 1565.6,1710.6 1566.4,1710.7 1567.2,1710.8 1568.0,1711.0 1568.8,1711.2 1569.5,1711.4 1570.3,1711.6 1571.1,1711.9 1571.8,1712.1 1572.6,1712.4 1573.4,1712.6 1574.2,1712.8 1575.0,1712.9 1575.8,1713.0 1576.6,1713.1 1577.4,1713.0 1578.3,1712.9 1579.2,1712.8 1580.1,1712.5 1581.1,1712.1 1582.1,1711.7 1583.0,1711.3 1584.0,1710.8 1585.0,1710.3 1586.1,1709.7 1587.1,1709.1 1588.2,1708.4 1589.3,1707.7 1590.3,1706.9 1591.5,1706.0 1592.6,1705.1 1593.7,1704.1 1594.9,1703.0 1596.0,1701.9 1597.2,1700.7 1598.4,1699.4 1599.7,1698.1 1600.9,1696.6 1602.2,1695.0 1603.5,1693.3 1604.8,1691.6 1606.2,1689.8 1607.5,1687.9 1608.9,1686.0 1610.3,1684.0 1611.7,1682.0 1613.1,1680.0 1614.4,1677.9 1615.8,1675.8 1617.2,1673.8 1618.6,1671.7 1620.0,1669.7 1621.3,1667.7 1622.7,1665.7 1624.0,1663.7 1625.3,1661.6 1626.7,1659.5 1628.0,1657.4 1629.4,1655.2 1630.7,1653.1 1632.1,1650.9 1633.4,1648.8 1634.8,1646.6 1636.1,1644.5 1637.5,1642.3 1638.8,1640.2 1640.2,1638.2 1641.5,1636.1 1642.8,1634.1 1644.2,1632.2 1645.5,1630.2 1646.9,1628.2 1648.3,1626.1 1649.8,1624.0 1651.2,1621.9 1652.6,1619.7 1654.1,1617.6 1655.5,1615.6 1656.9,1613.6 1658.3,1611.7 1659.7,1609.9 1661.0,1608.2 1662.3,1606.7 1663.6,1605.3 1664.8,1604.2 1666.0,1603.2 1667.1,1602.4 1668.1,1601.9 1669.1,1601.5 1670.1,1601.3 1671.0,1601.2 1671.8,1601.3 1672.7,1601.6 1673.5,1601.9" fill="none" stroke="#e0479c" stroke-width="3.5" stroke-linejoin="round" stroke-linecap="round" />
<polyline points="1674.3,1602.4 1675.0,1603.0 1675.8,1603.7 1676.5,1604.5 1677.2,1605.3 1677.9,1606.2 1678.6,1607.2 1679.3,1608.2 1680.1,1609.3 1680.8,1610.4 1681.5,1611.5 1682.2,1612.6 1682.9,1613.8 1683.6,1615.1 1684.2,1616.4 1684.9,1617.8 1685.5,1619.2 1686.2,1620.8 1686.8,1622.4 1687.5,1624.1 1688.1,1626.0 1688.8,1627.9 1689.4,1630.0 1690.1,1632.3 1690.8,1634.6 1691.5,1637.2 1692.2,1639.9 1693.0,1642.7 1693.7,1645.8 1694.5,1649.1 1695.3,1652.6 1696.1,1656.3 1696.9,1660.0 1697.7,1663.9 1698.5,1667.9 1699.4,1671.9 1700.2,1676.0 1701.0,1680.2 1701.8,1684.3 1702.7,1688.5 1703.5,1692.6 1704.3,1696.7 1705.1,1700.8 1706.0,1704.7 1706.8,1708.6 1707.6,1712.6 1708.4,1716.7 1709.2,1720.8 1710.0,1724.9 1710.8,1729.0 1711.6,1733.2 1712.4,1737.3 1713.2,1741.4 1714.0,1745.5 1714.8,1749.6 1715.6,1753.6 1716.4,1757.5 1717.3,1761.4 1718.1,1765.2 1718.9,1768.9 1719.7,1772.5 1720.5,1776.1 1721.3,1779.6 1722.1,1783.1 1722.9,1786.5 1723.7,1789.9 1724.5,1793.2 1725.3,1796.5 1726.1,1799.8 1726.9,1802.9 1727.7,1806.0 1728.6,1809.1 1729.4,1812.0 1730.2,1814.9 1731.0,1817.7 1731.8,1820.4 1732.6,1823.1 1733.4,1825.6 1734.2,1828.0 1735.0,1830.3 1735.8,1832.6 1736.5,1834.7 1737.3,1836.8 1738.1,1838.7 1738.8,1840.6 1739.6,1842.5 1740.4,1844.2 1741.1,1845.9 1741.9,1847.6 1742.8,1849.2 1743.6,1850.7 1744.4,1852.2 1745.3,1853.7 1746.2,1855.1 1747.1,1856.5 1748.1,1857.9 1749.0,1859.2 1750.0,1860.4 1750.9,1861.5" fill="none" stroke="#e0479c" stroke-width="4" stroke-linejoin="round" stroke-linecap="round" stroke-dasharray="0.1 6"/>
<polyline points="1751.9,1862.6 1752.9,1863.6 1753.9,1864.6 1754.9,1865.5 1755.9,1866.4 1757.0,1867.2 1758.1,1868.1 1759.2,1868.9 1760.4,1869.7 1761.6,1870.4 1762.8,1871.2 1764.1,1872.0 1765.4,1872.8 1766.8,1873.5 1768.2,1874.3 1769.6,1875.0 1771.1,1875.7 1772.6,1876.4 1774.2,1877.1 1775.7,1877.7 1777.3,1878.3 1779.0,1879.0 1780.6,1879.5 1782.3,1880.1 1784.0,1880.7 1785.8,1881.2 1787.5,1881.7 1789.3,1882.2 1791.1,1882.6 1792.9,1883.1 1794.7,1883.5 1796.6,1883.9 1798.5,1884.2 1800.5,1884.6 1802.5,1884.9 1804.5,1885.2 1806.5,1885.4 1808.6,1885.7 1810.6,1885.9 1812.7,1886.1 1814.8,1886.3 1816.9,1886.5 1819.0,1886.7 1821.0,1886.9 1823.1,1887.1 1825.2,1887.3 1827.2,1887.5 1829.3,1887.7 1831.4,1887.9 1833.7,1888.1 1836.0,1888.2 1838.3,1888.4 1840.7,1888.6 1843.0,1888.7 1845.3,1888.9 1847.6,1889.0 1849.8,1889.2 1851.9,1889.3 1853.9,1889.4 1855.8,1889.5 1857.5,1889.6 1859.0,1889.7 1860.4,1889.8 1861.5,1889.9" fill="none" stroke="#e0479c" stroke-width="3.5" stroke-linejoin="round" stroke-linecap="round" />
<polyline points="1404.0,1873.9 1404.7,1873.6 1405.6,1873.2 1406.7,1872.7 1407.8,1872.1 1409.1,1871.6 1410.4,1871.0 1411.8,1870.3 1413.3,1869.6 1414.8,1868.9 1416.3,1868.2 1417.9,1867.5 1419.4,1866.7 1421.0,1866.0 1422.5,1865.2 1424.0,1864.5 1425.5,1863.8 1426.9,1863.1 1428.2,1862.4 1429.6,1861.7 1430.9,1861.1 1432.3,1860.4 1433.6,1859.7 1434.9,1859.1 1436.3,1858.4 1437.6,1857.7 1439.0,1857.0 1440.3,1856.3 1441.7,1855.6 1443.0,1854.8 1444.4,1854.1 1445.7,1853.2 1447.1,1852.4 1448.4,1851.5 1449.8,1850.6 1451.1,1849.6 1452.4,1848.6 1453.8,1847.6 1455.1,1846.6 1456.5,1845.5 1457.8,1844.5 1459.2,1843.4 1460.5,1842.2 1461.9,1841.1 1463.2,1839.9 1464.6,1838.7 1465.9,1837.4 1467.2,1836.2 1468.6,1834.8 1469.9,1833.5 1471.3,1832.1 1472.6,1830.6 1474.0,1829.1 1475.3,1827.6 1476.7,1826.1 1478.0,1824.5 1479.4,1822.8 1480.7,1821.1 1482.0,1819.4 1483.4,1817.7 1484.7,1815.9 1486.1,1814.1 1487.4,1812.3 1488.8,1810.5 1490.1,1808.6 1491.5,1806.7 1492.8,1804.8 1494.2,1802.8 1495.5,1800.9 1496.9,1798.9 1498.2,1796.8 1499.6,1794.6 1501.0,1792.4 1502.4,1790.1 1503.8,1787.8 1505.1,1785.5 1506.5,1783.1 1507.9,1780.8 1509.3,1778.5 1510.6,1776.2 1512.0,1774.0 1513.3,1771.8 1514.6,1769.7 1515.9,1767.7 1517.1,1765.8 1518.4,1764.0 1519.6,1762.3 1520.8,1760.7 1521.9,1759.1 1523.0,1757.6 1524.2,1756.1 1525.3,1754.6 1526.4,1753.2 1527.4,1751.9 1528.5,1750.6 1529.5,1749.4 1530.6,1748.2 1531.6,1747.1 1532.6,1746.0 1533.6,1745.0 1534.7,1744.1 1535.7,1743.2 1536.7,1742.4 1537.7,1741.6 1538.7,1740.9 1539.7,1740.4 1540.6,1739.8 1541.6,1739.4 1542.6,1739.0 1543.5,1738.7 1544.5,1738.4 1545.4,1738.2 1546.4,1737.9 1547.3,1737.8 1548.2,1737.6 1549.1,1737.5 1550.0,1737.3 1550.9,1737.2 1551.8,1737.0 1552.7,1736.9 1553.6,1736.8 1554.4,1736.6 1555.2,1736.6 1556.1,1736.5 1556.9,1736.5 1557.7,1736.5 1558.5,1736.5 1559.3,1736.5 1560.1,1736.5 1560.9,1736.6 1561.7,1736.6 1562.4,1736.7 1563.2,1736.8 1564.0,1736.8 1564.8,1736.9 1565.6,1736.9 1566.4,1736.9 1567.2,1737.0 1568.0,1737.1 1568.8,1737.2 1569.5,1737.4 1570.3,1737.6 1571.1,1737.8 1571.8,1737.9 1572.6,1738.1 1573.4,1738.3 1574.2,1738.4 1575.0,1738.5 1575.8,1738.6 1576.6,1738.6 1577.4,1738.5 1578.3,1738.4 1579.2,1738.1 1580.1,1737.8 1581.1,1737.5 1582.1,1737.0 1583.0,1736.6 1584.0,1736.1 1585.0,1735.6 1586.1,1735.0 1587.1,1734.3 1588.2,1733.7 1589.3,1732.9 1590.3,1732.1 1591.5,1731.3 1592.6,1730.4 1593.7,1729.4 1594.9,1728.3 1596.0,1727.2 1597.2,1726.0 1598.4,1724.8 1599.7,1723.4 1600.9,1722.0 1602.2,1720.5 1603.5,1718.8 1604.8,1717.2 1606.2,1715.4 1607.5,1713.6 1608.9,1711.7 1610.3,1709.8 1611.7,1707.8 1613.1,1705.9 1614.4,1703.9 1615.8,1701.9 1617.2,1699.9 1618.6,1697.9 1620.0,1695.9 1621.3,1694.0 1622.7,1692.0 1624.0,1690.0 1625.3,1688.0 1626.7,1686.0 1628.0,1683.9 1629.4,1681.8 1630.7,1679.7 1632.1,1677.6 1633.4,1675.5 1634.8,1673.4 1636.1,1671.3 1637.5,1669.2 1638.8,1667.1 1640.2,1665.1 1641.5,1663.1 1642.8,1661.1 1644.2,1659.2 1645.5,1657.3 1646.9,1655.3 1648.3,1653.2 1649.8,1651.1 1651.2,1649.0 1652.6,1646.9 1654.1,1644.8 1655.5,1642.7 1656.9,1640.7 1658.3,1638.8 1659.7,1637.0 1661.0,1635.4 1662.3,1633.8 1663.6,1632.5 1664.8,1631.3 1666.0,1630.3 1667.1,1629.5 1668.1,1628.9 1669.1,1628.6 1670.1,1628.3 1671.0,1628.3 1671.8,1628.4 1672.7,1628.6 1673.5,1628.9" fill="none" stroke="#ef7a30" stroke-width="3.5" stroke-linejoin="round" stroke-linecap="round" />
<polyline points="1674.3,1629.4 1675.0,1630.0 1675.8,1630.6 1676.5,1631.4 1677.2,1632.2 1677.9,1633.1 1678.6,1634.0 1679.3,1635.0 1680.1,1636.0 1680.8,1637.0 1681.5,1638.1 1682.2,1639.2 1682.9,1640.3 1683.6,1641.5 1684.2,1642.7 1684.9,1644.0 1685.5,1645.4 1686.2,1646.8 1686.8,1648.4 1687.5,1650.0 1688.1,1651.8 1688.8,1653.6 1689.4,1655.6 1690.1,1657.7 1690.8,1659.9 1691.5,1662.3 1692.2,1664.9 1693.0,1667.6 1693.7,1670.5 1694.5,1673.6 1695.3,1676.9 1696.1,1680.4 1696.9,1683.9 1697.7,1687.6 1698.5,1691.3 1699.4,1695.2 1700.2,1699.0 1701.0,1703.0 1701.8,1706.9 1702.7,1710.8 1703.5,1714.7 1704.3,1718.6 1705.1,1722.4 1706.0,1726.1 1706.8,1729.8 1707.6,1733.6 1708.4,1737.4 1709.2,1741.3 1710.0,1745.2 1710.8,1749.1 1711.6,1753.0 1712.4,1756.9 1713.2,1760.8 1714.0,1764.7 1714.8,1768.5 1715.6,1772.3 1716.4,1776.0 1717.3,1779.7 1718.1,1783.3 1718.9,1786.8 1719.7,1790.2 1720.5,1793.5 1721.3,1796.8 1722.1,1800.1 1722.9,1803.4 1723.7,1806.6 1724.5,1809.7 1725.3,1812.8 1726.1,1815.9 1726.9,1818.9 1727.7,1821.8 1728.6,1824.7 1729.4,1827.5 1730.2,1830.2 1731.0,1832.9 1731.8,1835.4 1732.6,1837.9 1733.4,1840.3 1734.2,1842.6 1735.0,1844.8 1735.8,1846.9 1736.5,1848.9 1737.3,1850.9 1738.1,1852.7 1738.8,1854.5 1739.6,1856.3 1740.4,1857.9 1741.1,1859.5 1741.9,1861.1 1742.8,1862.6 1743.6,1864.1 1744.4,1865.5 1745.3,1866.9 1746.2,1868.2 1747.1,1869.5 1748.1,1870.8 1749.0,1872.0 1750.0,1873.1 1750.9,1874.2" fill="none" stroke="#ef7a30" stroke-width="4" stroke-linejoin="round" stroke-linecap="round" stroke-dasharray="0.1 6"/>
<polyline points="1751.9,1875.2 1752.9,1876.2 1753.9,1877.1 1754.9,1878.0 1755.9,1878.8 1757.0,1879.6 1758.1,1880.4 1759.2,1881.2 1760.4,1881.9 1761.6,1882.7 1762.8,1883.4 1764.1,1884.1 1765.4,1884.9 1766.8,1885.6 1768.2,1886.3 1769.6,1887.0 1771.1,1887.6 1772.6,1888.3 1774.2,1888.9 1775.7,1889.5 1777.3,1890.1 1779.0,1890.7 1780.6,1891.3 1782.3,1891.8 1784.0,1892.3 1785.8,1892.8 1787.5,1893.3 1789.3,1893.7 1791.1,1894.2 1792.9,1894.6 1794.7,1895.0 1796.6,1895.4 1798.5,1895.7 1800.5,1896.0 1802.5,1896.3 1804.5,1896.6 1806.5,1896.8 1808.6,1897.0 1810.6,1897.3 1812.7,1897.5 1814.8,1897.7 1816.9,1897.9 1819.0,1898.0 1821.0,1898.2 1823.1,1898.4 1825.2,1898.6 1827.2,1898.8 1829.3,1899.0 1831.4,1899.1 1833.7,1899.3 1836.0,1899.5 1838.3,1899.6 1840.7,1899.8 1843.0,1899.9 1845.3,1900.1 1847.6,1900.2 1849.8,1900.3 1851.9,1900.5 1853.9,1900.6 1855.8,1900.7 1857.5,1900.8 1859.0,1900.9 1860.4,1900.9 1861.5,1901.0" fill="none" stroke="#ef7a30" stroke-width="3.5" stroke-linejoin="round" stroke-linecap="round" />
<polyline points="1404.0,1873.9 1404.7,1873.7 1405.6,1873.4 1406.7,1873.1 1407.8,1872.7 1409.1,1872.3 1410.4,1871.9 1411.8,1871.5 1413.3,1871.0 1414.8,1870.5 1416.3,1870.0 1417.9,1869.5 1419.4,1869.0 1421.0,1868.5 1422.5,1868.0 1424.0,1867.5 1425.5,1867.0 1426.9,1866.5 1428.2,1866.1 1429.6,1865.6 1430.9,1865.2 1432.3,1864.7 1433.6,1864.3 1434.9,1863.8 1436.3,1863.4 1437.6,1862.9 1439.0,1862.5 1440.3,1862.0 1441.7,1861.5 1443.0,1861.0 1444.4,1860.5 1445.7,1859.9 1447.1,1859.4 1448.4,1858.8 1449.8,1858.2 1451.1,1857.5 1452.4,1856.9 1453.8,1856.2 1455.1,1855.5 1456.5,1854.8 1457.8,1854.1 1459.2,1853.4 1460.5,1852.6 1461.9,1851.8 1463.2,1851.0 1464.6,1850.2 1465.9,1849.4 1467.2,1848.5 1468.6,1847.7 1469.9,1846.8 1471.3,1845.8 1472.6,1844.9 1474.0,1843.9 1475.3,1842.9 1476.7,1841.8 1478.0,1840.8 1479.4,1839.7 1480.7,1838.6 1482.0,1837.5 1483.4,1836.3 1484.7,1835.1 1486.1,1834.0 1487.4,1832.8 1488.8,1831.5 1490.1,1830.3 1491.5,1829.1 1492.8,1827.8 1494.2,1826.5 1495.5,1825.3 1496.9,1823.9 1498.2,1822.6 1499.6,1821.2 1501.0,1819.7 1502.4,1818.2 1503.8,1816.7 1505.1,1815.2 1506.5,1813.7 1507.9,1812.2 1509.3,1810.7 1510.6,1809.2 1512.0,1807.7 1513.3,1806.3 1514.6,1805.0 1515.9,1803.7 1517.1,1802.5 1518.4,1801.3 1519.6,1800.2 1520.8,1799.2 1521.9,1798.2 1523.0,1797.2 1524.2,1796.2 1525.3,1795.3 1526.4,1794.5 1527.4,1793.6 1528.5,1792.8 1529.5,1792.1 1530.6,1791.3 1531.6,1790.6 1532.6,1790.0 1533.6,1789.4 1534.7,1788.8 1535.7,1788.3 1536.7,1787.8 1537.7,1787.3 1538.7,1786.9 1539.7,1786.6 1540.6,1786.3 1541.6,1786.1 1542.6,1785.9 1543.5,1785.7 1544.5,1785.6 1545.4,1785.5 1546.4,1785.4 1547.3,1785.4 1548.2,1785.3 1549.1,1785.3 1550.0,1785.2 1550.9,1785.2 1551.8,1785.1 1552.7,1785.0 1553.6,1784.9 1554.4,1784.9 1555.2,1784.8 1556.1,1784.8 1556.9,1784.7 1557.7,1784.7 1558.5,1784.7 1559.3,1784.7 1560.1,1784.7 1560.9,1784.7 1561.7,1784.7 1562.4,1784.7 1563.2,1784.7 1564.0,1784.8 1564.8,1784.8 1565.6,1784.8 1566.4,1784.8 1567.2,1784.8 1568.0,1784.9 1568.8,1784.9 1569.5,1785.0 1570.3,1785.1 1571.1,1785.2 1571.8,1785.3 1572.6,1785.5 1573.4,1785.5 1574.2,1785.6 1575.0,1785.7 1575.8,1785.7 1576.6,1785.7 1577.4,1785.6 1578.3,1785.5 1579.2,1785.3 1580.1,1785.1 1581.1,1784.9 1582.1,1784.6 1583.0,1784.2 1584.0,1783.9 1585.0,1783.5 1586.1,1783.1 1587.1,1782.7 1588.2,1782.2 1589.3,1781.7 1590.3,1781.2 1591.5,1780.6 1592.6,1779.9 1593.7,1779.3 1594.9,1778.6 1596.0,1777.8 1597.2,1777.0 1598.4,1776.1 1599.7,1775.2 1600.9,1774.2 1602.2,1773.2 1603.5,1772.1 1604.8,1770.9 1606.2,1769.8 1607.5,1768.5 1608.9,1767.2 1610.3,1765.9 1611.7,1764.6 1613.1,1763.3 1614.4,1761.9 1615.8,1760.6 1617.2,1759.2 1618.6,1757.9 1620.0,1756.5 1621.3,1755.2 1622.7,1753.9 1624.0,1752.5 1625.3,1751.2 1626.7,1749.8 1628.0,1748.4 1629.4,1746.9 1630.7,1745.5 1632.1,1744.1 1633.4,1742.6 1634.8,1741.2 1636.1,1739.8 1637.5,1738.3 1638.8,1736.9 1640.2,1735.5 1641.5,1734.2 1642.8,1732.8 1644.2,1731.5 1645.5,1730.2 1646.9,1728.8 1648.3,1727.4 1649.8,1726.0 1651.2,1724.5 1652.6,1723.0 1654.1,1721.6 1655.5,1720.2 1656.9,1718.8 1658.3,1717.5 1659.7,1716.3 1661.0,1715.1 1662.3,1714.1 1663.6,1713.1 1664.8,1712.3 1666.0,1711.6 1667.1,1711.1 1668.1,1710.7 1669.1,1710.4 1670.1,1710.3 1671.0,1710.2 1671.8,1710.3 1672.7,1710.4 1673.5,1710.7" fill="none" stroke="#2a98dd" stroke-width="3.5" stroke-linejoin="round" stroke-linecap="round" />
<polyline points="1674.3,1711.0 1675.0,1711.4 1675.8,1711.8 1676.5,1712.3 1677.2,1712.9 1677.9,1713.5 1678.6,1714.1 1679.3,1714.7 1680.1,1715.4 1680.8,1716.1 1681.5,1716.8 1682.2,1717.6 1682.9,1718.3 1683.6,1719.1 1684.2,1719.9 1684.9,1720.8 1685.5,1721.7 1686.2,1722.7 1686.8,1723.7 1687.5,1724.8 1688.1,1726.0 1688.8,1727.2 1689.4,1728.6 1690.1,1730.0 1690.8,1731.5 1691.5,1733.1 1692.2,1734.8 1693.0,1736.6 1693.7,1738.6 1694.5,1740.7 1695.3,1742.9 1696.1,1745.2 1696.9,1747.5 1697.7,1750.0 1698.5,1752.5 1699.4,1755.1 1700.2,1757.7 1701.0,1760.3 1701.8,1762.9 1702.7,1765.6 1703.5,1768.2 1704.3,1770.8 1705.1,1773.3 1706.0,1775.8 1706.8,1778.3 1707.6,1780.9 1708.4,1783.4 1709.2,1786.0 1710.0,1788.6 1710.8,1791.2 1711.6,1793.8 1712.4,1796.5 1713.2,1799.1 1714.0,1801.7 1714.8,1804.2 1715.6,1806.8 1716.4,1809.3 1717.3,1811.7 1718.1,1814.1 1718.9,1816.5 1719.7,1818.8 1720.5,1821.0 1721.3,1823.2 1722.1,1825.4 1722.9,1827.6 1723.7,1829.8 1724.5,1831.9 1725.3,1834.0 1726.1,1836.0 1726.9,1838.0 1727.7,1840.0 1728.6,1841.9 1729.4,1843.8 1730.2,1845.6 1731.0,1847.4 1731.8,1849.1 1732.6,1850.8 1733.4,1852.4 1734.2,1853.9 1735.0,1855.4 1735.8,1856.8 1736.5,1858.1 1737.3,1859.4 1738.1,1860.7 1738.8,1861.9 1739.6,1863.0 1740.4,1864.2 1741.1,1865.2 1741.9,1866.3 1742.8,1867.3 1743.6,1868.3 1744.4,1869.2 1745.3,1870.2 1746.2,1871.1 1747.1,1872.0 1748.1,1872.8 1749.0,1873.6 1750.0,1874.4 1750.9,1875.1" fill="none" stroke="#2a98dd" stroke-width="4" stroke-linejoin="round" stroke-linecap="round" stroke-dasharray="0.1 6"/>
<polyline points="1751.9,1875.8 1752.9,1876.4 1753.9,1877.0 1754.9,1877.6 1755.9,1878.2 1757.0,1878.7 1758.1,1879.2 1759.2,1879.8 1760.4,1880.3 1761.6,1880.7 1762.8,1881.2 1764.1,1881.7 1765.4,1882.2 1766.8,1882.7 1768.2,1883.2 1769.6,1883.6 1771.1,1884.1 1772.6,1884.5 1774.2,1884.9 1775.7,1885.4 1777.3,1885.8 1779.0,1886.1 1780.6,1886.5 1782.3,1886.9 1784.0,1887.2 1785.8,1887.5 1787.5,1887.9 1789.3,1888.2 1791.1,1888.5 1792.9,1888.7 1794.7,1889.0 1796.6,1889.3 1798.5,1889.5 1800.5,1889.7 1802.5,1889.9 1804.5,1890.1 1806.5,1890.2 1808.6,1890.4 1810.6,1890.5 1812.7,1890.7 1814.8,1890.8 1816.9,1890.9 1819.0,1891.1 1821.0,1891.2 1823.1,1891.3 1825.2,1891.4 1827.2,1891.5 1829.3,1891.7 1831.4,1891.8 1833.7,1891.9 1836.0,1892.0 1838.3,1892.1 1840.7,1892.2 1843.0,1892.3 1845.3,1892.4 1847.6,1892.5 1849.8,1892.6 1851.9,1892.7 1853.9,1892.8 1855.8,1892.8 1857.5,1892.9 1859.0,1892.9 1860.4,1893.0 1861.5,1893.0" fill="none" stroke="#2a98dd" stroke-width="3.5" stroke-linejoin="round" stroke-linecap="round" />
<polyline points="1404.0,1872.0 1404.7,1871.8 1405.6,1871.6 1406.7,1871.4 1407.8,1871.1 1409.1,1870.8 1410.4,1870.5 1411.8,1870.2 1413.3,1869.8 1414.8,1869.5 1416.3,1869.1 1417.9,1868.7 1419.4,1868.4 1421.0,1868.0 1422.5,1867.6 1424.0,1867.3 1425.5,1866.9 1426.9,1866.5 1428.2,1866.2 1429.6,1865.9 1430.9,1865.6 1432.3,1865.2 1433.6,1864.9 1434.9,1864.6 1436.3,1864.3 1437.6,1863.9 1439.0,1863.6 1440.3,1863.3 1441.7,1862.9 1443.0,1862.5 1444.4,1862.2 1445.7,1861.8 1447.1,1861.4 1448.4,1860.9 1449.8,1860.5 1451.1,1860.0 1452.4,1859.5 1453.8,1859.1 1455.1,1858.6 1456.5,1858.0 1457.8,1857.5 1459.2,1857.0 1460.5,1856.5 1461.9,1855.9 1463.2,1855.3 1464.6,1854.7 1465.9,1854.1 1467.2,1853.5 1468.6,1852.9 1469.9,1852.3 1471.3,1851.6 1472.6,1850.9 1474.0,1850.2 1475.3,1849.5 1476.7,1848.7 1478.0,1848.0 1479.4,1847.2 1480.7,1846.4 1482.0,1845.6 1483.4,1844.8 1484.7,1843.9 1486.1,1843.1 1487.4,1842.2 1488.8,1841.4 1490.1,1840.5 1491.5,1839.6 1492.8,1838.7 1494.2,1837.8 1495.5,1836.9 1496.9,1836.0 1498.2,1835.0 1499.6,1834.0 1501.0,1833.0 1502.4,1832.0 1503.8,1830.9 1505.1,1829.8 1506.5,1828.8 1507.9,1827.7 1509.3,1826.7 1510.6,1825.6 1512.0,1824.6 1513.3,1823.7 1514.6,1822.7 1515.9,1821.8 1517.1,1821.0 1518.4,1820.2 1519.6,1819.4 1520.8,1818.7 1521.9,1818.0 1523.0,1817.4 1524.2,1816.7 1525.3,1816.1 1526.4,1815.5 1527.4,1815.0 1528.5,1814.4 1529.5,1813.9 1530.6,1813.4 1531.6,1813.0 1532.6,1812.6 1533.6,1812.2 1534.7,1811.8 1535.7,1811.4 1536.7,1811.1 1537.7,1810.9 1538.7,1810.6 1539.7,1810.4 1540.6,1810.3 1541.6,1810.2 1542.6,1810.1 1543.5,1810.0 1544.5,1810.0 1545.4,1810.0 1546.4,1810.0 1547.3,1810.0 1548.2,1810.0 1549.1,1810.0 1550.0,1810.0 1550.9,1810.0 1551.8,1809.9 1552.7,1809.9 1553.6,1809.8 1554.4,1809.7 1555.2,1809.7 1556.1,1809.6 1556.9,1809.6 1557.7,1809.5 1558.5,1809.5 1559.3,1809.4 1560.1,1809.4 1560.9,1809.3 1561.7,1809.3 1562.4,1809.2 1563.2,1809.2 1564.0,1809.1 1564.8,1809.1 1565.6,1809.1 1566.4,1809.0 1567.2,1809.0 1568.0,1809.0 1568.8,1809.0 1569.5,1809.0 1570.3,1809.1 1571.1,1809.1 1571.8,1809.2 1572.6,1809.2 1573.4,1809.2 1574.2,1809.2 1575.0,1809.2 1575.8,1809.2 1576.6,1809.2 1577.4,1809.1 1578.3,1809.0 1579.2,1808.8 1580.1,1808.6 1581.1,1808.3 1582.1,1808.1 1583.0,1807.8 1584.0,1807.5 1585.0,1807.2 1586.1,1806.9 1587.1,1806.5 1588.2,1806.1 1589.3,1805.7 1590.3,1805.2 1591.5,1804.7 1592.6,1804.2 1593.7,1803.7 1594.9,1803.1 1596.0,1802.5 1597.2,1801.9 1598.4,1801.2 1599.7,1800.4 1600.9,1799.6 1602.2,1798.8 1603.5,1797.9 1604.8,1797.0 1606.2,1796.1 1607.5,1795.1 1608.9,1794.1 1610.3,1793.1 1611.7,1792.0 1613.1,1791.0 1614.4,1789.9 1615.8,1788.8 1617.2,1787.7 1618.6,1786.7 1620.0,1785.6 1621.3,1784.6 1622.7,1783.5 1624.0,1782.4 1625.3,1781.3 1626.7,1780.2 1628.0,1779.1 1629.4,1777.9 1630.7,1776.8 1632.1,1775.6 1633.4,1774.5 1634.8,1773.3 1636.1,1772.2 1637.5,1771.1 1638.8,1769.9 1640.2,1768.8 1641.5,1767.7 1642.8,1766.6 1644.2,1765.6 1645.5,1764.5 1646.9,1763.3 1648.3,1762.2 1649.8,1761.0 1651.2,1759.8 1652.6,1758.6 1654.1,1757.4 1655.5,1756.3 1656.9,1755.1 1658.3,1754.1 1659.7,1753.0 1661.0,1752.1 1662.3,1751.2 1663.6,1750.4 1664.8,1749.7 1666.0,1749.1 1667.1,1748.7 1668.1,1748.4 1669.1,1748.1 1670.1,1748.0 1671.0,1747.9 1671.8,1748.0 1672.7,1748.1 1673.5,1748.3" fill="none" stroke="#35a45e" stroke-width="3.5" stroke-linejoin="round" stroke-linecap="round" />
<polyline points="1674.3,1748.5 1675.0,1748.8 1675.8,1749.2 1676.5,1749.6 1677.2,1750.0 1677.9,1750.5 1678.6,1750.9 1679.3,1751.5 1680.1,1752.0 1680.8,1752.5 1681.5,1753.0 1682.2,1753.6 1682.9,1754.2 1683.6,1754.8 1684.2,1755.4 1684.9,1756.1 1685.5,1756.7 1686.2,1757.5 1686.8,1758.3 1687.5,1759.1 1688.1,1760.0 1688.8,1760.9 1689.4,1761.9 1690.1,1763.0 1690.8,1764.2 1691.5,1765.4 1692.2,1766.7 1693.0,1768.0 1693.7,1769.5 1694.5,1771.1 1695.3,1772.8 1696.1,1774.5 1696.9,1776.3 1697.7,1778.2 1698.5,1780.1 1699.4,1782.1 1700.2,1784.0 1701.0,1786.0 1701.8,1788.0 1702.7,1790.0 1703.5,1792.0 1704.3,1794.0 1705.1,1795.9 1706.0,1797.8 1706.8,1799.7 1707.6,1801.6 1708.4,1803.5 1709.2,1805.5 1710.0,1807.5 1710.8,1809.5 1711.6,1811.4 1712.4,1813.4 1713.2,1815.4 1714.0,1817.4 1714.8,1819.3 1715.6,1821.2 1716.4,1823.1 1717.3,1825.0 1718.1,1826.8 1718.9,1828.6 1719.7,1830.3 1720.5,1832.0 1721.3,1833.7 1722.1,1835.4 1722.9,1837.0 1723.7,1838.7 1724.5,1840.3 1725.3,1841.9 1726.1,1843.4 1726.9,1844.9 1727.7,1846.4 1728.6,1847.9 1729.4,1849.3 1730.2,1850.7 1731.0,1852.0 1731.8,1853.3 1732.6,1854.6 1733.4,1855.8 1734.2,1857.0 1735.0,1858.1 1735.8,1859.2 1736.5,1860.2 1737.3,1861.2 1738.1,1862.1 1738.8,1863.0 1739.6,1863.9 1740.4,1864.8 1741.1,1865.6 1741.9,1866.4 1742.8,1867.1 1743.6,1867.9 1744.4,1868.6 1745.3,1869.3 1746.2,1870.0 1747.1,1870.7 1748.1,1871.3 1749.0,1871.9 1750.0,1872.5 1750.9,1873.1" fill="none" stroke="#35a45e" stroke-width="4" stroke-linejoin="round" stroke-linecap="round" stroke-dasharray="0.1 6"/>
<polyline points="1751.9,1873.6 1752.9,1874.1 1753.9,1874.5 1754.9,1875.0 1755.9,1875.4 1757.0,1875.8 1758.1,1876.2 1759.2,1876.6 1760.4,1877.0 1761.6,1877.3 1762.8,1877.7 1764.1,1878.1 1765.4,1878.5 1766.8,1878.8 1768.2,1879.2 1769.6,1879.5 1771.1,1879.9 1772.6,1880.2 1774.2,1880.5 1775.7,1880.8 1777.3,1881.1 1779.0,1881.4 1780.6,1881.7 1782.3,1882.0 1784.0,1882.2 1785.8,1882.5 1787.5,1882.7 1789.3,1883.0 1791.1,1883.2 1792.9,1883.4 1794.7,1883.6 1796.6,1883.8 1798.5,1884.0 1800.5,1884.1 1802.5,1884.3 1804.5,1884.4 1806.5,1884.5 1808.6,1884.7 1810.6,1884.8 1812.7,1884.9 1814.8,1885.0 1816.9,1885.1 1819.0,1885.2 1821.0,1885.3 1823.1,1885.3 1825.2,1885.4 1827.2,1885.5 1829.3,1885.6 1831.4,1885.7 1833.7,1885.8 1836.0,1885.9 1838.3,1886.0 1840.7,1886.1 1843.0,1886.1 1845.3,1886.2 1847.6,1886.3 1849.8,1886.3 1851.9,1886.4 1853.9,1886.4 1855.8,1886.5 1857.5,1886.5 1859.0,1886.6 1860.4,1886.6 1861.5,1886.7" fill="none" stroke="#35a45e" stroke-width="3.5" stroke-linejoin="round" stroke-linecap="round" />
<polyline points="1404.0,1877.7 1404.7,1877.6 1405.6,1877.4 1406.7,1877.2 1407.8,1877.0 1409.1,1876.8 1410.4,1876.5 1411.8,1876.3 1413.3,1876.0 1414.8,1875.7 1416.3,1875.4 1417.9,1875.1 1419.4,1874.8 1421.0,1874.5 1422.5,1874.2 1424.0,1873.9 1425.5,1873.6 1426.9,1873.3 1428.2,1873.1 1429.6,1872.8 1430.9,1872.5 1432.3,1872.3 1433.6,1872.0 1434.9,1871.8 1436.3,1871.5 1437.6,1871.2 1439.0,1871.0 1440.3,1870.7 1441.7,1870.4 1443.0,1870.1 1444.4,1869.8 1445.7,1869.5 1447.1,1869.2 1448.4,1868.8 1449.8,1868.5 1451.1,1868.1 1452.4,1867.7 1453.8,1867.3 1455.1,1867.0 1456.5,1866.6 1457.8,1866.1 1459.2,1865.7 1460.5,1865.3 1461.9,1864.8 1463.2,1864.4 1464.6,1863.9 1465.9,1863.4 1467.2,1863.0 1468.6,1862.5 1469.9,1861.9 1471.3,1861.4 1472.6,1860.9 1474.0,1860.3 1475.3,1859.7 1476.7,1859.2 1478.0,1858.6 1479.4,1857.9 1480.7,1857.3 1482.0,1856.7 1483.4,1856.0 1484.7,1855.4 1486.1,1854.7 1487.4,1854.0 1488.8,1853.3 1490.1,1852.6 1491.5,1851.9 1492.8,1851.2 1494.2,1850.5 1495.5,1849.8 1496.9,1849.1 1498.2,1848.4 1499.6,1847.6 1501.0,1846.8 1502.4,1845.9 1503.8,1845.1 1505.1,1844.3 1506.5,1843.5 1507.9,1842.6 1509.3,1841.8 1510.6,1841.0 1512.0,1840.2 1513.3,1839.5 1514.6,1838.7 1515.9,1838.0 1517.1,1837.4 1518.4,1836.8 1519.6,1836.2 1520.8,1835.6 1521.9,1835.1 1523.0,1834.6 1524.2,1834.1 1525.3,1833.7 1526.4,1833.2 1527.4,1832.8 1528.5,1832.4 1529.5,1832.0 1530.6,1831.6 1531.6,1831.3 1532.6,1831.0 1533.6,1830.7 1534.7,1830.4 1535.7,1830.2 1536.7,1829.9 1537.7,1829.7 1538.7,1829.6 1539.7,1829.5 1540.6,1829.4 1541.6,1829.3 1542.6,1829.3 1543.5,1829.3 1544.5,1829.3 1545.4,1829.3 1546.4,1829.3 1547.3,1829.3 1548.2,1829.3 1549.1,1829.3 1550.0,1829.4 1550.9,1829.4 1551.8,1829.3 1552.7,1829.3 1553.6,1829.3 1554.4,1829.2 1555.2,1829.2 1556.1,1829.1 1556.9,1829.0 1557.7,1829.0 1558.5,1828.9 1559.3,1828.9 1560.1,1828.8 1560.9,1828.7 1561.7,1828.7 1562.4,1828.6 1563.2,1828.6 1564.0,1828.5 1564.8,1828.5 1565.6,1828.4 1566.4,1828.4 1567.2,1828.3 1568.0,1828.3 1568.8,1828.3 1569.5,1828.3 1570.3,1828.3 1571.1,1828.4 1571.8,1828.4 1572.6,1828.4 1573.4,1828.4 1574.2,1828.4 1575.0,1828.4 1575.8,1828.3 1576.6,1828.3 1577.4,1828.2 1578.3,1828.1 1579.2,1827.9 1580.1,1827.8 1581.1,1827.6 1582.1,1827.3 1583.0,1827.1 1584.0,1826.8 1585.0,1826.6 1586.1,1826.3 1587.1,1826.0 1588.2,1825.6 1589.3,1825.3 1590.3,1824.9 1591.5,1824.5 1592.6,1824.1 1593.7,1823.6 1594.9,1823.1 1596.0,1822.6 1597.2,1822.1 1598.4,1821.5 1599.7,1820.9 1600.9,1820.2 1602.2,1819.5 1603.5,1818.8 1604.8,1818.1 1606.2,1817.3 1607.5,1816.5 1608.9,1815.6 1610.3,1814.8 1611.7,1813.9 1613.1,1813.0 1614.4,1812.2 1615.8,1811.3 1617.2,1810.4 1618.6,1809.5 1620.0,1808.6 1621.3,1807.7 1622.7,1806.8 1624.0,1806.0 1625.3,1805.0 1626.7,1804.1 1628.0,1803.2 1629.4,1802.2 1630.7,1801.3 1632.1,1800.3 1633.4,1799.4 1634.8,1798.4 1636.1,1797.5 1637.5,1796.5 1638.8,1795.6 1640.2,1794.6 1641.5,1793.7 1642.8,1792.8 1644.2,1791.9 1645.5,1791.0 1646.9,1790.1 1648.3,1789.1 1649.8,1788.1 1651.2,1787.1 1652.6,1786.1 1654.1,1785.1 1655.5,1784.1 1656.9,1783.1 1658.3,1782.2 1659.7,1781.4 1661.0,1780.5 1662.3,1779.8 1663.6,1779.1 1664.8,1778.6 1666.0,1778.1 1667.1,1777.7 1668.1,1777.4 1669.1,1777.2 1670.1,1777.1 1671.0,1777.0 1671.8,1777.1 1672.7,1777.2 1673.5,1777.3" fill="none" stroke="#9a62be" stroke-width="3.5" stroke-linejoin="round" stroke-linecap="round" />
<polyline points="1674.3,1777.5 1675.0,1777.8 1675.8,1778.0 1676.5,1778.4 1677.2,1778.7 1677.9,1779.1 1678.6,1779.5 1679.3,1779.9 1680.1,1780.4 1680.8,1780.8 1681.5,1781.2 1682.2,1781.7 1682.9,1782.1 1683.6,1782.6 1684.2,1783.1 1684.9,1783.7 1685.5,1784.2 1686.2,1784.8 1686.8,1785.5 1687.5,1786.2 1688.1,1786.9 1688.8,1787.6 1689.4,1788.5 1690.1,1789.3 1690.8,1790.3 1691.5,1791.2 1692.2,1792.3 1693.0,1793.4 1693.7,1794.6 1694.5,1795.9 1695.3,1797.3 1696.1,1798.7 1696.9,1800.2 1697.7,1801.7 1698.5,1803.2 1699.4,1804.8 1700.2,1806.4 1701.0,1808.0 1701.8,1809.7 1702.7,1811.3 1703.5,1812.9 1704.3,1814.5 1705.1,1816.1 1706.0,1817.6 1706.8,1819.1 1707.6,1820.7 1708.4,1822.3 1709.2,1823.9 1710.0,1825.5 1710.8,1827.1 1711.6,1828.7 1712.4,1830.3 1713.2,1831.9 1714.0,1833.5 1714.8,1835.1 1715.6,1836.7 1716.4,1838.2 1717.3,1839.7 1718.1,1841.2 1718.9,1842.7 1719.7,1844.1 1720.5,1845.4 1721.3,1846.8 1722.1,1848.2 1722.9,1849.5 1723.7,1850.8 1724.5,1852.1 1725.3,1853.4 1726.1,1854.7 1726.9,1855.9 1727.7,1857.1 1728.6,1858.3 1729.4,1859.5 1730.2,1860.6 1731.0,1861.7 1731.8,1862.8 1732.6,1863.8 1733.4,1864.8 1734.2,1865.7 1735.0,1866.6 1735.8,1867.5 1736.5,1868.3 1737.3,1869.1 1738.1,1869.9 1738.8,1870.6 1739.6,1871.4 1740.4,1872.1 1741.1,1872.7 1741.9,1873.4 1742.8,1874.0 1743.6,1874.6 1744.4,1875.2 1745.3,1875.7 1746.2,1876.3 1747.1,1876.9 1748.1,1877.4 1749.0,1877.9 1750.0,1878.3 1750.9,1878.8" fill="none" stroke="#9a62be" stroke-width="4" stroke-linejoin="round" stroke-linecap="round" stroke-dasharray="0.1 6"/>
<polyline points="1751.9,1879.2 1752.9,1879.6 1753.9,1880.0 1754.9,1880.3 1755.9,1880.7 1757.0,1881.0 1758.1,1881.3 1759.2,1881.7 1760.4,1882.0 1761.6,1882.3 1762.8,1882.6 1764.1,1882.9 1765.4,1883.2 1766.8,1883.5 1768.2,1883.8 1769.6,1884.1 1771.1,1884.3 1772.6,1884.6 1774.2,1884.9 1775.7,1885.1 1777.3,1885.4 1779.0,1885.6 1780.6,1885.8 1782.3,1886.0 1784.0,1886.3 1785.8,1886.5 1787.5,1886.7 1789.3,1886.9 1791.1,1887.0 1792.9,1887.2 1794.7,1887.4 1796.6,1887.5 1798.5,1887.7 1800.5,1887.8 1802.5,1887.9 1804.5,1888.0 1806.5,1888.1 1808.6,1888.2 1810.6,1888.3 1812.7,1888.4 1814.8,1888.5 1816.9,1888.6 1819.0,1888.6 1821.0,1888.7 1823.1,1888.8 1825.2,1888.9 1827.2,1888.9 1829.3,1889.0 1831.4,1889.1 1833.7,1889.2 1836.0,1889.2 1838.3,1889.3 1840.7,1889.4 1843.0,1889.4 1845.3,1889.5 1847.6,1889.5 1849.8,1889.6 1851.9,1889.6 1853.9,1889.7 1855.8,1889.7 1857.5,1889.8 1859.0,1889.8 1860.4,1889.8 1861.5,1889.9" fill="none" stroke="#9a62be" stroke-width="3.5" stroke-linejoin="round" stroke-linecap="round" />
<circle cx="1720.0" cy="1547.8" r="7.5" fill="#3a3a3a" stroke="none" stroke-width="0" />
<text x="1732.6" y="1560.3" font-size="34.5" text-anchor="start" fill="#231f20" font-weight="bold" >0 mM</text>
<circle cx="1720.0" cy="1587.8" r="7.5" fill="#c47ccc" stroke="none" stroke-width="0" />
<text x="1732.6" y="1600.3" font-size="34.5" text-anchor="start" fill="#231f20" font-weight="bold" >1.0 mM</text>
<circle cx="1720.0" cy="1626.7" r="7.5" fill="#ee7736" stroke="none" stroke-width="0" />
<text x="1732.6" y="1639.2" font-size="34.5" text-anchor="start" fill="#231f20" font-weight="bold" >2.5 mM</text>
<circle cx="1720.0" cy="1665.6" r="7.5" fill="#27a7e2" stroke="none" stroke-width="0" />
<text x="1732.6" y="1678.1" font-size="34.5" text-anchor="start" fill="#231f20" font-weight="bold" >5.0 mM</text>
<circle cx="1720.0" cy="1704.4" r="7.5" fill="#35a852" stroke="none" stroke-width="0" />
<text x="1732.6" y="1716.9" font-size="34.5" text-anchor="start" fill="#231f20" font-weight="bold" >10 mM</text>
<circle cx="1720.0" cy="1743.3" r="7.5" fill="#5a3d9e" stroke="none" stroke-width="0" />
<text x="1732.6" y="1755.8" font-size="34.5" text-anchor="start" fill="#231f20" font-weight="bold" >15 mM</text>
<text x="0" y="0" font-size="33" text-anchor="middle" fill="#231f20" font-weight="bold" transform="translate(1338.9,1743.0) rotate(-90)" textLength="260" lengthAdjust="spacingAndGlyphs">Absorbance/a.u.</text>
<text x="1636.0" y="1987.0" font-size="33" text-anchor="middle" fill="#231f20" font-weight="bold" >Wavelength/nm</text>
<text x="1307.8" y="1556.0" font-size="36" text-anchor="start" fill="#231f20" font-weight="bold" >(iii)</text>
<rect x="109.2" y="2001.4" width="528.4" height="419.2" fill="none" stroke="#2a2a2a" stroke-width="3" />
<line x1="100.0" y1="2420.6" x2="109.2" y2="2420.6" stroke="#231f20" stroke-width="3" />
<text x="95.0" y="2433.6" font-size="36" text-anchor="end" fill="#231f20" font-weight="bold" >0.4</text>
<line x1="100.0" y1="2301.0" x2="109.2" y2="2301.0" stroke="#231f20" stroke-width="3" />
<text x="95.0" y="2314.0" font-size="36" text-anchor="end" fill="#231f20" font-weight="bold" >0.6</text>
<line x1="100.0" y1="2181.3" x2="109.2" y2="2181.3" stroke="#231f20" stroke-width="3" />
<text x="95.0" y="2194.3" font-size="36" text-anchor="end" fill="#231f20" font-weight="bold" >0.8</text>
<line x1="100.0" y1="2061.7" x2="109.2" y2="2061.7" stroke="#231f20" stroke-width="3" />
<text x="95.0" y="2074.7" font-size="36" text-anchor="end" fill="#231f20" font-weight="bold" >1.0</text>
<line x1="104.0" y1="2360.8" x2="109.2" y2="2360.8" stroke="#231f20" stroke-width="2.5" />
<line x1="104.0" y1="2241.2" x2="109.2" y2="2241.2" stroke="#231f20" stroke-width="2.5" />
<line x1="104.0" y1="2121.5" x2="109.2" y2="2121.5" stroke="#231f20" stroke-width="2.5" />
<line x1="109.2" y1="2420.6" x2="109.2" y2="2429.0" stroke="#231f20" stroke-width="3" />
<text x="109.2" y="2465.0" font-size="36" text-anchor="middle" fill="#231f20" font-weight="bold" >0</text>
<line x1="197.3" y1="2420.6" x2="197.3" y2="2429.0" stroke="#231f20" stroke-width="3" />
<text x="197.3" y="2465.0" font-size="36" text-anchor="middle" fill="#231f20" font-weight="bold" >10</text>
<line x1="285.3" y1="2420.6" x2="285.3" y2="2429.0" stroke="#231f20" stroke-width="3" />
<text x="285.3" y="2465.0" font-size="36" text-anchor="middle" fill="#231f20" font-weight="bold" >20</text>
<line x1="373.4" y1="2420.6" x2="373.4" y2="2429.0" stroke="#231f20" stroke-width="3" />
<text x="373.4" y="2465.0" font-size="36" text-anchor="middle" fill="#231f20" font-weight="bold" >30</text>
<line x1="461.5" y1="2420.6" x2="461.5" y2="2429.0" stroke="#231f20" stroke-width="3" />
<text x="461.5" y="2465.0" font-size="36" text-anchor="middle" fill="#231f20" font-weight="bold" >40</text>
<line x1="549.5" y1="2420.6" x2="549.5" y2="2429.0" stroke="#231f20" stroke-width="3" />
<text x="549.5" y="2465.0" font-size="36" text-anchor="middle" fill="#231f20" font-weight="bold" >50</text>
<line x1="637.6" y1="2420.6" x2="637.6" y2="2429.0" stroke="#231f20" stroke-width="3" />
<text x="637.6" y="2465.0" font-size="36" text-anchor="middle" fill="#231f20" font-weight="bold" >60</text>
<line x1="153.2" y1="2420.6" x2="153.2" y2="2426.0" stroke="#231f20" stroke-width="2.5" />
<line x1="241.3" y1="2420.6" x2="241.3" y2="2426.0" stroke="#231f20" stroke-width="2.5" />
<line x1="329.4" y1="2420.6" x2="329.4" y2="2426.0" stroke="#231f20" stroke-width="2.5" />
<line x1="417.4" y1="2420.6" x2="417.4" y2="2426.0" stroke="#231f20" stroke-width="2.5" />
<line x1="505.5" y1="2420.6" x2="505.5" y2="2426.0" stroke="#231f20" stroke-width="2.5" />
<line x1="593.6" y1="2420.6" x2="593.6" y2="2426.0" stroke="#231f20" stroke-width="2.5" />
<polyline points="109.2,2061.7 153.2,2068.3 197.3,2080.8 241.3,2089.8 285.3,2103.6 329.4,2113.1 373.4,2120.3 461.5,2132.9 549.5,2147.2 637.6,2159.8" fill="none" stroke="#a24fb2" stroke-width="3" stroke-linejoin="round" stroke-linecap="round" />
<polyline points="109.2,2061.7 153.2,2094.6 197.3,2121.5 241.3,2136.5 285.3,2155.6 329.4,2175.4 373.4,2195.1 461.5,2223.8 549.5,2257.3 637.6,2282.4" fill="none" stroke="#3c9f68" stroke-width="3" stroke-linejoin="round" stroke-linecap="round" />
<polyline points="109.2,2061.7 153.2,2116.7 197.3,2144.8 241.3,2173.6 285.3,2193.3 329.4,2217.2 373.4,2241.2 461.5,2284.8 549.5,2333.9 637.6,2357.8" fill="none" stroke="#3193d4" stroke-width="3" stroke-linejoin="round" stroke-linecap="round" />
<rect x="105.2" y="2057.7" width="8.0" height="8.0" fill="#3193d4" stroke="none" stroke-width="0" />
<rect x="149.2" y="2112.7" width="8.0" height="8.0" fill="#3193d4" stroke="none" stroke-width="0" />
<rect x="193.3" y="2140.8" width="8.0" height="8.0" fill="#3193d4" stroke="none" stroke-width="0" />
<rect x="237.3" y="2169.6" width="8.0" height="8.0" fill="#3193d4" stroke="none" stroke-width="0" />
<rect x="281.3" y="2189.3" width="8.0" height="8.0" fill="#3193d4" stroke="none" stroke-width="0" />
<rect x="325.4" y="2213.2" width="8.0" height="8.0" fill="#3193d4" stroke="none" stroke-width="0" />
<rect x="369.4" y="2237.2" width="8.0" height="8.0" fill="#3193d4" stroke="none" stroke-width="0" />
<rect x="457.5" y="2280.8" width="8.0" height="8.0" fill="#3193d4" stroke="none" stroke-width="0" />
<rect x="545.5" y="2329.9" width="8.0" height="8.0" fill="#3193d4" stroke="none" stroke-width="0" />
<rect x="633.6" y="2353.8" width="8.0" height="8.0" fill="#3193d4" stroke="none" stroke-width="0" />
<circle cx="109.2" cy="2061.7" r="4.5" fill="#3c9f68" stroke="none" stroke-width="0" />
<circle cx="153.2" cy="2094.6" r="4.5" fill="#3c9f68" stroke="none" stroke-width="0" />
<circle cx="197.3" cy="2121.5" r="4.5" fill="#3c9f68" stroke="none" stroke-width="0" />
<circle cx="241.3" cy="2136.5" r="4.5" fill="#3c9f68" stroke="none" stroke-width="0" />
<circle cx="285.3" cy="2155.6" r="4.5" fill="#3c9f68" stroke="none" stroke-width="0" />
<circle cx="329.4" cy="2175.4" r="4.5" fill="#3c9f68" stroke="none" stroke-width="0" />
<circle cx="373.4" cy="2195.1" r="4.5" fill="#3c9f68" stroke="none" stroke-width="0" />
<circle cx="461.5" cy="2223.8" r="4.5" fill="#3c9f68" stroke="none" stroke-width="0" />
<circle cx="549.5" cy="2257.3" r="4.5" fill="#3c9f68" stroke="none" stroke-width="0" />
<circle cx="637.6" cy="2282.4" r="4.5" fill="#3c9f68" stroke="none" stroke-width="0" />
<polygon points="109.2,2056.2 114.2,2065.5 104.2,2065.5" fill="#a24fb2" stroke="none" stroke-width="0" />
<polygon points="153.2,2062.8 158.2,2072.1 148.2,2072.1" fill="#a24fb2" stroke="none" stroke-width="0" />
<polygon points="197.3,2075.3 202.3,2084.6 192.3,2084.6" fill="#a24fb2" stroke="none" stroke-width="0" />
<polygon points="241.3,2084.3 246.3,2093.6 236.3,2093.6" fill="#a24fb2" stroke="none" stroke-width="0" />
<polygon points="285.3,2098.1 290.3,2107.4 280.3,2107.4" fill="#a24fb2" stroke="none" stroke-width="0" />
<polygon points="329.4,2107.6 334.4,2116.9 324.4,2116.9" fill="#a24fb2" stroke="none" stroke-width="0" />
<polygon points="373.4,2114.8 378.4,2124.1 368.4,2124.1" fill="#a24fb2" stroke="none" stroke-width="0" />
<polygon points="461.5,2127.4 466.5,2136.7 456.5,2136.7" fill="#a24fb2" stroke="none" stroke-width="0" />
<polygon points="549.5,2141.7 554.5,2151.0 544.5,2151.0" fill="#a24fb2" stroke="none" stroke-width="0" />
<polygon points="637.6,2154.3 642.6,2163.6 632.6,2163.6" fill="#a24fb2" stroke="none" stroke-width="0" />
<line x1="134.0" y1="2294.4" x2="191.0" y2="2294.4" stroke="#3193d4" stroke-width="3" />
<rect x="156.0" y="2288.4" width="12.0" height="12.0" fill="#3193d4" stroke="none" stroke-width="0" />
<text x="201.0" y="2308.4" font-size="38.5" text-anchor="start" fill="#231f20" font-weight="bold" >pH=5.5</text>
<line x1="134.0" y1="2341.7" x2="191.0" y2="2341.7" stroke="#3c9f68" stroke-width="3" />
<circle cx="161.7" cy="2341.7" r="6.5" fill="#3c9f68" stroke="none" stroke-width="0" />
<text x="201.0" y="2355.7" font-size="38.5" text-anchor="start" fill="#231f20" font-weight="bold" >pH=6.5</text>
<line x1="134.0" y1="2389.0" x2="191.0" y2="2389.0" stroke="#a24fb2" stroke-width="3" />
<polygon points="161.7,2381.0 169.0,2394.0 154.4,2394.0" fill="#a24fb2" stroke="none" stroke-width="0" />
<text x="201.0" y="2403.0" font-size="38.5" text-anchor="start" fill="#231f20" font-weight="bold" >pH=7.4</text>
<text x="0" y="0" font-size="36" text-anchor="middle" fill="#231f20" font-weight="bold" transform="translate(29.0,2237.0) rotate(-90)" textLength="294" lengthAdjust="spacingAndGlyphs">Absorbance/a.u.</text>
<text x="339.0" y="2502.0" font-size="36" text-anchor="middle" fill="#231f20" font-weight="bold" >Time/min</text>
<text x="6.5" y="2026.5" font-size="36" text-anchor="start" fill="#231f20" font-weight="bold" >(iv)</text>
<rect x="727.5" y="2001.4" width="533.5" height="421.9" fill="none" stroke="#2a2a2a" stroke-width="3" />
<line x1="728.5" y1="2423.3" x2="728.5" y2="2432.3" stroke="#231f20" stroke-width="3" />
<line x1="761.8" y1="2423.3" x2="761.8" y2="2429.3" stroke="#231f20" stroke-width="3" />
<line x1="795.0" y1="2423.3" x2="795.0" y2="2432.3" stroke="#231f20" stroke-width="3" />
<line x1="828.2" y1="2423.3" x2="828.2" y2="2429.3" stroke="#231f20" stroke-width="3" />
<line x1="861.5" y1="2423.3" x2="861.5" y2="2432.3" stroke="#231f20" stroke-width="3" />
<line x1="894.8" y1="2423.3" x2="894.8" y2="2429.3" stroke="#231f20" stroke-width="3" />
<line x1="928.0" y1="2423.3" x2="928.0" y2="2432.3" stroke="#231f20" stroke-width="3" />
<line x1="961.2" y1="2423.3" x2="961.2" y2="2429.3" stroke="#231f20" stroke-width="3" />
<line x1="994.5" y1="2423.3" x2="994.5" y2="2432.3" stroke="#231f20" stroke-width="3" />
<line x1="1027.8" y1="2423.3" x2="1027.8" y2="2429.3" stroke="#231f20" stroke-width="3" />
<line x1="1061.0" y1="2423.3" x2="1061.0" y2="2432.3" stroke="#231f20" stroke-width="3" />
<line x1="1094.2" y1="2423.3" x2="1094.2" y2="2429.3" stroke="#231f20" stroke-width="3" />
<line x1="1127.5" y1="2423.3" x2="1127.5" y2="2432.3" stroke="#231f20" stroke-width="3" />
<line x1="1160.8" y1="2423.3" x2="1160.8" y2="2429.3" stroke="#231f20" stroke-width="3" />
<line x1="1194.0" y1="2423.3" x2="1194.0" y2="2432.3" stroke="#231f20" stroke-width="3" />
<line x1="1227.2" y1="2423.3" x2="1227.2" y2="2429.3" stroke="#231f20" stroke-width="3" />
<line x1="1260.5" y1="2423.3" x2="1260.5" y2="2432.3" stroke="#231f20" stroke-width="3" />
<text x="795.0" y="2466.7" font-size="35.5" text-anchor="middle" fill="#231f20" font-weight="bold" >3 480</text>
<text x="928.0" y="2466.7" font-size="35.5" text-anchor="middle" fill="#231f20" font-weight="bold" >3 500</text>
<text x="1061.0" y="2466.7" font-size="35.5" text-anchor="middle" fill="#231f20" font-weight="bold" >3 520</text>
<text x="1194.0" y="2466.7" font-size="35.5" text-anchor="middle" fill="#231f20" font-weight="bold" >3 540</text>
<polyline points="727.5,2174.6 728.5,2173.9 729.5,2174.7 730.5,2173.8 731.5,2174.4 732.5,2174.3 733.5,2173.5 734.5,2174.1 735.5,2173.4 736.5,2173.9 737.5,2173.3 738.5,2173.0 739.5,2173.6 740.5,2175.0 741.5,2174.1 742.5,2173.8 743.5,2174.6 744.5,2175.8 745.5,2175.7 746.5,2175.2 747.5,2176.2 748.5,2174.7 749.5,2175.7 750.5,2174.9 751.5,2174.1 752.5,2173.5 753.5,2173.7 754.5,2175.0 755.5,2174.2 756.5,2174.7 757.5,2175.2 758.5,2174.8 759.5,2175.0 760.5,2173.9 761.5,2173.3 762.5,2173.3 763.5,2174.4 764.5,2174.5 765.5,2174.2 766.5,2174.7 767.5,2174.7 768.5,2174.4 769.5,2175.3 770.5,2175.7 771.5,2174.8 772.5,2175.1 773.5,2175.1 774.5,2176.0 775.5,2176.1 776.5,2175.2 777.5,2176.3 778.5,2174.8 779.5,2174.7 780.5,2175.4 781.5,2174.4 782.5,2174.6 783.5,2173.7 784.5,2174.6 785.5,2175.4 786.5,2175.4 787.5,2176.2 788.5,2175.2 789.5,2175.6 790.5,2175.6 791.5,2175.5 792.5,2175.2 793.5,2176.0 794.5,2176.6 795.5,2175.9 796.5,2175.9 797.5,2174.5 798.5,2175.2 799.5,2175.5 800.5,2176.5 801.5,2176.7 802.5,2175.5 803.5,2175.0 804.5,2175.4 805.5,2174.1 806.5,2174.4 807.5,2173.8 808.5,2173.4 809.5,2173.0 810.5,2174.4 811.5,2173.8 812.5,2173.7 813.5,2173.9 814.5,2175.2 815.5,2174.1 816.5,2174.4 817.5,2174.7 818.5,2175.8 819.5,2176.2 820.5,2176.6 821.5,2175.4 822.5,2175.1 823.5,2174.7 824.5,2175.7 825.5,2176.5 826.5,2175.0 827.5,2174.0 828.5,2173.5 829.5,2172.9 830.5,2172.8 831.5,2172.4 832.5,2170.5 833.5,2167.5 834.5,2164.9 835.5,2161.1 836.5,2156.6 837.5,2151.7 838.5,2144.9 839.5,2137.4 840.5,2130.6 841.5,2125.4 842.5,2120.8 843.5,2122.0 844.5,2126.3 845.5,2134.6 846.5,2146.3 847.5,2159.8 848.5,2175.2 849.5,2190.1 850.5,2205.1 851.5,2215.7 852.5,2223.0 853.5,2226.8 854.5,2226.8 855.5,2224.0 856.5,2218.0 857.5,2210.8 858.5,2203.8 859.5,2196.8 860.5,2191.3 861.5,2185.7 862.5,2183.5 863.5,2180.9 864.5,2177.9 865.5,2176.2 866.5,2175.4 867.5,2174.9 868.5,2174.0 869.5,2175.2 870.5,2176.3 871.5,2175.7 872.5,2175.4 873.5,2174.2 874.5,2173.6 875.5,2173.8 876.5,2173.7 877.5,2175.0 878.5,2174.2 879.5,2173.4 880.5,2175.1 881.5,2175.1 882.5,2174.2 883.5,2174.6 884.5,2173.6 885.5,2174.3 886.5,2175.7 887.5,2176.3 888.5,2176.2 889.5,2175.2 890.5,2174.8 891.5,2174.1 892.5,2175.1 893.5,2175.1 894.5,2175.8 895.5,2175.0 896.5,2174.4 897.5,2175.4 898.5,2176.4 899.5,2176.7 900.5,2176.7 901.5,2176.8 902.5,2176.7 903.5,2175.3 904.5,2175.2 905.5,2174.8 906.5,2173.8 907.5,2173.1 908.5,2173.3 909.5,2173.4 910.5,2174.5 911.5,2175.8 912.5,2175.4 913.5,2176.3 914.5,2176.9 915.5,2177.2 916.5,2176.0 917.5,2174.9 918.5,2174.3 919.5,2173.9 920.5,2173.6 921.5,2174.4 922.5,2175.6 923.5,2176.1 924.5,2175.5 925.5,2175.5 926.5,2175.6 927.5,2173.6 928.5,2173.3 929.5,2172.7 930.5,2170.7 931.5,2167.4 932.5,2161.8 933.5,2153.8 934.5,2145.6 935.5,2133.6 936.5,2121.0 937.5,2107.1 938.5,2091.3 939.5,2077.2 940.5,2068.0 941.5,2063.3 942.5,2064.4 943.5,2074.0 944.5,2092.5 945.5,2120.2 946.5,2152.3 947.5,2184.8 948.5,2218.4 949.5,2247.9 950.5,2269.7 951.5,2282.8 952.5,2288.3 953.5,2285.2 954.5,2276.0 955.5,2265.3 956.5,2251.0 957.5,2235.8 958.5,2222.7 959.5,2209.8 960.5,2200.5 961.5,2193.0 962.5,2186.1 963.5,2181.4 964.5,2178.4 965.5,2176.4 966.5,2175.9 967.5,2174.9 968.5,2174.7 969.5,2173.9 970.5,2175.3 971.5,2174.8 972.5,2174.8 973.5,2175.1 974.5,2176.0 975.5,2175.4 976.5,2176.3 977.5,2175.8 978.5,2175.5 979.5,2175.4 980.5,2174.1 981.5,2174.3 982.5,2173.8 983.5,2173.1 984.5,2174.6 985.5,2174.0 986.5,2174.3 987.5,2175.1 988.5,2175.2 989.5,2174.7 990.5,2174.9 991.5,2175.1 992.5,2175.7 993.5,2174.5 994.5,2174.8 995.5,2174.3 996.5,2174.0 997.5,2175.1 998.5,2175.1 999.5,2175.2 1000.5,2175.7 1001.5,2176.4 1002.5,2175.7 1003.5,2175.7 1004.5,2175.4 1005.5,2175.3 1006.5,2175.6 1007.5,2175.3 1008.5,2175.2 1009.5,2175.1 1010.5,2176.1 1011.5,2176.1 1012.5,2176.6 1013.5,2177.0 1014.5,2175.6 1015.5,2175.5 1016.5,2176.4 1017.5,2176.6 1018.5,2175.1 1019.5,2174.2 1020.5,2174.4 1021.5,2173.6 1022.5,2173.5 1023.5,2173.0 1024.5,2174.1 1025.5,2175.0 1026.5,2175.6 1027.5,2173.9 1028.5,2173.6 1029.5,2172.4 1030.5,2169.0 1031.5,2166.5 1032.5,2162.2 1033.5,2153.6 1034.5,2144.9 1035.5,2132.2 1036.5,2118.0 1037.5,2104.1 1038.5,2090.1 1039.5,2076.9 1040.5,2069.8 1041.5,2069.9 1042.5,2078.0 1043.5,2094.7 1044.5,2119.8 1045.5,2151.6 1046.5,2183.9 1047.5,2216.8 1048.5,2244.7 1049.5,2264.3 1050.5,2276.5 1051.5,2280.6 1052.5,2276.5 1053.5,2265.5 1054.5,2253.5 1055.5,2239.2 1056.5,2225.4 1057.5,2210.9 1058.5,2199.7 1059.5,2190.6 1060.5,2185.8 1061.5,2181.1 1062.5,2177.7 1063.5,2176.3 1064.5,2176.7 1065.5,2176.7 1066.5,2175.4 1067.5,2174.3 1068.5,2175.6 1069.5,2175.5 1070.5,2175.8 1071.5,2174.5 1072.5,2173.6 1073.5,2174.6 1074.5,2174.6 1075.5,2173.7 1076.5,2175.3 1077.5,2175.5 1078.5,2176.0 1079.5,2174.6 1080.5,2175.6 1081.5,2174.3 1082.5,2175.5 1083.5,2175.2 1084.5,2174.7 1085.5,2175.0 1086.5,2176.0 1087.5,2175.0 1088.5,2174.1 1089.5,2174.5 1090.5,2174.1 1091.5,2173.5 1092.5,2173.3 1093.5,2172.9 1094.5,2173.0 1095.5,2173.4 1096.5,2173.6 1097.5,2174.8 1098.5,2174.3 1099.5,2174.6 1100.5,2174.0 1101.5,2174.0 1102.5,2173.3 1103.5,2173.4 1104.5,2172.9 1105.5,2174.3 1106.5,2174.7 1107.5,2174.1 1108.5,2174.4 1109.5,2175.7 1110.5,2174.5 1111.5,2175.4 1112.5,2175.1 1113.5,2175.0 1114.5,2175.8 1115.5,2175.2 1116.5,2175.2 1117.5,2175.5 1118.5,2176.5 1119.5,2175.5 1120.5,2176.1 1121.5,2176.2 1122.5,2176.0 1123.5,2175.3 1124.5,2174.8 1125.5,2173.7 1126.5,2173.1 1127.5,2172.3 1128.5,2173.1 1129.5,2171.8 1130.5,2169.8 1131.5,2166.9 1132.5,2164.9 1133.5,2161.2 1134.5,2155.2 1135.5,2147.1 1136.5,2138.7 1137.5,2130.7 1138.5,2124.6 1139.5,2120.3 1140.5,2120.7 1141.5,2125.1 1142.5,2136.1 1143.5,2150.9 1144.5,2167.1 1145.5,2183.8 1146.5,2201.6 1147.5,2214.5 1148.5,2223.6 1149.5,2227.2 1150.5,2227.4 1151.5,2224.0 1152.5,2218.0 1153.5,2209.7 1154.5,2202.3 1155.5,2194.1 1156.5,2188.1 1157.5,2182.9 1158.5,2179.9 1159.5,2176.9 1160.5,2175.0 1161.5,2174.4 1162.5,2173.9 1163.5,2174.5 1164.5,2174.7 1165.5,2175.4 1166.5,2175.6 1167.5,2175.9 1168.5,2176.4 1169.5,2175.6 1170.5,2174.9 1171.5,2176.1 1172.5,2174.8 1173.5,2175.4 1174.5,2175.6 1175.5,2174.3 1176.5,2175.4 1177.5,2176.2 1178.5,2176.0 1179.5,2176.2 1180.5,2176.4 1181.5,2175.0 1182.5,2175.1 1183.5,2175.0 1184.5,2175.8 1185.5,2176.2 1186.5,2176.5 1187.5,2176.1 1188.5,2176.6 1189.5,2176.4 1190.5,2176.3 1191.5,2175.1 1192.5,2174.0 1193.5,2173.5 1194.5,2173.8 1195.5,2173.3 1196.5,2174.8 1197.5,2175.0 1198.5,2175.3 1199.5,2175.5 1200.5,2175.7 1201.5,2175.4 1202.5,2174.1 1203.5,2175.1 1204.5,2175.7 1205.5,2175.4 1206.5,2175.3 1207.5,2175.6 1208.5,2174.3 1209.5,2175.2 1210.5,2174.5 1211.5,2173.7 1212.5,2173.6 1213.5,2174.7 1214.5,2174.1 1215.5,2175.1 1216.5,2176.2 1217.5,2175.7 1218.5,2175.1 1219.5,2175.0 1220.5,2175.5 1221.5,2175.9 1222.5,2175.8 1223.5,2175.8 1224.5,2174.5 1225.5,2173.8 1226.5,2173.7 1227.5,2174.8 1228.5,2174.4 1229.5,2174.8 1230.5,2173.7 1231.5,2173.2 1232.5,2173.4 1233.5,2174.4 1234.5,2175.1 1235.5,2175.5 1236.5,2174.8 1237.5,2174.9 1238.5,2174.9 1239.5,2174.8 1240.5,2174.0 1241.5,2175.3 1242.5,2174.5 1243.5,2175.8 1244.5,2176.5 1245.5,2174.8 1246.5,2174.8 1247.5,2175.6 1248.5,2176.5 1249.5,2175.8 1250.5,2174.9 1251.5,2174.3 1252.5,2175.6 1253.5,2174.7 1254.5,2175.0 1255.5,2174.1 1256.5,2174.5 1257.5,2175.8 1258.5,2174.6 1259.5,2175.5 1260.5,2175.3" fill="none" stroke="#e8303a" stroke-width="3.2" stroke-linejoin="round" stroke-linecap="round" />
<polyline points="727.5,2334.3 729.0,2334.3 730.5,2332.3 732.0,2334.2 733.5,2333.3 735.0,2330.9 736.5,2329.6 738.0,2331.0 739.5,2331.6 741.0,2331.2 742.5,2330.3 744.0,2330.8 745.5,2330.9 747.0,2333.2 748.5,2330.7 750.0,2332.8 751.5,2334.2 753.0,2331.7 754.5,2334.0 756.0,2334.3 757.5,2335.2 759.0,2333.0 760.5,2332.2 762.0,2331.9 763.5,2334.5 765.0,2333.9 766.5,2332.6 768.0,2332.3 769.5,2331.5 771.0,2330.0 772.5,2329.6 774.0,2332.6 775.5,2331.6 777.0,2334.0 778.5,2332.2 780.0,2331.4 781.5,2332.0 783.0,2331.0 784.5,2331.2 786.0,2333.9 787.5,2334.9 789.0,2335.1 790.5,2334.4 792.0,2335.3 793.5,2335.9 795.0,2334.5 796.5,2334.5 798.0,2331.6 799.5,2333.1 801.0,2332.6 802.5,2333.7 804.0,2333.8 805.5,2332.3 807.0,2330.4 808.5,2333.4 810.0,2331.4 811.5,2331.9 813.0,2331.5 814.5,2331.2 816.0,2332.9 817.5,2334.9 819.0,2332.7 820.5,2333.3 822.0,2332.1 823.5,2332.6 825.0,2332.1 826.5,2330.9 828.0,2330.3 829.5,2330.1 831.0,2333.2 832.5,2332.9 834.0,2331.5 835.5,2333.8 837.0,2335.4 838.5,2333.8 840.0,2331.6 841.5,2330.7 843.0,2329.9 844.5,2330.5 846.0,2329.8 847.5,2330.0 849.0,2330.3 850.5,2331.7 852.0,2333.9 853.5,2334.3 855.0,2333.1 856.5,2332.5 858.0,2332.6 859.5,2332.1 861.0,2331.6 862.5,2330.2 864.0,2330.4 865.5,2333.6 867.0,2331.4 868.5,2332.0 870.0,2332.9 871.5,2334.3 873.0,2332.2 874.5,2331.4 876.0,2330.9 877.5,2331.3 879.0,2331.7 880.5,2334.2 882.0,2334.9 883.5,2335.4 885.0,2331.9 886.5,2330.2 888.0,2332.3 889.5,2334.2 891.0,2333.3 892.5,2333.3 894.0,2330.8 895.5,2331.2 897.0,2333.8 898.5,2334.6 900.0,2335.2 901.5,2336.0 903.0,2333.2 904.5,2331.2 906.0,2330.4 907.5,2331.6 909.0,2332.9 910.5,2334.7 912.0,2334.6 913.5,2334.3 915.0,2334.6 916.5,2333.4 918.0,2333.2 919.5,2330.9 921.0,2333.0 922.5,2331.6 924.0,2334.0 925.5,2333.9 927.0,2332.4 928.5,2330.9 930.0,2330.6 931.5,2332.2 933.0,2333.3 934.5,2331.2 936.0,2330.0 937.5,2331.4 939.0,2332.4 940.5,2332.0 942.0,2331.1 943.5,2332.3 945.0,2330.3 946.5,2330.6 948.0,2331.4 949.5,2334.0 951.0,2333.9 952.5,2335.0 954.0,2333.7 955.5,2332.0 957.0,2331.2 958.5,2333.9 960.0,2334.2 961.5,2332.5 963.0,2330.5 964.5,2331.5 966.0,2332.8 967.5,2332.4 969.0,2331.4 970.5,2332.7 972.0,2334.5 973.5,2332.4 975.0,2330.4 976.5,2330.8 978.0,2331.4 979.5,2332.8 981.0,2331.4 982.5,2333.3 984.0,2334.0 985.5,2333.3 987.0,2331.7 988.5,2334.2 990.0,2332.6 991.5,2334.0 993.0,2332.1 994.5,2331.1 996.0,2333.0 997.5,2331.9 999.0,2334.2 1000.5,2333.4 1002.0,2331.6 1003.5,2330.9 1005.0,2331.4 1006.5,2332.7 1008.0,2334.6 1009.5,2332.1 1011.0,2331.9 1012.5,2331.0 1014.0,2333.9 1015.5,2331.7 1017.0,2330.2 1018.5,2329.4 1020.0,2330.6 1021.5,2333.3 1023.0,2334.7 1024.5,2334.6 1026.0,2335.8 1027.5,2336.1 1029.0,2333.6 1030.5,2331.7 1032.0,2334.1 1033.5,2334.4 1035.0,2331.5 1036.5,2332.7 1038.0,2332.1 1039.5,2331.8 1041.0,2331.5 1042.5,2330.6 1044.0,2329.4 1045.5,2330.0 1047.0,2330.7 1048.5,2333.6 1050.0,2331.5 1051.5,2334.1 1053.0,2332.0 1054.5,2331.7 1056.0,2333.6 1057.5,2334.5 1059.0,2333.3 1060.5,2330.9 1062.0,2331.7 1063.5,2331.6 1065.0,2333.9 1066.5,2331.9 1068.0,2331.7 1069.5,2333.9 1071.0,2331.2 1072.5,2331.5 1074.0,2333.4 1075.5,2334.2 1077.0,2331.4 1078.5,2329.9 1080.0,2329.3 1081.5,2332.8 1083.0,2331.6 1084.5,2333.2 1086.0,2334.7 1087.5,2332.9 1089.0,2331.8 1090.5,2334.2 1092.0,2333.9 1093.5,2332.2 1095.0,2333.4 1096.5,2332.2 1098.0,2331.4 1099.5,2329.8 1101.0,2332.3 1102.5,2334.3 1104.0,2334.0 1105.5,2335.3 1107.0,2331.8 1108.5,2331.0 1110.0,2331.7 1111.5,2334.2 1113.0,2335.4 1114.5,2333.5 1116.0,2332.0 1117.5,2332.0 1119.0,2332.3 1120.5,2334.3 1122.0,2332.1 1123.5,2333.7 1125.0,2334.2 1126.5,2334.8 1128.0,2334.9 1129.5,2334.2 1131.0,2332.7 1132.5,2331.8 1134.0,2331.6 1135.5,2333.3 1137.0,2331.1 1138.5,2330.5 1140.0,2332.7 1141.5,2331.5 1143.0,2330.1 1144.5,2329.3 1146.0,2331.2 1147.5,2331.1 1149.0,2334.0 1150.5,2335.0 1152.0,2335.9 1153.5,2333.2 1155.0,2331.1 1156.5,2330.1 1158.0,2331.3 1159.5,2332.9 1161.0,2332.5 1162.5,2331.4 1164.0,2331.6 1165.5,2332.6 1167.0,2333.4 1168.5,2334.1 1170.0,2334.9 1171.5,2334.5 1173.0,2331.9 1174.5,2333.7 1176.0,2332.3 1177.5,2332.7 1179.0,2332.1 1180.5,2333.4 1182.0,2331.7 1183.5,2331.0 1185.0,2330.7 1186.5,2330.1 1188.0,2333.1 1189.5,2333.2 1191.0,2332.1 1192.5,2331.9 1194.0,2334.4 1195.5,2333.5 1197.0,2331.9 1198.5,2333.6 1200.0,2333.8 1201.5,2335.3 1203.0,2332.2 1204.5,2332.3 1206.0,2333.9 1207.5,2334.7 1209.0,2335.5 1210.5,2332.0 1212.0,2331.4 1213.5,2330.3 1215.0,2330.1 1216.5,2333.4 1218.0,2333.4 1219.5,2334.9 1221.0,2333.2 1222.5,2334.5 1224.0,2333.3 1225.5,2331.9 1227.0,2333.5 1228.5,2335.0 1230.0,2332.1 1231.5,2332.8 1233.0,2333.2 1234.5,2331.7 1236.0,2331.6 1237.5,2330.5 1239.0,2330.2 1240.5,2330.3 1242.0,2331.9 1243.5,2332.9 1245.0,2331.5 1246.5,2329.9 1248.0,2330.5 1249.5,2332.3 1251.0,2331.1 1252.5,2331.0 1254.0,2330.5 1255.5,2332.8 1257.0,2332.9 1258.5,2330.8 1260.0,2330.0" fill="none" stroke="#1e1e1e" stroke-width="3.2" stroke-linejoin="round" stroke-linecap="round" />
<polygon points="842.3,2091.7 846.0,2101.6 856.6,2102.1 848.3,2108.6 851.1,2118.8 842.3,2113.0 833.5,2118.8 836.3,2108.6 828.0,2102.1 838.6,2101.6" fill="#e8262b" stroke="none" stroke-width="0" />
<polygon points="940.5,2031.7 944.2,2041.6 954.8,2042.1 946.5,2048.6 949.3,2058.8 940.5,2053.0 931.7,2058.8 934.5,2048.6 926.2,2042.1 936.8,2041.6" fill="#e8262b" stroke="none" stroke-width="0" />
<polygon points="1039.5,2039.6 1043.2,2049.5 1053.8,2050.0 1045.5,2056.5 1048.3,2066.7 1039.5,2060.9 1030.7,2066.7 1033.5,2056.5 1025.2,2050.0 1035.8,2049.5" fill="#e8262b" stroke="none" stroke-width="0" />
<polygon points="1138.8,2094.8 1142.5,2104.7 1153.1,2105.2 1144.8,2111.7 1147.6,2121.9 1138.8,2116.1 1130.0,2121.9 1132.8,2111.7 1124.5,2105.2 1135.1,2104.7" fill="#e8262b" stroke="none" stroke-width="0" />
<polygon points="1162.5,2017.0 1165.7,2025.6 1174.9,2026.0 1167.7,2031.7 1170.1,2040.5 1162.5,2035.5 1154.9,2040.5 1157.3,2031.7 1150.1,2026.0 1159.3,2025.6" fill="#e8262b" stroke="none" stroke-width="0" />
<text x="1175.0" y="2041.0" font-size="35" text-anchor="start" fill="#e8262b" font-weight="bold" >·OH</text>
<line x1="849.0" y1="2356.3" x2="894.3" y2="2356.3" stroke="#1e1e1e" stroke-width="3.5" />
<text x="911.3" y="2370.0" font-size="36" text-anchor="start" fill="#231f20" font-weight="bold" >H<tspan dy="7.9" font-size="24.5">2</tspan><tspan dy="-7.9">O</tspan><tspan dy="7.9" font-size="24.5">2</tspan></text>
<line x1="849.0" y1="2399.7" x2="894.3" y2="2399.7" stroke="#e8303a" stroke-width="3.5" />
<text x="911.3" y="2410.7" font-size="37" text-anchor="start" fill="#231f20" font-weight="bold" >PCLGA/OV-FeTiO<tspan dy="8.1" font-size="25.2">2</tspan></text>
<text x="0" y="0" font-size="36" text-anchor="middle" fill="#231f20" font-weight="bold" transform="translate(702.0,2229.0) rotate(-90)" textLength="231" lengthAdjust="spacingAndGlyphs">Intensity/a.u.</text>
<text x="992.0" y="2500.0" font-size="38" text-anchor="middle" fill="#231f20" font-weight="bold" >Magnetic field/G</text>
<text x="675.5" y="2026.0" font-size="36" text-anchor="start" fill="#231f20" font-weight="bold" >(f)</text>
<defs>
<linearGradient id="gG" x1="0" x2="0" y1="0" y2="1"><stop offset="0" stop-color="#eef1f6"/><stop offset="0.5" stop-color="#dde4ef"/><stop offset="1" stop-color="#c7d3e8"/></linearGradient>
<filter id="fLat" x="-5%" y="-5%" width="110%" height="110%"><feGaussianBlur stdDeviation="0.8"/></filter>
<radialGradient id="bR" cx="0.35" cy="0.35" r="0.7"><stop offset="0" stop-color="#ffd0d0"/><stop offset="0.45" stop-color="#ee5a5e"/><stop offset="1" stop-color="#d83a40"/></radialGradient>
<radialGradient id="bRl" cx="0.35" cy="0.35" r="0.7"><stop offset="0" stop-color="#fbe0e2"/><stop offset="0.45" stop-color="#ec8c95"/><stop offset="1" stop-color="#e07480"/></radialGradient>
<radialGradient id="bB" cx="0.35" cy="0.35" r="0.7"><stop offset="0" stop-color="#e0f0fa"/><stop offset="0.45" stop-color="#6aa8cf"/><stop offset="1" stop-color="#4d8fbd"/></radialGradient>
<radialGradient id="bBl" cx="0.35" cy="0.35" r="0.7"><stop offset="0" stop-color="#e6f2fa"/><stop offset="0.45" stop-color="#8dbfdf"/><stop offset="1" stop-color="#78afd6"/></radialGradient>
<radialGradient id="bP" cx="0.35" cy="0.35" r="0.7"><stop offset="0" stop-color="#c9c3ee"/><stop offset="0.45" stop-color="#5a4fb0"/><stop offset="1" stop-color="#3f3596"/></radialGradient>
<radialGradient id="bY" cx="0.35" cy="0.35" r="0.7"><stop offset="0" stop-color="#fff3c0"/><stop offset="0.45" stop-color="#f6bb2c"/><stop offset="1" stop-color="#eea81c"/></radialGradient>
</defs>
<rect x="1328.9" y="1997.8" width="537.4" height="501.1" fill="url(#gG)" stroke="#383838" stroke-width="3.5" />
<g filter="url(#fLat)">
<line x1="1520.0" y1="2044.0" x2="1820.0" y2="2044.0" stroke="#9aa3b0" stroke-width="1.5" stroke-dasharray="5 4" opacity="0.6"/>
<line x1="1500.0" y1="2090.0" x2="1800.0" y2="2090.0" stroke="#9aa3b0" stroke-width="1.5" stroke-dasharray="5 4" opacity="0.6"/>
<line x1="1478.0" y1="2455.0" x2="1790.0" y2="2455.0" stroke="#9aa3b0" stroke-width="1.5" stroke-dasharray="5 4" opacity="0.6"/>
<line x1="1500.0" y1="2420.0" x2="1810.0" y2="2420.0" stroke="#9aa3b0" stroke-width="1.5" stroke-dasharray="5 4" opacity="0.6"/>
<line x1="1480.0" y1="2100.0" x2="1480.0" y2="2480.0" stroke="#9aa3b0" stroke-width="1.5" stroke-dasharray="5 4" opacity="0.5"/>
<line x1="1790.0" y1="2100.0" x2="1790.0" y2="2480.0" stroke="#9aa3b0" stroke-width="1.5" stroke-dasharray="5 4" opacity="0.5"/>
<line x1="1840.0" y1="2050.0" x2="1840.0" y2="2420.0" stroke="#9aa3b0" stroke-width="1.5" stroke-dasharray="5 4" opacity="0.5"/>
<line x1="1496.0" y1="2012.0" x2="1496.0" y2="2045.0" stroke="#84b5da" stroke-width="5.5" opacity="0.85" stroke-linecap="round"/>
<line x1="1474.0" y1="2090.0" x2="1474.0" y2="2470.0" stroke="#84b5da" stroke-width="5" opacity="0.7" stroke-linecap="round"/>
<line x1="1484.0" y1="2095.0" x2="1484.0" y2="2330.0" stroke="#e7848d" stroke-width="5.5" opacity="0.85" stroke-linecap="round"/>
<line x1="1494.0" y1="2100.0" x2="1494.0" y2="2175.0" stroke="#e7848d" stroke-width="5.5" opacity="0.85" stroke-linecap="round"/>
<line x1="1506.0" y1="2100.0" x2="1506.0" y2="2400.0" stroke="#84b5da" stroke-width="4.5" opacity="0.6" stroke-linecap="round"/>
<line x1="1458.0" y1="2056.0" x2="1534.0" y2="2030.0" stroke="#84b5da" stroke-width="5.5" opacity="0.85" stroke-linecap="round"/>
<line x1="1445.0" y1="2079.0" x2="1521.0" y2="2053.0" stroke="#84b5da" stroke-width="5.5" opacity="0.85" stroke-linecap="round"/>
<line x1="1430.0" y1="2103.0" x2="1506.0" y2="2077.0" stroke="#84b5da" stroke-width="5.5" opacity="0.85" stroke-linecap="round"/>
<line x1="1651.0" y1="2012.0" x2="1651.0" y2="2045.0" stroke="#84b5da" stroke-width="5.5" opacity="0.85" stroke-linecap="round"/>
<line x1="1629.0" y1="2090.0" x2="1629.0" y2="2470.0" stroke="#84b5da" stroke-width="5" opacity="0.7" stroke-linecap="round"/>
<line x1="1639.0" y1="2095.0" x2="1639.0" y2="2330.0" stroke="#e7848d" stroke-width="5.5" opacity="0.85" stroke-linecap="round"/>
<line x1="1649.0" y1="2100.0" x2="1649.0" y2="2175.0" stroke="#e7848d" stroke-width="5.5" opacity="0.85" stroke-linecap="round"/>
<line x1="1661.0" y1="2100.0" x2="1661.0" y2="2400.0" stroke="#84b5da" stroke-width="4.5" opacity="0.6" stroke-linecap="round"/>
<line x1="1613.0" y1="2056.0" x2="1689.0" y2="2030.0" stroke="#84b5da" stroke-width="5.5" opacity="0.85" stroke-linecap="round"/>
<line x1="1600.0" y1="2079.0" x2="1676.0" y2="2053.0" stroke="#84b5da" stroke-width="5.5" opacity="0.85" stroke-linecap="round"/>
<line x1="1585.0" y1="2103.0" x2="1661.0" y2="2077.0" stroke="#84b5da" stroke-width="5.5" opacity="0.85" stroke-linecap="round"/>
<line x1="1806.0" y1="2012.0" x2="1806.0" y2="2045.0" stroke="#84b5da" stroke-width="5.5" opacity="0.85" stroke-linecap="round"/>
<line x1="1784.0" y1="2090.0" x2="1784.0" y2="2470.0" stroke="#84b5da" stroke-width="5" opacity="0.7" stroke-linecap="round"/>
<line x1="1794.0" y1="2095.0" x2="1794.0" y2="2330.0" stroke="#e7848d" stroke-width="5.5" opacity="0.85" stroke-linecap="round"/>
<line x1="1804.0" y1="2100.0" x2="1804.0" y2="2175.0" stroke="#e7848d" stroke-width="5.5" opacity="0.85" stroke-linecap="round"/>
<line x1="1816.0" y1="2100.0" x2="1816.0" y2="2400.0" stroke="#84b5da" stroke-width="4.5" opacity="0.6" stroke-linecap="round"/>
<line x1="1768.0" y1="2056.0" x2="1844.0" y2="2030.0" stroke="#84b5da" stroke-width="5.5" opacity="0.85" stroke-linecap="round"/>
<line x1="1755.0" y1="2079.0" x2="1831.0" y2="2053.0" stroke="#84b5da" stroke-width="5.5" opacity="0.85" stroke-linecap="round"/>
<line x1="1740.0" y1="2103.0" x2="1816.0" y2="2077.0" stroke="#84b5da" stroke-width="5.5" opacity="0.85" stroke-linecap="round"/>
<line x1="1476.0" y1="2168.0" x2="1546.0" y2="2146.0" stroke="#e7848d" stroke-width="5.5" opacity="0.85" stroke-linecap="round"/>
<line x1="1546.0" y1="2146.0" x2="1631.0" y2="2172.0" stroke="#e7848d" stroke-width="5" opacity="0.75" stroke-linecap="round"/>
<line x1="1436.0" y1="2182.0" x2="1476.0" y2="2168.0" stroke="#e7848d" stroke-width="5" opacity="0.75" stroke-linecap="round"/>
<line x1="1631.0" y1="2168.0" x2="1701.0" y2="2146.0" stroke="#e7848d" stroke-width="5.5" opacity="0.85" stroke-linecap="round"/>
<line x1="1701.0" y1="2146.0" x2="1786.0" y2="2172.0" stroke="#e7848d" stroke-width="5" opacity="0.75" stroke-linecap="round"/>
<line x1="1591.0" y1="2182.0" x2="1631.0" y2="2168.0" stroke="#e7848d" stroke-width="5" opacity="0.75" stroke-linecap="round"/>
<line x1="1746.0" y1="2182.0" x2="1786.0" y2="2168.0" stroke="#e7848d" stroke-width="5" opacity="0.75" stroke-linecap="round"/>
<line x1="1470.0" y1="2214.0" x2="1540.0" y2="2192.0" stroke="#e7848d" stroke-width="5.5" opacity="0.85" stroke-linecap="round"/>
<line x1="1540.0" y1="2192.0" x2="1631.0" y2="2218.0" stroke="#84b5da" stroke-width="5" opacity="0.75" stroke-linecap="round"/>
<line x1="1430.0" y1="2228.0" x2="1470.0" y2="2214.0" stroke="#e7848d" stroke-width="5" opacity="0.75" stroke-linecap="round"/>
<line x1="1625.0" y1="2214.0" x2="1695.0" y2="2192.0" stroke="#e7848d" stroke-width="5.5" opacity="0.85" stroke-linecap="round"/>
<line x1="1695.0" y1="2192.0" x2="1786.0" y2="2218.0" stroke="#84b5da" stroke-width="5" opacity="0.75" stroke-linecap="round"/>
<line x1="1585.0" y1="2228.0" x2="1625.0" y2="2214.0" stroke="#e7848d" stroke-width="5" opacity="0.75" stroke-linecap="round"/>
<line x1="1740.0" y1="2228.0" x2="1780.0" y2="2214.0" stroke="#e7848d" stroke-width="5" opacity="0.75" stroke-linecap="round"/>
<line x1="1476.0" y1="2262.0" x2="1546.0" y2="2240.0" stroke="#e7848d" stroke-width="5.5" opacity="0.85" stroke-linecap="round"/>
<line x1="1546.0" y1="2240.0" x2="1631.0" y2="2266.0" stroke="#e7848d" stroke-width="5" opacity="0.75" stroke-linecap="round"/>
<line x1="1436.0" y1="2276.0" x2="1476.0" y2="2262.0" stroke="#e7848d" stroke-width="5" opacity="0.75" stroke-linecap="round"/>
<line x1="1631.0" y1="2262.0" x2="1701.0" y2="2240.0" stroke="#e7848d" stroke-width="5.5" opacity="0.85" stroke-linecap="round"/>
<line x1="1701.0" y1="2240.0" x2="1786.0" y2="2266.0" stroke="#e7848d" stroke-width="5" opacity="0.75" stroke-linecap="round"/>
<line x1="1591.0" y1="2276.0" x2="1631.0" y2="2262.0" stroke="#e7848d" stroke-width="5" opacity="0.75" stroke-linecap="round"/>
<line x1="1746.0" y1="2276.0" x2="1786.0" y2="2262.0" stroke="#e7848d" stroke-width="5" opacity="0.75" stroke-linecap="round"/>
<line x1="1470.0" y1="2310.0" x2="1540.0" y2="2288.0" stroke="#e7848d" stroke-width="5.5" opacity="0.85" stroke-linecap="round"/>
<line x1="1540.0" y1="2288.0" x2="1631.0" y2="2314.0" stroke="#84b5da" stroke-width="5" opacity="0.75" stroke-linecap="round"/>
<line x1="1430.0" y1="2324.0" x2="1470.0" y2="2310.0" stroke="#e7848d" stroke-width="5" opacity="0.75" stroke-linecap="round"/>
<line x1="1625.0" y1="2310.0" x2="1695.0" y2="2288.0" stroke="#e7848d" stroke-width="5.5" opacity="0.85" stroke-linecap="round"/>
<line x1="1695.0" y1="2288.0" x2="1786.0" y2="2314.0" stroke="#84b5da" stroke-width="5" opacity="0.75" stroke-linecap="round"/>
<line x1="1585.0" y1="2324.0" x2="1625.0" y2="2310.0" stroke="#e7848d" stroke-width="5" opacity="0.75" stroke-linecap="round"/>
<line x1="1740.0" y1="2324.0" x2="1780.0" y2="2310.0" stroke="#e7848d" stroke-width="5" opacity="0.75" stroke-linecap="round"/>
<line x1="1476.0" y1="2358.0" x2="1546.0" y2="2336.0" stroke="#e7848d" stroke-width="5.5" opacity="0.85" stroke-linecap="round"/>
<line x1="1546.0" y1="2336.0" x2="1631.0" y2="2362.0" stroke="#e7848d" stroke-width="5" opacity="0.75" stroke-linecap="round"/>
<line x1="1436.0" y1="2372.0" x2="1476.0" y2="2358.0" stroke="#e7848d" stroke-width="5" opacity="0.75" stroke-linecap="round"/>
<line x1="1631.0" y1="2358.0" x2="1701.0" y2="2336.0" stroke="#e7848d" stroke-width="5.5" opacity="0.85" stroke-linecap="round"/>
<line x1="1701.0" y1="2336.0" x2="1786.0" y2="2362.0" stroke="#e7848d" stroke-width="5" opacity="0.75" stroke-linecap="round"/>
<line x1="1591.0" y1="2372.0" x2="1631.0" y2="2358.0" stroke="#e7848d" stroke-width="5" opacity="0.75" stroke-linecap="round"/>
<line x1="1746.0" y1="2372.0" x2="1786.0" y2="2358.0" stroke="#e7848d" stroke-width="5" opacity="0.75" stroke-linecap="round"/>
<line x1="1470.0" y1="2404.0" x2="1540.0" y2="2382.0" stroke="#84b5da" stroke-width="5.5" opacity="0.85" stroke-linecap="round"/>
<line x1="1540.0" y1="2382.0" x2="1631.0" y2="2408.0" stroke="#84b5da" stroke-width="5" opacity="0.75" stroke-linecap="round"/>
<line x1="1430.0" y1="2418.0" x2="1470.0" y2="2404.0" stroke="#84b5da" stroke-width="5" opacity="0.75" stroke-linecap="round"/>
<line x1="1625.0" y1="2404.0" x2="1695.0" y2="2382.0" stroke="#84b5da" stroke-width="5.5" opacity="0.85" stroke-linecap="round"/>
<line x1="1695.0" y1="2382.0" x2="1786.0" y2="2408.0" stroke="#84b5da" stroke-width="5" opacity="0.75" stroke-linecap="round"/>
<line x1="1585.0" y1="2418.0" x2="1625.0" y2="2404.0" stroke="#84b5da" stroke-width="5" opacity="0.75" stroke-linecap="round"/>
<line x1="1740.0" y1="2418.0" x2="1780.0" y2="2404.0" stroke="#84b5da" stroke-width="5" opacity="0.75" stroke-linecap="round"/>
<line x1="1559.0" y1="2190.0" x2="1559.0" y2="2420.0" stroke="#e7848d" stroke-width="5" opacity="0.8" stroke-linecap="round"/>
<line x1="1571.0" y1="2200.0" x2="1571.0" y2="2400.0" stroke="#e7848d" stroke-width="5" opacity="0.8" stroke-linecap="round"/>
<line x1="1714.0" y1="2190.0" x2="1714.0" y2="2420.0" stroke="#e7848d" stroke-width="5" opacity="0.8" stroke-linecap="round"/>
<line x1="1726.0" y1="2200.0" x2="1726.0" y2="2400.0" stroke="#e7848d" stroke-width="5" opacity="0.8" stroke-linecap="round"/>
<line x1="1477.0" y1="2400.0" x2="1477.0" y2="2490.0" stroke="#84b5da" stroke-width="5.5" opacity="0.85" stroke-linecap="round"/>
<line x1="1444.0" y1="2465.0" x2="1519.0" y2="2439.0" stroke="#84b5da" stroke-width="5.5" opacity="0.85" stroke-linecap="round"/>
<line x1="1460.0" y1="2442.0" x2="1535.0" y2="2416.0" stroke="#84b5da" stroke-width="5.5" opacity="0.85" stroke-linecap="round"/>
<line x1="1476.0" y1="2417.0" x2="1551.0" y2="2391.0" stroke="#84b5da" stroke-width="5.5" opacity="0.85" stroke-linecap="round"/>
<line x1="1635.0" y1="2400.0" x2="1635.0" y2="2490.0" stroke="#84b5da" stroke-width="5.5" opacity="0.85" stroke-linecap="round"/>
<line x1="1602.0" y1="2465.0" x2="1677.0" y2="2439.0" stroke="#84b5da" stroke-width="5.5" opacity="0.85" stroke-linecap="round"/>
<line x1="1618.0" y1="2442.0" x2="1693.0" y2="2416.0" stroke="#84b5da" stroke-width="5.5" opacity="0.85" stroke-linecap="round"/>
<line x1="1634.0" y1="2417.0" x2="1709.0" y2="2391.0" stroke="#84b5da" stroke-width="5.5" opacity="0.85" stroke-linecap="round"/>
<line x1="1788.0" y1="2400.0" x2="1788.0" y2="2490.0" stroke="#84b5da" stroke-width="5.5" opacity="0.85" stroke-linecap="round"/>
<line x1="1755.0" y1="2465.0" x2="1830.0" y2="2439.0" stroke="#84b5da" stroke-width="5.5" opacity="0.85" stroke-linecap="round"/>
<line x1="1771.0" y1="2442.0" x2="1846.0" y2="2416.0" stroke="#84b5da" stroke-width="5.5" opacity="0.85" stroke-linecap="round"/>
<line x1="1787.0" y1="2417.0" x2="1862.0" y2="2391.0" stroke="#84b5da" stroke-width="5.5" opacity="0.85" stroke-linecap="round"/>
<circle cx="1496.0" cy="2043.0" r="13.0" fill="url(#bBl)" stroke="none" stroke-width="0" />
<circle cx="1483.0" cy="2066.0" r="13.0" fill="url(#bBl)" stroke="none" stroke-width="0" />
<circle cx="1468.0" cy="2090.0" r="13.0" fill="url(#bBl)" stroke="none" stroke-width="0" />
<circle cx="1508.0" cy="2121.0" r="13.0" fill="url(#bRl)" stroke="none" stroke-width="0" />
<circle cx="1492.0" cy="2145.0" r="13.0" fill="url(#bRl)" stroke="none" stroke-width="0" />
<circle cx="1476.0" cy="2168.0" r="13.0" fill="url(#bRl)" stroke="none" stroke-width="0" />
<circle cx="1651.0" cy="2043.0" r="13.0" fill="url(#bBl)" stroke="none" stroke-width="0" />
<circle cx="1638.0" cy="2066.0" r="13.0" fill="url(#bBl)" stroke="none" stroke-width="0" />
<circle cx="1623.0" cy="2090.0" r="13.0" fill="url(#bBl)" stroke="none" stroke-width="0" />
<circle cx="1663.0" cy="2121.0" r="13.0" fill="url(#bRl)" stroke="none" stroke-width="0" />
<circle cx="1647.0" cy="2145.0" r="13.0" fill="url(#bRl)" stroke="none" stroke-width="0" />
<circle cx="1631.0" cy="2168.0" r="13.0" fill="url(#bRl)" stroke="none" stroke-width="0" />
<circle cx="1806.0" cy="2043.0" r="13.0" fill="url(#bBl)" stroke="none" stroke-width="0" />
<circle cx="1793.0" cy="2066.0" r="13.0" fill="url(#bBl)" stroke="none" stroke-width="0" />
<circle cx="1778.0" cy="2090.0" r="13.0" fill="url(#bBl)" stroke="none" stroke-width="0" />
<circle cx="1818.0" cy="2121.0" r="13.0" fill="url(#bRl)" stroke="none" stroke-width="0" />
<circle cx="1802.0" cy="2145.0" r="13.0" fill="url(#bRl)" stroke="none" stroke-width="0" />
<circle cx="1786.0" cy="2168.0" r="13.0" fill="url(#bRl)" stroke="none" stroke-width="0" />
<circle cx="1546.0" cy="2146.0" r="13.0" fill="url(#bRl)" stroke="none" stroke-width="0" />
<circle cx="1474.0" cy="2168.0" r="13.0" fill="url(#bRl)" stroke="none" stroke-width="0" />
<circle cx="1701.0" cy="2146.0" r="13.0" fill="url(#bRl)" stroke="none" stroke-width="0" />
<circle cx="1629.0" cy="2168.0" r="13.0" fill="url(#bRl)" stroke="none" stroke-width="0" />
<circle cx="1784.0" cy="2168.0" r="13.0" fill="url(#bRl)" stroke="none" stroke-width="0" />
<circle cx="1540.0" cy="2198.0" r="13.0" fill="url(#bRl)" stroke="none" stroke-width="0" />
<circle cx="1474.0" cy="2214.0" r="13.0" fill="url(#bRl)" stroke="none" stroke-width="0" />
<circle cx="1695.0" cy="2198.0" r="13.0" fill="url(#bRl)" stroke="none" stroke-width="0" />
<circle cx="1629.0" cy="2214.0" r="13.0" fill="url(#bRl)" stroke="none" stroke-width="0" />
<circle cx="1784.0" cy="2214.0" r="13.0" fill="url(#bRl)" stroke="none" stroke-width="0" />
<circle cx="1546.0" cy="2240.0" r="13.0" fill="url(#bRl)" stroke="none" stroke-width="0" />
<circle cx="1474.0" cy="2262.0" r="13.0" fill="url(#bBl)" stroke="none" stroke-width="0" />
<circle cx="1701.0" cy="2240.0" r="13.0" fill="url(#bRl)" stroke="none" stroke-width="0" />
<circle cx="1629.0" cy="2262.0" r="13.0" fill="url(#bBl)" stroke="none" stroke-width="0" />
<circle cx="1784.0" cy="2262.0" r="13.0" fill="url(#bBl)" stroke="none" stroke-width="0" />
<circle cx="1540.0" cy="2294.0" r="13.0" fill="url(#bRl)" stroke="none" stroke-width="0" />
<circle cx="1474.0" cy="2310.0" r="13.0" fill="url(#bRl)" stroke="none" stroke-width="0" />
<circle cx="1695.0" cy="2294.0" r="13.0" fill="url(#bRl)" stroke="none" stroke-width="0" />
<circle cx="1629.0" cy="2310.0" r="13.0" fill="url(#bRl)" stroke="none" stroke-width="0" />
<circle cx="1784.0" cy="2310.0" r="13.0" fill="url(#bRl)" stroke="none" stroke-width="0" />
<circle cx="1546.0" cy="2336.0" r="13.0" fill="url(#bRl)" stroke="none" stroke-width="0" />
<circle cx="1474.0" cy="2358.0" r="13.0" fill="url(#bRl)" stroke="none" stroke-width="0" />
<circle cx="1701.0" cy="2336.0" r="13.0" fill="url(#bRl)" stroke="none" stroke-width="0" />
<circle cx="1629.0" cy="2358.0" r="13.0" fill="url(#bRl)" stroke="none" stroke-width="0" />
<circle cx="1784.0" cy="2358.0" r="13.0" fill="url(#bRl)" stroke="none" stroke-width="0" />
<circle cx="1540.0" cy="2388.0" r="13.0" fill="url(#bBl)" stroke="none" stroke-width="0" />
<circle cx="1474.0" cy="2404.0" r="13.0" fill="url(#bRl)" stroke="none" stroke-width="0" />
<circle cx="1695.0" cy="2388.0" r="13.0" fill="url(#bBl)" stroke="none" stroke-width="0" />
<circle cx="1629.0" cy="2404.0" r="13.0" fill="url(#bRl)" stroke="none" stroke-width="0" />
<circle cx="1784.0" cy="2404.0" r="13.0" fill="url(#bRl)" stroke="none" stroke-width="0" />
<circle cx="1565.0" cy="2300.0" r="13.0" fill="url(#bRl)" stroke="none" stroke-width="0" />
<circle cx="1565.0" cy="2350.0" r="13.0" fill="url(#bRl)" stroke="none" stroke-width="0" />
<circle cx="1565.0" cy="2395.0" r="13.0" fill="url(#bRl)" stroke="none" stroke-width="0" />
<circle cx="1720.0" cy="2300.0" r="13.0" fill="url(#bRl)" stroke="none" stroke-width="0" />
<circle cx="1720.0" cy="2350.0" r="13.0" fill="url(#bRl)" stroke="none" stroke-width="0" />
<circle cx="1720.0" cy="2395.0" r="13.0" fill="url(#bRl)" stroke="none" stroke-width="0" />
<circle cx="1479.0" cy="2453.0" r="13.0" fill="url(#bBl)" stroke="none" stroke-width="0" />
<circle cx="1495.0" cy="2430.0" r="13.0" fill="url(#bBl)" stroke="none" stroke-width="0" />
<circle cx="1511.0" cy="2405.0" r="13.0" fill="url(#bBl)" stroke="none" stroke-width="0" />
<circle cx="1637.0" cy="2453.0" r="13.0" fill="url(#bBl)" stroke="none" stroke-width="0" />
<circle cx="1653.0" cy="2430.0" r="13.0" fill="url(#bBl)" stroke="none" stroke-width="0" />
<circle cx="1669.0" cy="2405.0" r="13.0" fill="url(#bBl)" stroke="none" stroke-width="0" />
<circle cx="1790.0" cy="2453.0" r="13.0" fill="url(#bBl)" stroke="none" stroke-width="0" />
<circle cx="1806.0" cy="2430.0" r="13.0" fill="url(#bBl)" stroke="none" stroke-width="0" />
<circle cx="1822.0" cy="2405.0" r="13.0" fill="url(#bBl)" stroke="none" stroke-width="0" />
</g>
<circle cx="1358.9" cy="2039.6" r="14.0" fill="url(#bR)" stroke="none" stroke-width="0" />
<text x="1383.7" y="2052.1" font-size="32" text-anchor="start" fill="#231f20" font-weight="bold" >O</text>
<circle cx="1358.9" cy="2080.4" r="14.0" fill="url(#bB)" stroke="none" stroke-width="0" />
<text x="1383.7" y="2092.9" font-size="32" text-anchor="start" fill="#231f20" font-weight="bold" >Ti</text>
<circle cx="1358.9" cy="2123.0" r="14.0" fill="url(#bP)" stroke="none" stroke-width="0" />
<text x="1383.7" y="2135.5" font-size="32" text-anchor="start" fill="#231f20" font-weight="bold" >Fe</text>
<circle cx="1358.9" cy="2161.9" r="11.0" fill="url(#bY)" stroke="none" stroke-width="0" />
<text x="1383.7" y="2174.4" font-size="32" text-anchor="start" fill="#231f20" font-weight="bold" >H</text>
<circle cx="1358.9" cy="2204.4" r="18.0" fill="none" stroke="#111" stroke-width="3" stroke-dasharray="7 5"/>
<text x="1383.7" y="2215.6" font-size="32" text-anchor="start" fill="#231f20" font-weight="bold" >OV</text>
<line x1="1385.6" y1="2273.0" x2="1354.0" y2="2304.4" stroke="#e8484c" stroke-width="4" />
<circle cx="1385.6" cy="2273.0" r="15.0" fill="url(#bR)" stroke="none" stroke-width="0" />
<circle cx="1354.0" cy="2304.4" r="11.0" fill="url(#bY)" stroke="none" stroke-width="0" />
<line x1="1604.0" y1="2256.3" x2="1640.0" y2="2239.6" stroke="#e8484c" stroke-width="4" />
<line x1="1640.0" y1="2239.6" x2="1660.7" y2="2286.0" stroke="#e8484c" stroke-width="4" />
<line x1="1660.7" y1="2286.0" x2="1691.0" y2="2308.0" stroke="#e8484c" stroke-width="4" />
<line x1="1640.0" y1="2239.6" x2="1715.0" y2="2263.7" stroke="#555" stroke-width="2" stroke-dasharray="3 3"/>
<circle cx="1604.0" cy="2256.3" r="11.0" fill="url(#bY)" stroke="none" stroke-width="0" />
<circle cx="1640.0" cy="2239.6" r="15.0" fill="url(#bR)" stroke="none" stroke-width="0" />
<circle cx="1640.0" cy="2239.6" r="20.0" fill="none" stroke="#111" stroke-width="3" stroke-dasharray="6 4"/>
<circle cx="1660.7" cy="2286.0" r="15.0" fill="url(#bR)" stroke="none" stroke-width="0" />
<circle cx="1691.0" cy="2308.0" r="11.0" fill="url(#bY)" stroke="none" stroke-width="0" />
<circle cx="1715.0" cy="2263.7" r="15.0" fill="url(#bP)" stroke="none" stroke-width="0" />
<path d="M1392,2297 L1454,2298 L1447,2306 Q1545,2333 1637,2268 Q1572,2352 1452,2329 L1437,2336 Z" fill="#a64cb0"/>
<text x="1563.3" y="2211.9" font-size="32" text-anchor="start" fill="#231f20" font-weight="bold" >Adsorbing H<tspan dy="7.0" font-size="21.8">2</tspan><tspan dy="-7.0">O</tspan><tspan dy="7.0" font-size="21.8">2</tspan></text>
<text x="1417.0" y="2287.8" font-size="32" text-anchor="start" fill="#231f20" font-weight="bold" >Fe<tspan dy="-12.2" font-size="21.8">2+</tspan><tspan dy="12.2">/Fe</tspan><tspan dy="-12.2" font-size="21.8">3+</tspan></text>
<text x="1337.4" y="2347.0" font-size="32" text-anchor="start" fill="#231f20" font-weight="bold" >·OH</text>
<text x="1415.2" y="2374.8" font-size="33.4" text-anchor="start" fill="#231f20" font-weight="bold" >Fenton reaction</text>
<text x="1276.0" y="2023.0" font-size="36" text-anchor="start" fill="#231f20" font-weight="bold" >(g)</text>
</svg>
</body></html>
